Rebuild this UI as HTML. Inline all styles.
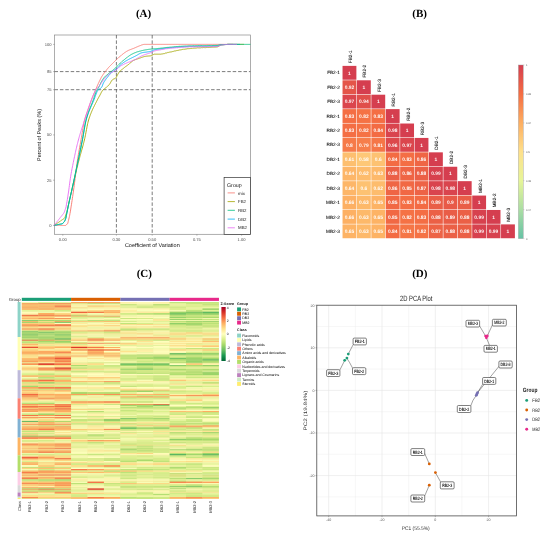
<!DOCTYPE html>
<html lang="en"><head><meta charset="utf-8"><title>Figure</title>
<style>html,body{margin:0;padding:0;background:#fff}svg{display:block;filter:blur(0.35px)}text{font-family:"Liberation Sans", Arial, sans-serif;text-rendering:geometricPrecision}.t{font-family:"Liberation Serif", "Times New Roman", serif;font-weight:bold;font-size:11px}</style></head><body>
<svg width="550" height="542" viewBox="0 0 550 542">
<rect width="550" height="542" fill="#fff"/>
<text class="t" x="143.6" y="17.3" text-anchor="middle">(A)</text>
<text class="t" x="419.7" y="17.2" text-anchor="middle">(B)</text>
<text class="t" x="144.3" y="277.1" text-anchor="middle">(C)</text>
<text class="t" x="419.8" y="277" text-anchor="middle">(D)</text>
<g id="panelA">
<rect x="54.5" y="35" width="195.9" height="199.3" fill="#fff" stroke="#8a8a8a" stroke-width="0.7"/>
<line x1="116.4" y1="35" x2="116.4" y2="234.3" stroke="#505050" stroke-width="0.75" stroke-dasharray="3.5 1.9"/>
<line x1="152.2" y1="35" x2="152.2" y2="234.3" stroke="#505050" stroke-width="0.75" stroke-dasharray="3.5 1.9"/>
<line x1="54.5" y1="71.6" x2="250.4" y2="71.6" stroke="#505050" stroke-width="0.75" stroke-dasharray="3.5 1.9"/>
<line x1="54.5" y1="89.7" x2="250.4" y2="89.7" stroke="#505050" stroke-width="0.75" stroke-dasharray="3.5 1.9"/>
<polyline fill="none" stroke="#F8766D" stroke-width="0.9" stroke-linejoin="round" points="54.1,225.4 54.4,225.4 54.7,225.4 55.0,225.4 55.3,225.4 55.6,225.4 55.9,225.4 56.2,225.4 56.5,225.4 56.8,225.4 57.1,225.4 57.4,225.4 57.7,225.4 58.0,225.4 58.3,225.4 58.6,225.4 58.9,225.4 59.2,225.4 59.5,225.4 59.8,225.4 60.1,225.5 60.4,225.5 60.7,225.5 61.0,225.5 61.3,225.5 61.6,225.5 61.9,225.5 62.2,225.5 62.5,225.5 62.8,225.5 63.1,225.5 63.4,225.5 63.7,225.5 64.0,225.5 64.3,225.5 64.6,225.5 64.9,225.5 65.2,225.5 65.5,225.5 65.8,225.2 66.1,225.0 66.4,224.7 66.7,224.5 67.0,224.2 67.3,223.9 67.6,223.7 67.9,222.8 68.2,221.5 68.5,220.3 68.8,219.1 69.1,217.9 69.4,216.6 69.7,215.2 70.0,213.4 70.3,211.9 70.6,210.0 70.9,208.0 71.2,206.1 71.5,204.2 71.8,202.2 72.1,200.3 72.4,198.3 72.7,196.3 73.0,194.2 73.3,192.1 73.6,190.0 73.9,187.8 74.2,185.5 74.5,183.1 74.8,180.8 75.1,178.4 75.4,176.1 75.7,173.7 76.0,171.2 76.3,168.9 76.6,166.5 76.9,164.2 77.2,162.1 77.5,160.0 77.8,158.1 78.1,156.2 78.4,154.4 78.7,152.7 79.0,151.0 79.3,149.3 79.6,147.7 79.9,146.0 80.2,144.4 80.5,142.8 80.8,141.1 81.1,139.4 81.4,137.7 81.7,135.9 82.0,134.1 82.3,132.2 82.6,130.4 82.9,128.6 83.2,126.9 83.5,125.2 83.8,123.6 84.1,122.2 84.4,120.8 84.7,119.6 85.0,118.5 85.3,117.5 85.6,116.5 85.9,115.6 86.2,114.7 86.5,113.9 86.8,113.1 87.1,112.3 87.4,111.4 87.7,110.6 88.0,109.7 88.3,108.8 88.6,107.9 88.9,107.1 89.2,106.2 89.5,105.3 89.8,104.4 90.1,103.6 90.4,102.7 90.7,101.9 91.0,101.1 91.3,100.3 91.6,99.5 91.9,98.7 92.2,97.9 92.5,97.2 92.8,96.4 93.1,95.7 93.4,95.0 93.7,94.3 94.0,93.5 94.3,92.8 94.6,92.1 94.9,91.4 95.2,90.7 95.5,90.0 95.8,89.3 96.1,88.6 96.4,87.9 96.7,87.2 97.0,86.5 97.3,85.8 97.6,85.1 97.9,84.5 98.2,83.8 98.5,83.2 98.8,82.5 99.1,81.9 99.4,81.2 99.7,80.6 100.0,80.0 100.3,79.4 100.6,78.8 100.9,78.2 101.2,77.6 101.5,77.1 101.8,76.5 102.1,76.0 102.4,75.6 102.7,75.1 103.0,74.7 103.3,74.2 103.6,73.8 103.9,73.4 104.2,73.0 104.5,72.6 104.8,72.2 105.1,71.8 105.4,71.4 105.7,71.0 106.0,70.7 106.3,70.3 106.6,69.9 106.9,69.5 107.2,69.2 107.5,68.8 107.8,68.4 108.1,68.1 108.4,67.7 108.7,67.4 109.0,67.0 109.3,66.7 109.6,66.4 109.9,66.1 110.2,65.8 110.5,65.5 110.8,65.2 111.1,64.9 111.4,64.6 111.7,64.3 112.0,64.0 112.3,63.7 112.6,63.4 112.9,63.1 113.2,62.8 113.5,62.5 113.8,62.2 114.1,61.9 114.4,61.6 114.7,61.3 115.0,61.0 115.3,60.7 115.6,60.4 115.9,60.1 116.2,59.8 116.5,59.5 116.8,59.2 117.1,58.9 117.4,58.7 117.7,58.4 118.0,58.1 118.3,57.9 118.6,57.6 118.9,57.3 119.2,57.1 119.5,56.8 119.8,56.6 120.1,56.3 120.4,56.1 120.7,55.8 121.0,55.6 121.3,55.3 121.6,55.1 121.9,54.8 122.2,54.6 122.5,54.3 122.8,54.1 123.1,53.9 123.4,53.6 123.7,53.4 124.0,53.1 124.3,52.9 124.6,52.7 124.9,52.5 125.2,52.3 125.5,52.1 125.8,51.9 126.1,51.7 126.4,51.5 126.7,51.3 127.0,51.1 127.3,51.0 127.6,50.8 127.9,50.6 128.2,50.5 128.5,50.4 128.8,50.2 129.1,50.1 129.4,50.0 129.7,49.8 130.0,49.7 130.3,49.6 130.6,49.5 130.9,49.4 131.2,49.3 131.5,49.2 131.8,49.0 132.1,48.9 132.4,48.8 132.7,48.7 133.0,48.6 133.3,48.5 133.6,48.4 133.9,48.3 134.2,48.1 134.5,48.0 134.8,47.9 135.1,47.8 135.4,47.6 135.7,47.5 136.0,47.4 136.3,47.2 136.6,47.1 136.9,47.0 137.2,46.8 137.5,46.7 137.8,46.5 138.1,46.4 138.4,46.3 138.7,46.2 139.0,46.0 139.3,45.9 139.6,45.8 139.9,45.7 140.2,45.6 140.5,45.5 140.8,45.4 141.1,45.2 141.4,45.1 141.7,45.0 142.0,44.9 142.3,44.8 142.6,44.7 142.9,44.6 143.2,44.5 143.5,44.5 143.8,44.4 144.1,44.4 144.4,44.4 144.7,44.4 145.0,44.4 145.3,44.4 145.6,44.4 145.9,44.4 146.2,44.4 146.5,44.4 146.8,44.4 147.1,44.4 147.4,44.4 147.7,44.4 148.0,44.4 148.3,44.4 148.6,44.4 148.9,44.4 149.2,44.4 149.5,44.4 149.8,44.4 150.1,44.4 150.4,44.4 150.7,44.4 151.0,44.4 151.3,44.4 151.6,44.4 151.9,44.4 152.2,44.4 152.5,44.4 152.8,44.4 153.1,44.4 153.4,44.4 153.7,44.4 154.0,44.4 154.3,44.4 154.6,44.4 154.9,44.4 155.2,44.4 155.5,44.4 155.8,44.4 156.1,44.4 156.4,44.4 156.7,44.4 157.0,44.4 157.3,44.4 157.6,44.4 157.9,44.4 158.2,44.4 158.5,44.4 158.8,44.4 159.1,44.4 159.4,44.4 159.7,44.4 160.0,44.4 160.3,44.4 160.6,44.4 160.9,44.4 161.2,44.4 161.5,44.4 161.8,44.4 162.1,44.4 162.4,44.4 162.7,44.4 163.0,44.4 163.3,44.4 163.6,44.4 163.9,44.4 164.2,44.4 164.5,44.4 164.8,44.4 165.1,44.4 165.4,44.4 165.7,44.4 166.0,44.4 166.3,44.4 166.6,44.4 166.9,44.4 167.2,44.4 167.5,44.4 167.8,44.4 168.1,44.4 168.4,44.4 168.7,44.4 169.0,44.4 169.3,44.4 169.6,44.4 169.9,44.4 170.2,44.4 170.5,44.4 170.8,44.4 171.1,44.4 171.4,44.4 171.7,44.4 172.0,44.4 172.3,44.4 172.6,44.4 172.9,44.4 173.2,44.4 173.5,44.4 173.8,44.4 174.1,44.4 174.4,44.4 174.7,44.4 175.0,44.4 175.3,44.4 175.6,44.4 175.9,44.4 176.2,44.4 176.5,44.4 176.8,44.4 177.1,44.4 177.4,44.4 177.7,44.4 178.0,44.4 178.3,44.4 178.6,44.4 178.9,44.4 179.2,44.4 179.5,44.4 179.8,44.4 180.1,44.4 180.4,44.4 180.7,44.4 181.0,44.4 181.3,44.4 181.6,44.4 181.9,44.4 182.2,44.4 182.5,44.4 182.8,44.4 183.1,44.4 183.4,44.4 183.7,44.4 184.0,44.4 184.3,44.4 184.6,44.4 184.9,44.4 185.2,44.4 185.5,44.4 185.8,44.4 186.1,44.4 186.4,44.4 186.7,44.4 187.0,44.4 187.3,44.4 187.6,44.4 187.9,44.4 188.2,44.4 188.5,44.4 188.8,44.4 189.1,44.4 189.4,44.4 189.7,44.4 190.0,44.4 190.3,44.4 190.6,44.4 190.9,44.4 191.2,44.4 191.5,44.4 191.8,44.4 192.1,44.4 192.4,44.4 192.7,44.4 193.0,44.4 193.3,44.4 193.6,44.4 193.9,44.4 194.2,44.4 194.5,44.4 194.8,44.4 195.1,44.4 195.4,44.4 195.7,44.4 196.0,44.4 196.3,44.4 196.6,44.4 196.9,44.4 197.2,44.4 197.5,44.4 197.8,44.4 198.1,44.4 198.4,44.4 198.7,44.4 199.0,44.4 199.3,44.4 199.6,44.4 199.9,44.4 200.2,44.4 200.5,44.4 200.8,44.4 201.1,44.4 201.4,44.4 201.7,44.4 202.0,44.4 202.3,44.4 202.6,44.4 202.9,44.4 203.2,44.4 203.5,44.4 203.8,44.4 204.1,44.4 204.4,44.4 204.7,44.4 205.0,44.4 205.3,44.4 205.6,44.4 205.9,44.4 206.2,44.4 206.5,44.4 206.8,44.4 207.1,44.4 207.4,44.4 207.7,44.4 208.0,44.4 208.3,44.4 208.6,44.4 208.9,44.4 209.2,44.4 209.5,44.4 209.8,44.4 210.1,44.4 210.4,44.4 210.7,44.4 211.0,44.4 211.3,44.4 211.6,44.4 211.9,44.4 212.2,44.4 212.5,44.4 212.8,44.4 213.1,44.4 213.4,44.4 213.7,44.4 214.0,44.4 214.3,44.4 214.6,44.4 214.9,44.4 215.2,44.4 215.5,44.4 215.8,44.4 216.1,44.4 216.4,44.4 216.7,44.4 217.0,44.4 217.3,44.4 217.6,44.4 217.9,44.4 218.2,44.4 218.5,44.4 218.8,44.4 219.1,44.4 219.4,44.4 219.7,44.4 220.0,44.4 220.3,44.4 220.6,44.4 220.9,44.4 221.2,44.4 221.5,44.4 221.8,44.4 222.1,44.4 222.4,44.4 222.7,44.4 223.0,44.4 223.3,44.4 223.6,44.4 223.9,44.4 224.2,44.4 224.5,44.4 224.8,44.4 225.1,44.4 225.4,44.4 225.7,44.4 226.0,44.4 226.3,44.4 226.6,44.4 226.9,44.4 227.2,44.4 227.5,44.4 227.8,44.4 228.1,44.4 228.4,44.4 228.7,44.4 229.0,44.4 229.3,44.4 229.6,44.4 229.9,44.4 230.2,44.4 230.5,44.4 230.8,44.4 231.1,44.4 231.4,44.4 231.7,44.4 232.0,44.4 232.3,44.4 232.6,44.4 232.9,44.4 233.0,44.4"/>
<polyline fill="none" stroke="#A3A500" stroke-width="0.9" stroke-linejoin="round" points="54.1,225.4 54.4,225.2 54.7,225.0 55.0,224.8 55.3,224.6 55.6,224.4 55.9,224.2 56.2,223.9 56.5,223.7 56.8,223.5 57.1,223.3 57.4,223.1 57.7,222.9 58.0,222.7 58.3,222.5 58.6,222.3 58.9,222.1 59.2,221.9 59.5,221.7 59.8,221.5 60.1,221.3 60.4,221.0 60.7,220.8 61.0,220.6 61.3,220.4 61.6,220.2 61.9,220.0 62.2,219.8 62.5,219.6 62.8,219.4 63.1,219.2 63.4,219.0 63.7,218.8 64.0,218.6 64.3,218.3 64.6,218.1 64.9,217.7 65.2,216.8 65.5,215.9 65.8,215.0 66.1,214.1 66.4,213.2 66.7,212.3 67.0,211.4 67.3,210.0 67.6,208.6 67.9,207.2 68.2,205.8 68.5,204.4 68.8,203.0 69.1,201.6 69.4,200.2 69.7,199.0 70.0,197.7 70.3,196.3 70.6,195.0 70.9,193.8 71.2,192.5 71.5,191.3 71.8,190.0 72.1,188.7 72.4,187.5 72.7,186.2 73.0,184.9 73.3,183.6 73.6,182.4 73.9,181.1 74.2,179.8 74.5,178.5 74.8,177.3 75.1,176.0 75.4,174.7 75.7,173.5 76.0,172.2 76.3,170.9 76.6,169.7 76.9,168.5 77.2,167.2 77.5,166.0 77.8,164.8 78.1,163.6 78.4,162.4 78.7,161.2 79.0,160.0 79.3,158.8 79.6,157.7 79.9,156.6 80.2,155.5 80.5,154.4 80.8,153.4 81.1,152.3 81.4,151.2 81.7,150.2 82.0,149.1 82.3,148.1 82.6,147.0 82.9,145.9 83.2,144.8 83.5,143.6 83.8,142.4 84.1,141.2 84.4,140.0 84.7,138.7 85.0,137.3 85.3,135.8 85.6,134.3 85.9,132.7 86.2,131.1 86.5,129.5 86.8,127.9 87.1,126.4 87.4,124.9 87.7,123.5 88.0,122.2 88.3,121.0 88.6,120.0 88.9,119.0 89.2,118.1 89.5,117.2 89.8,116.4 90.1,115.5 90.4,114.7 90.7,113.9 91.0,113.2 91.3,112.4 91.6,111.7 91.9,111.0 92.2,110.3 92.5,109.6 92.8,109.0 93.1,108.3 93.4,107.7 93.7,107.1 94.0,106.5 94.3,105.9 94.6,105.3 94.9,104.7 95.2,104.1 95.5,103.5 95.8,102.9 96.1,102.4 96.4,101.8 96.7,101.2 97.0,100.6 97.3,100.0 97.6,99.4 97.9,98.8 98.2,98.3 98.5,97.7 98.8,97.2 99.1,96.7 99.4,96.1 99.7,95.6 100.0,95.0 100.3,94.5 100.6,93.9 100.9,93.3 101.2,92.7 101.5,92.1 101.8,91.6 102.1,91.1 102.4,90.7 102.7,90.3 103.0,90.0 103.3,89.7 103.6,89.4 103.9,89.2 104.2,88.9 104.5,88.7 104.8,88.5 105.1,88.3 105.4,88.1 105.7,87.9 106.0,87.6 106.3,87.4 106.6,87.1 106.9,86.9 107.2,86.6 107.5,86.3 107.8,86.1 108.1,85.8 108.4,85.5 108.7,85.2 109.0,84.9 109.3,84.5 109.6,84.1 109.9,83.7 110.2,83.2 110.5,82.7 110.8,82.1 111.1,81.6 111.4,81.1 111.7,80.6 112.0,80.2 112.3,79.9 112.6,79.7 112.9,79.5 113.2,79.3 113.5,79.1 113.8,79.0 114.1,78.9 114.4,78.7 114.7,78.6 115.0,78.4 115.3,78.3 115.6,78.1 115.9,77.8 116.2,77.5 116.5,76.9 116.8,76.3 117.1,75.6 117.4,75.0 117.7,74.5 118.0,74.0 118.3,73.5 118.6,73.0 118.9,72.5 119.2,72.1 119.5,71.7 119.8,71.4 120.1,71.1 120.4,70.8 120.7,70.6 121.0,70.3 121.3,70.1 121.6,69.8 121.9,69.6 122.2,69.3 122.5,69.1 122.8,68.8 123.1,68.6 123.4,68.3 123.7,68.1 124.0,67.8 124.3,67.6 124.6,67.3 124.9,67.1 125.2,66.9 125.5,66.7 125.8,66.5 126.1,66.2 126.4,66.0 126.7,65.8 127.0,65.6 127.3,65.4 127.6,65.2 127.9,65.0 128.2,64.7 128.5,64.5 128.8,64.3 129.1,64.0 129.4,63.8 129.7,63.5 130.0,63.2 130.3,63.0 130.6,62.7 130.9,62.4 131.2,62.1 131.5,61.8 131.8,61.6 132.1,61.3 132.4,61.1 132.7,60.9 133.0,60.7 133.3,60.5 133.6,60.4 133.9,60.2 134.2,60.1 134.5,60.0 134.8,59.8 135.1,59.7 135.4,59.6 135.7,59.5 136.0,59.4 136.3,59.3 136.6,59.2 136.9,59.1 137.2,59.0 137.5,58.9 137.8,58.8 138.1,58.7 138.4,58.6 138.7,58.5 139.0,58.4 139.3,58.3 139.6,58.2 139.9,58.1 140.2,58.0 140.5,57.9 140.8,57.7 141.1,57.6 141.4,57.5 141.7,57.4 142.0,57.3 142.3,57.2 142.6,57.1 142.9,57.0 143.2,56.9 143.5,56.8 143.8,56.7 144.1,56.6 144.4,56.5 144.7,56.5 145.0,56.4 145.3,56.4 145.6,56.3 145.9,56.3 146.2,56.2 146.5,56.2 146.8,56.2 147.1,56.1 147.4,56.1 147.7,56.1 148.0,56.1 148.3,56.0 148.6,56.0 148.9,56.0 149.2,56.0 149.5,55.9 149.8,55.9 150.1,55.8 150.4,55.8 150.7,55.8 151.0,55.7 151.3,55.6 151.6,55.5 151.9,55.4 152.2,55.2 152.5,55.1 152.8,54.9 153.1,54.7 153.4,54.6 153.7,54.4 154.0,54.3 154.3,54.2 154.6,54.2 154.9,54.2 155.2,54.2 155.5,54.2 155.8,54.2 156.1,54.2 156.4,54.2 156.7,54.2 157.0,54.2 157.3,54.2 157.6,54.2 157.9,54.2 158.2,54.2 158.5,54.2 158.8,54.2 159.1,54.2 159.4,54.2 159.7,54.2 160.0,54.2 160.3,54.2 160.6,54.2 160.9,54.2 161.2,54.1 161.5,54.0 161.8,54.1 162.1,54.1 162.4,53.9 162.7,53.9 163.0,53.8 163.3,53.7 163.6,53.7 163.9,53.6 164.2,53.6 164.5,53.6 164.8,53.4 165.1,53.3 165.4,53.2 165.7,53.0 166.0,53.2 166.3,53.0 166.6,53.0 166.9,52.8 167.2,52.7 167.5,52.6 167.8,52.4 168.1,52.5 168.4,52.5 168.7,52.3 169.0,52.3 169.3,52.3 169.6,52.1 169.9,51.9 170.2,52.1 170.5,51.9 170.8,51.9 171.1,51.8 171.4,51.8 171.7,51.8 172.0,51.5 172.3,51.6 172.6,51.5 172.9,51.5 173.2,51.5 173.5,51.3 173.8,51.3 174.1,51.2 174.4,51.1 174.7,50.9 175.0,50.9 175.3,51.0 175.6,50.8 175.9,50.7 176.2,50.7 176.5,50.6 176.8,50.5 177.1,50.5 177.4,50.5 177.7,50.4 178.0,50.3 178.3,50.4 178.6,50.2 178.9,50.1 179.2,50.1 179.5,50.0 179.8,49.9 180.1,50.0 180.4,49.9 180.7,49.8 181.0,49.8 181.3,49.7 181.6,49.7 181.9,49.7 182.2,49.6 182.5,49.4 182.8,49.4 183.1,49.5 183.4,49.2 183.7,49.2 184.0,49.2 184.3,49.3 184.6,49.2 184.9,49.0 185.2,49.1 185.5,49.1 185.8,49.0 186.1,49.0 186.4,49.0 186.7,48.8 187.0,48.8 187.3,48.7 187.6,48.7 187.9,48.8 188.2,48.6 188.5,48.7 188.8,48.6 189.1,48.5 189.4,48.6 189.7,48.6 190.0,48.6 190.3,48.5 190.6,48.5 190.9,48.3 191.2,48.4 191.5,48.4 191.8,48.4 192.1,48.5 192.4,48.2 192.7,48.3 193.0,48.4 193.3,48.3 193.6,48.2 193.9,48.1 194.2,48.1 194.5,48.2 194.8,48.1 195.1,48.2 195.4,48.1 195.7,48.1 196.0,48.0 196.3,48.1 196.6,47.9 196.9,48.1 197.2,47.9 197.5,47.9 197.8,47.8 198.1,47.9 198.4,47.8 198.7,47.9 199.0,47.8 199.3,47.9 199.6,47.9 199.9,47.7 200.2,47.8 200.5,47.8 200.8,47.8 201.1,47.7 201.4,47.6 201.7,47.7 202.0,47.7 202.3,47.7 202.6,47.7 202.9,47.7 203.2,47.7 203.5,47.5 203.8,47.5 204.1,47.6 204.4,47.6 204.7,47.5 205.0,47.4 205.3,47.6 205.6,47.6 205.9,47.4 206.2,47.5 206.5,47.5 206.8,47.4 207.1,47.4 207.4,47.4 207.7,47.4 208.0,47.3 208.3,47.4 208.6,47.5 208.9,47.4 209.2,47.3 209.5,47.4 209.8,47.4 210.1,47.4 210.4,47.3 210.7,47.4 211.0,47.3 211.3,47.2 211.6,47.3 211.9,47.2 212.2,47.2 212.5,47.2 212.8,47.2 213.1,47.3 213.4,47.1 213.7,47.2 214.0,47.2 214.3,47.1 214.6,47.2 214.9,47.2 215.2,47.1 215.5,47.1 215.8,47.1 216.1,47.1 216.4,47.0 216.7,47.0 217.0,47.0 217.3,46.9 217.6,46.8 217.9,46.7 218.2,46.5 218.5,46.4 218.8,46.2 219.1,46.0 219.4,45.8 219.7,45.7 220.0,45.5 220.3,45.3 220.6,45.2 220.9,45.1 221.2,45.0 221.5,44.9 221.8,44.9 222.1,44.8 222.4,44.8 222.7,44.8 223.0,44.8 223.3,44.7 223.6,44.7 223.9,44.7 224.2,44.6 224.5,44.6 224.8,44.6 225.1,44.6 225.4,44.6 225.7,44.5 226.0,44.5 226.3,44.5 226.6,44.5 226.9,44.5 227.2,44.5 227.5,44.4 227.8,44.4 228.1,44.4 228.4,44.4 228.7,44.4 229.0,44.4 229.3,44.4 229.6,44.4 229.9,44.4 230.2,44.4 230.5,44.4 230.8,44.4 231.1,44.4 231.4,44.4 231.7,44.4 232.0,44.4 232.3,44.4 232.6,44.4 232.9,44.4 233.2,44.4 233.5,44.4 233.8,44.4 234.1,44.4 234.4,44.4 234.7,44.4 235.0,44.4 235.3,44.4 235.6,44.4 235.9,44.4 236.2,44.4 236.5,44.4 236.8,44.4 237.1,44.4 237.4,44.4 237.7,44.4 238.0,44.4 238.3,44.4 238.6,44.4 238.9,44.4 239.2,44.4 239.5,44.4 239.8,44.4 240.1,44.4 240.4,44.4 240.7,44.4 241.0,44.4 241.3,44.4 241.6,44.4 241.9,44.4 242.2,44.4 242.5,44.4 242.8,44.4 243.1,44.4 243.4,44.4 243.7,44.4 244.0,44.4"/>
<polyline fill="none" stroke="#00B0F6" stroke-width="0.9" stroke-linejoin="round" points="54.1,225.4 54.4,225.3 54.7,225.3 55.0,225.2 55.3,225.2 55.6,225.1 55.9,225.1 56.2,225.0 56.5,225.0 56.8,224.9 57.1,224.9 57.4,224.8 57.7,224.7 58.0,224.7 58.3,224.6 58.6,224.6 58.9,224.5 59.2,224.5 59.5,224.4 59.8,224.4 60.1,224.3 60.4,224.2 60.7,224.2 61.0,224.1 61.3,224.1 61.6,224.0 61.9,224.0 62.2,223.9 62.5,223.7 62.8,223.4 63.1,223.0 63.4,222.7 63.7,222.4 64.0,222.1 64.3,221.7 64.6,221.4 64.9,220.6 65.2,219.9 65.5,219.1 65.8,218.3 66.1,216.8 66.4,215.3 66.7,213.9 67.0,212.4 67.3,210.9 67.6,209.4 67.9,208.0 68.2,206.5 68.5,205.0 68.8,203.7 69.1,202.4 69.4,201.0 69.7,199.7 70.0,198.4 70.3,197.0 70.6,195.7 70.9,194.4 71.2,193.1 71.5,191.8 71.8,190.5 72.1,189.1 72.4,187.7 72.7,186.3 73.0,185.0 73.3,183.6 73.6,182.2 73.9,180.8 74.2,179.4 74.5,178.0 74.8,176.6 75.1,175.2 75.4,173.7 75.7,172.3 76.0,170.9 76.3,169.5 76.6,168.1 76.9,166.6 77.2,165.2 77.5,163.8 77.8,162.4 78.1,160.9 78.4,159.5 78.7,158.1 79.0,156.7 79.3,155.3 79.6,153.9 79.9,152.5 80.2,151.1 80.5,149.7 80.8,148.3 81.1,146.9 81.4,145.4 81.7,144.0 82.0,142.5 82.3,141.0 82.6,139.5 82.9,137.9 83.2,136.2 83.5,134.4 83.8,132.6 84.1,130.8 84.4,129.1 84.7,127.3 85.0,125.6 85.3,124.0 85.6,122.5 85.9,121.2 86.2,120.0 86.5,118.9 86.8,117.9 87.1,116.9 87.4,116.0 87.7,115.0 88.0,114.2 88.3,113.3 88.6,112.5 88.9,111.7 89.2,111.0 89.5,110.2 89.8,109.5 90.1,108.8 90.4,108.1 90.7,107.4 91.0,106.7 91.3,106.0 91.6,105.4 91.9,104.7 92.2,104.0 92.5,103.3 92.8,102.6 93.1,101.9 93.4,101.2 93.7,100.5 94.0,99.7 94.3,99.0 94.6,98.1 94.9,97.3 95.2,96.5 95.5,95.6 95.8,94.8 96.1,94.0 96.4,93.2 96.7,92.5 97.0,91.8 97.3,91.2 97.6,90.7 97.9,90.3 98.2,90.0 98.5,89.7 98.8,89.4 99.1,89.2 99.4,89.0 99.7,88.9 100.0,88.7 100.3,88.5 100.6,88.3 100.9,88.0 101.2,87.8 101.5,87.4 101.8,87.0 102.1,86.4 102.4,85.6 102.7,84.8 103.0,84.0 103.3,83.3 103.6,82.7 103.9,82.2 104.2,81.7 104.5,81.2 104.8,80.8 105.1,80.3 105.4,79.9 105.7,79.5 106.0,79.1 106.3,78.7 106.6,78.3 106.9,78.0 107.2,77.6 107.5,77.2 107.8,76.8 108.1,76.4 108.4,76.0 108.7,75.6 109.0,75.3 109.3,74.9 109.6,74.6 109.9,74.2 110.2,73.9 110.5,73.6 110.8,73.3 111.1,73.0 111.4,72.7 111.7,72.5 112.0,72.2 112.3,72.0 112.6,71.8 112.9,71.5 113.2,71.3 113.5,71.1 113.8,70.8 114.1,70.6 114.4,70.4 114.7,70.1 115.0,69.9 115.3,69.7 115.6,69.5 115.9,69.3 116.2,69.0 116.5,68.8 116.8,68.6 117.1,68.4 117.4,68.1 117.7,67.9 118.0,67.6 118.3,67.3 118.6,67.0 118.9,66.6 119.2,66.2 119.5,65.8 119.8,65.5 120.1,65.2 120.4,64.9 120.7,64.7 121.0,64.4 121.3,64.2 121.6,63.9 121.9,63.7 122.2,63.5 122.5,63.2 122.8,63.0 123.1,62.8 123.4,62.6 123.7,62.4 124.0,62.2 124.3,62.0 124.6,61.8 124.9,61.6 125.2,61.4 125.5,61.2 125.8,61.0 126.1,60.9 126.4,60.7 126.7,60.5 127.0,60.3 127.3,60.2 127.6,60.0 127.9,59.8 128.2,59.6 128.5,59.5 128.8,59.3 129.1,59.2 129.4,59.0 129.7,58.9 130.0,58.7 130.3,58.6 130.6,58.4 130.9,58.3 131.2,58.1 131.5,58.0 131.8,57.8 132.1,57.7 132.4,57.6 132.7,57.4 133.0,57.3 133.3,57.1 133.6,57.0 133.9,56.8 134.2,56.7 134.5,56.5 134.8,56.4 135.1,56.2 135.4,56.1 135.7,55.9 136.0,55.7 136.3,55.6 136.6,55.4 136.9,55.2 137.2,55.0 137.5,54.9 137.8,54.7 138.1,54.5 138.4,54.3 138.7,54.2 139.0,54.0 139.3,53.8 139.6,53.7 139.9,53.5 140.2,53.4 140.5,53.2 140.8,53.1 141.1,53.0 141.4,52.9 141.7,52.8 142.0,52.7 142.3,52.7 142.6,52.6 142.9,52.5 143.2,52.5 143.5,52.4 143.8,52.4 144.1,52.3 144.4,52.3 144.7,52.3 145.0,52.2 145.3,52.2 145.6,52.2 145.9,52.1 146.2,52.1 146.5,52.1 146.8,52.0 147.1,52.0 147.4,51.9 147.7,51.9 148.0,51.9 148.3,51.8 148.6,51.8 148.9,51.7 149.2,51.7 149.5,51.6 149.8,51.5 150.1,51.4 150.4,51.4 150.7,51.3 151.0,51.1 151.3,51.0 151.6,50.9 151.9,50.8 152.2,50.7 152.5,50.5 152.8,50.4 153.1,50.3 153.4,50.2 153.7,50.1 154.0,50.0 154.3,49.9 154.6,49.8 154.9,49.8 155.2,49.7 155.5,49.6 155.8,49.6 156.1,49.5 156.4,49.5 156.7,49.4 157.0,49.4 157.3,49.4 157.6,49.3 157.9,49.3 158.2,49.2 158.5,49.2 158.8,49.2 159.1,49.1 159.4,49.1 159.7,49.0 160.0,49.0 160.3,48.9 160.6,48.9 160.9,49.0 161.2,48.9 161.5,48.7 161.8,48.8 162.1,48.8 162.4,48.8 162.7,48.6 163.0,48.7 163.3,48.6 163.6,48.5 163.9,48.3 164.2,48.4 164.5,48.3 164.8,48.3 165.1,48.2 165.4,48.3 165.7,48.1 166.0,48.2 166.3,48.0 166.6,48.2 166.9,47.9 167.2,48.1 167.5,47.9 167.8,48.0 168.1,48.0 168.4,47.9 168.7,47.7 169.0,47.7 169.3,47.7 169.6,47.8 169.9,47.8 170.2,47.8 170.5,47.6 170.8,47.6 171.1,47.6 171.4,47.6 171.7,47.6 172.0,47.5 172.3,47.6 172.6,47.5 172.9,47.5 173.2,47.3 173.5,47.4 173.8,47.4 174.1,47.3 174.4,47.4 174.7,47.2 175.0,47.3 175.3,47.3 175.6,47.3 175.9,47.1 176.2,47.2 176.5,47.2 176.8,47.0 177.1,47.2 177.4,47.1 177.7,47.0 178.0,47.1 178.3,47.1 178.6,47.0 178.9,46.9 179.2,46.8 179.5,47.0 179.8,46.9 180.1,46.9 180.4,46.9 180.7,46.9 181.0,46.9 181.3,46.8 181.6,46.7 181.9,46.7 182.2,46.8 182.5,46.8 182.8,46.7 183.1,46.8 183.4,46.8 183.7,46.6 184.0,46.6 184.3,46.7 184.6,46.7 184.9,46.7 185.2,46.7 185.5,46.7 185.8,46.5 186.1,46.6 186.4,46.6 186.7,46.4 187.0,46.5 187.3,46.6 187.6,46.5 187.9,46.5 188.2,46.6 188.5,46.4 188.8,46.4 189.1,46.4 189.4,46.4 189.7,46.4 190.0,46.4 190.3,46.3 190.6,46.4 190.9,46.4 191.2,46.3 191.5,46.5 191.8,46.4 192.1,46.3 192.4,46.3 192.7,46.3 193.0,46.3 193.3,46.4 193.6,46.3 193.9,46.2 194.2,46.4 194.5,46.3 194.8,46.3 195.1,46.2 195.4,46.3 195.7,46.4 196.0,46.3 196.3,46.3 196.6,46.3 196.9,46.3 197.2,46.3 197.5,46.2 197.8,46.3 198.1,46.2 198.4,46.1 198.7,46.3 199.0,46.3 199.3,46.2 199.6,46.2 199.9,46.3 200.2,46.3 200.5,46.1 200.8,46.2 201.1,46.2 201.4,46.2 201.7,46.1 202.0,46.2 202.3,46.3 202.6,46.2 202.9,46.3 203.2,46.2 203.5,46.2 203.8,46.2 204.1,46.1 204.4,46.3 204.7,46.2 205.0,46.1 205.3,46.2 205.6,46.2 205.9,46.1 206.2,46.3 206.5,46.1 206.8,46.3 207.1,46.1 207.4,46.2 207.7,46.1 208.0,46.1 208.3,46.1 208.6,46.1 208.9,46.1 209.2,46.0 209.5,46.0 209.8,46.0 210.1,46.1 210.4,46.2 210.7,46.1 211.0,46.0 211.3,46.2 211.6,46.1 211.9,46.0 212.2,46.0 212.5,46.1 212.8,46.1 213.1,46.0 213.4,45.9 213.7,46.0 214.0,46.0 214.3,46.0 214.6,46.0 214.9,46.0 215.2,46.0 215.5,46.0 215.8,45.9 216.1,45.9 216.4,45.9 216.7,45.9 217.0,45.9 217.3,45.9 217.6,45.8 217.9,45.7 218.2,45.7 218.5,45.6 218.8,45.5 219.1,45.4 219.4,45.3 219.7,45.2 220.0,45.1 220.3,45.0 220.6,45.0 220.9,44.9 221.2,44.8 221.5,44.8 221.8,44.8 222.1,44.8 222.4,44.7 222.7,44.7 223.0,44.7 223.3,44.7 223.6,44.6 223.9,44.6 224.2,44.6 224.5,44.6 224.8,44.6 225.1,44.5 225.4,44.5 225.7,44.5 226.0,44.5 226.3,44.5 226.6,44.5 226.9,44.5 227.2,44.5 227.5,44.4 227.8,44.4 228.1,44.4 228.4,44.4 228.7,44.4 229.0,44.4 229.3,44.4 229.6,44.4 229.9,44.4 230.2,44.4 230.5,44.4 230.8,44.4 231.1,44.4 231.4,44.4 231.7,44.4 232.0,44.4 232.3,44.4 232.6,44.4 232.9,44.4 233.2,44.4 233.5,44.4 233.8,44.4 234.1,44.4 234.4,44.4 234.7,44.4 235.0,44.4 235.3,44.4 235.6,44.4 235.9,44.4 236.2,44.4 236.5,44.4 236.8,44.4 237.1,44.4 237.4,44.4 237.7,44.4 238.0,44.4 238.3,44.4 238.6,44.4 238.9,44.4 239.2,44.4 239.5,44.4 239.8,44.4 240.0,44.4"/>
<polyline fill="none" stroke="#00BF7D" stroke-width="0.9" stroke-linejoin="round" points="54.1,225.4 54.4,225.3 54.7,225.3 55.0,225.2 55.3,225.1 55.6,225.1 55.9,225.0 56.2,225.0 56.5,224.9 56.8,224.8 57.1,224.8 57.4,224.7 57.7,224.6 58.0,224.6 58.3,224.5 58.6,224.4 58.9,224.4 59.2,224.3 59.5,224.2 59.8,224.2 60.1,224.1 60.4,224.1 60.7,224.0 61.0,223.9 61.3,223.9 61.6,223.8 61.9,223.7 62.2,223.7 62.5,223.6 62.8,223.3 63.1,222.9 63.4,222.6 63.7,222.2 64.0,221.9 64.3,221.6 64.6,221.2 64.9,220.7 65.2,219.9 65.5,219.1 65.8,218.3 66.1,217.0 66.4,215.5 66.7,213.9 67.0,212.4 67.3,210.9 67.6,209.4 67.9,207.8 68.2,206.3 68.5,204.8 68.8,203.5 69.1,202.1 69.4,200.8 69.7,199.4 70.0,198.1 70.3,196.7 70.6,195.3 70.9,194.0 71.2,192.7 71.5,191.4 71.8,190.0 72.1,188.6 72.4,187.2 72.7,185.9 73.0,184.5 73.3,183.1 73.6,181.7 73.9,180.3 74.2,178.9 74.5,177.5 74.8,176.1 75.1,174.7 75.4,173.3 75.7,171.9 76.0,170.5 76.3,169.0 76.6,167.6 76.9,166.2 77.2,164.8 77.5,163.3 77.8,161.9 78.1,160.5 78.4,159.0 78.7,157.6 79.0,156.2 79.3,154.7 79.6,153.3 79.9,151.9 80.2,150.4 80.5,149.0 80.8,147.5 81.1,146.0 81.4,144.5 81.7,143.0 82.0,141.5 82.3,140.0 82.6,138.4 82.9,136.7 83.2,135.0 83.5,133.2 83.8,131.5 84.1,129.7 84.4,127.9 84.7,126.2 85.0,124.6 85.3,123.1 85.6,121.7 85.9,120.4 86.2,119.3 86.5,118.2 86.8,117.1 87.1,116.1 87.4,115.2 87.7,114.3 88.0,113.4 88.3,112.5 88.6,111.7 88.9,110.9 89.2,110.1 89.5,109.4 89.8,108.6 90.1,107.9 90.4,107.1 90.7,106.4 91.0,105.7 91.3,104.9 91.6,104.2 91.9,103.5 92.2,102.7 92.5,101.9 92.8,101.1 93.1,100.3 93.4,99.4 93.7,98.5 94.0,97.6 94.3,96.7 94.6,95.7 94.9,94.8 95.2,94.0 95.5,93.1 95.8,92.4 96.1,91.7 96.4,91.1 96.7,90.6 97.0,90.0 97.3,89.6 97.6,89.1 97.9,88.6 98.2,88.2 98.5,87.7 98.8,87.1 99.1,86.5 99.4,85.9 99.7,85.3 100.0,84.6 100.3,84.0 100.6,83.3 100.9,82.7 101.2,82.1 101.5,81.6 101.8,81.1 102.1,80.6 102.4,80.1 102.7,79.6 103.0,79.1 103.3,78.7 103.6,78.2 103.9,77.8 104.2,77.5 104.5,77.1 104.8,76.8 105.1,76.5 105.4,76.2 105.7,75.9 106.0,75.7 106.3,75.5 106.6,75.2 106.9,75.0 107.2,74.7 107.5,74.5 107.8,74.2 108.1,74.0 108.4,73.7 108.7,73.5 109.0,73.2 109.3,73.0 109.6,72.8 109.9,72.5 110.2,72.3 110.5,72.0 110.8,71.8 111.1,71.6 111.4,71.3 111.7,71.1 112.0,70.9 112.3,70.7 112.6,70.4 112.9,70.2 113.2,70.0 113.5,69.7 113.8,69.5 114.1,69.2 114.4,69.0 114.7,68.7 115.0,68.4 115.3,68.2 115.6,67.9 115.9,67.5 116.2,67.2 116.5,66.9 116.8,66.6 117.1,66.3 117.4,66.0 117.7,65.7 118.0,65.4 118.3,65.1 118.6,64.8 118.9,64.5 119.2,64.2 119.5,63.9 119.8,63.6 120.1,63.3 120.4,63.0 120.7,62.8 121.0,62.5 121.3,62.2 121.6,61.9 121.9,61.7 122.2,61.4 122.5,61.1 122.8,60.9 123.1,60.6 123.4,60.4 123.7,60.1 124.0,59.9 124.3,59.6 124.6,59.4 124.9,59.1 125.2,58.9 125.5,58.7 125.8,58.4 126.1,58.2 126.4,57.9 126.7,57.7 127.0,57.5 127.3,57.2 127.6,57.0 127.9,56.8 128.2,56.5 128.5,56.3 128.8,56.1 129.1,55.9 129.4,55.7 129.7,55.5 130.0,55.3 130.3,55.1 130.6,54.9 130.9,54.7 131.2,54.5 131.5,54.4 131.8,54.2 132.1,54.1 132.4,53.9 132.7,53.8 133.0,53.6 133.3,53.5 133.6,53.3 133.9,53.2 134.2,53.1 134.5,52.9 134.8,52.8 135.1,52.7 135.4,52.6 135.7,52.5 136.0,52.3 136.3,52.2 136.6,52.1 136.9,52.0 137.2,51.9 137.5,51.8 137.8,51.7 138.1,51.7 138.4,51.6 138.7,51.5 139.0,51.4 139.3,51.3 139.6,51.2 139.9,51.1 140.2,51.1 140.5,51.0 140.8,50.9 141.1,50.8 141.4,50.7 141.7,50.7 142.0,50.6 142.3,50.5 142.6,50.5 142.9,50.4 143.2,50.3 143.5,50.3 143.8,50.2 144.1,50.2 144.4,50.1 144.7,50.0 145.0,50.0 145.3,49.9 145.6,49.9 145.9,49.8 146.2,49.8 146.5,49.7 146.8,49.7 147.1,49.6 147.4,49.6 147.7,49.5 148.0,49.5 148.3,49.4 148.6,49.4 148.9,49.4 149.2,49.3 149.5,49.3 149.8,49.2 150.1,49.2 150.4,49.2 150.7,49.1 151.0,49.1 151.3,49.0 151.6,49.0 151.9,49.0 152.2,48.9 152.5,48.9 152.8,48.9 153.1,48.9 153.4,48.8 153.7,48.8 154.0,48.8 154.3,48.8 154.6,48.7 154.9,48.7 155.2,48.7 155.5,48.7 155.8,48.6 156.1,48.6 156.4,48.6 156.7,48.6 157.0,48.5 157.3,48.5 157.6,48.5 157.9,48.5 158.2,48.5 158.5,48.4 158.8,48.4 159.1,48.4 159.4,48.4 159.7,48.3 160.0,48.3 160.3,48.2 160.6,48.3 160.9,48.1 161.2,48.2 161.5,48.1 161.8,48.0 162.1,48.0 162.4,48.0 162.7,48.1 163.0,48.1 163.3,47.8 163.6,47.9 163.9,48.0 164.2,47.9 164.5,47.8 164.8,47.7 165.1,47.8 165.4,47.6 165.7,47.7 166.0,47.7 166.3,47.6 166.6,47.5 166.9,47.4 167.2,47.5 167.5,47.4 167.8,47.3 168.1,47.3 168.4,47.4 168.7,47.3 169.0,47.3 169.3,47.2 169.6,47.3 169.9,47.1 170.2,47.1 170.5,47.1 170.8,47.2 171.1,47.1 171.4,47.1 171.7,47.1 172.0,47.0 172.3,47.0 172.6,46.9 172.9,47.1 173.2,47.0 173.5,47.0 173.8,46.9 174.1,46.9 174.4,46.7 174.7,46.8 175.0,46.7 175.3,46.7 175.6,46.7 175.9,46.7 176.2,46.6 176.5,46.6 176.8,46.6 177.1,46.7 177.4,46.7 177.7,46.6 178.0,46.6 178.3,46.4 178.6,46.6 178.9,46.5 179.2,46.4 179.5,46.4 179.8,46.3 180.1,46.4 180.4,46.4 180.7,46.3 181.0,46.4 181.3,46.2 181.6,46.4 181.9,46.4 182.2,46.3 182.5,46.2 182.8,46.3 183.1,46.3 183.4,46.2 183.7,46.1 184.0,46.1 184.3,46.1 184.6,46.1 184.9,46.1 185.2,46.1 185.5,46.0 185.8,46.0 186.1,46.0 186.4,46.1 186.7,46.0 187.0,45.9 187.3,45.9 187.6,46.0 187.9,45.9 188.2,45.9 188.5,45.9 188.8,45.9 189.1,45.9 189.4,45.9 189.7,45.9 190.0,46.0 190.3,45.8 190.6,46.0 190.9,45.9 191.2,45.9 191.5,45.9 191.8,45.8 192.1,45.9 192.4,45.9 192.7,45.9 193.0,45.8 193.3,45.8 193.6,45.7 193.9,45.7 194.2,45.9 194.5,45.7 194.8,45.9 195.1,45.7 195.4,45.7 195.7,45.8 196.0,45.8 196.3,45.8 196.6,45.7 196.9,45.8 197.2,45.7 197.5,45.8 197.8,45.8 198.1,45.7 198.4,45.6 198.7,45.7 199.0,45.7 199.3,45.7 199.6,45.8 199.9,45.8 200.2,45.8 200.5,45.7 200.8,45.7 201.1,45.7 201.4,45.6 201.7,45.6 202.0,45.6 202.3,45.6 202.6,45.8 202.9,45.7 203.2,45.8 203.5,45.7 203.8,45.7 204.1,45.6 204.4,45.6 204.7,45.7 205.0,45.6 205.3,45.7 205.6,45.6 205.9,45.6 206.2,45.6 206.5,45.7 206.8,45.6 207.1,45.5 207.4,45.7 207.7,45.5 208.0,45.7 208.3,45.6 208.6,45.5 208.9,45.7 209.2,45.6 209.5,45.6 209.8,45.5 210.1,45.6 210.4,45.6 210.7,45.5 211.0,45.7 211.3,45.5 211.6,45.7 211.9,45.4 212.2,45.5 212.5,45.5 212.8,45.5 213.1,45.5 213.4,45.4 213.7,45.5 214.0,45.6 214.3,45.4 214.6,45.5 214.9,45.5 215.2,45.5 215.5,45.4 215.8,45.4 216.1,45.4 216.4,45.4 216.7,45.4 217.0,45.4 217.3,45.4 217.6,45.3 217.9,45.3 218.2,45.2 218.5,45.2 218.8,45.1 219.1,45.1 219.4,45.0 219.7,45.0 220.0,44.9 220.3,44.9 220.6,44.8 220.9,44.8 221.2,44.7 221.5,44.7 221.8,44.7 222.1,44.7 222.4,44.7 222.7,44.6 223.0,44.6 223.3,44.6 223.6,44.6 223.9,44.6 224.2,44.6 224.5,44.5 224.8,44.5 225.1,44.5 225.4,44.5 225.7,44.5 226.0,44.5 226.3,44.5 226.6,44.5 226.9,44.4 227.2,44.4 227.5,44.4 227.8,44.4 228.1,44.4 228.4,44.4 228.7,44.4 229.0,44.4 229.3,44.4 229.6,44.4 229.9,44.4 230.2,44.4 230.5,44.4 230.8,44.4 231.1,44.4 231.4,44.4 231.7,44.4 232.0,44.4 232.3,44.4 232.6,44.4 232.9,44.4 233.2,44.4 233.5,44.4 233.8,44.4 234.1,44.4 234.4,44.4 234.7,44.4 235.0,44.4 235.3,44.4 235.6,44.4 235.9,44.4 236.2,44.4 236.5,44.4 236.8,44.4 237.1,44.4 237.4,44.4 237.7,44.4 238.0,44.4 238.3,44.4 238.6,44.4 238.9,44.4 239.2,44.4 239.5,44.4 239.8,44.4 240.1,44.4 240.4,44.4 240.7,44.4 241.0,44.4 241.3,44.4 241.6,44.4 241.9,44.4 242.2,44.4 242.5,44.4 242.8,44.4 243.1,44.4 243.4,44.4 243.7,44.4 244.0,44.4 244.3,44.4 244.6,44.4 244.9,44.4 245.2,44.4 245.5,44.4 245.8,44.4 246.1,44.4 246.4,44.4 246.7,44.4 247.0,44.4 247.3,44.4 247.6,44.4 247.9,44.4 248.2,44.4 248.5,44.4 248.8,44.4 249.1,44.4 249.4,44.4 249.7,44.4 250.0,44.4 250.3,44.4 250.4,44.4"/>
<polyline fill="none" stroke="#E76BF3" stroke-width="0.9" stroke-linejoin="round" points="54.1,225.4 54.4,225.0 54.7,224.6 55.0,224.3 55.3,223.9 55.6,223.5 55.9,223.1 56.2,222.7 56.5,222.4 56.8,222.0 57.1,221.6 57.4,221.2 57.7,220.9 58.0,220.5 58.3,220.1 58.6,219.7 58.9,219.3 59.2,219.0 59.5,218.6 59.8,218.2 60.1,217.8 60.4,217.4 60.7,217.1 61.0,216.7 61.3,216.3 61.6,215.9 61.9,215.6 62.2,215.2 62.5,214.8 62.8,214.4 63.1,214.0 63.4,213.7 63.7,213.3 64.0,212.9 64.3,212.1 64.6,211.3 64.9,210.4 65.2,209.6 65.5,208.8 65.8,208.0 66.1,206.6 66.4,204.8 66.7,203.1 67.0,201.4 67.3,199.7 67.6,198.0 67.9,196.1 68.2,194.0 68.5,192.0 68.8,190.0 69.1,187.7 69.4,185.4 69.7,183.1 70.0,180.8 70.3,178.7 70.6,176.8 70.9,175.0 71.2,173.3 71.5,171.6 71.8,170.0 72.1,168.4 72.4,166.9 72.7,165.4 73.0,163.9 73.3,162.4 73.6,161.0 73.9,159.5 74.2,158.1 74.5,156.7 74.8,155.2 75.1,153.9 75.4,152.5 75.7,151.1 76.0,149.8 76.3,148.5 76.6,147.2 76.9,145.9 77.2,144.7 77.5,143.5 77.8,142.3 78.1,141.1 78.4,140.0 78.7,138.9 79.0,137.8 79.3,136.7 79.6,135.7 79.9,134.7 80.2,133.7 80.5,132.7 80.8,131.7 81.1,130.8 81.4,129.8 81.7,128.9 82.0,127.9 82.3,127.0 82.6,126.1 82.9,125.2 83.2,124.3 83.5,123.4 83.8,122.4 84.1,121.5 84.4,120.6 84.7,119.7 85.0,118.8 85.3,117.8 85.6,116.9 85.9,116.0 86.2,115.0 86.5,114.1 86.8,113.2 87.1,112.3 87.4,111.3 87.7,110.4 88.0,109.5 88.3,108.6 88.6,107.7 88.9,106.9 89.2,106.0 89.5,105.1 89.8,104.3 90.1,103.4 90.4,102.6 90.7,101.8 91.0,101.0 91.3,100.3 91.6,99.5 91.9,98.7 92.2,98.0 92.5,97.2 92.8,96.5 93.1,95.7 93.4,95.0 93.7,94.3 94.0,93.6 94.3,92.9 94.6,92.3 94.9,91.6 95.2,91.1 95.5,90.5 95.8,90.0 96.1,89.5 96.4,89.1 96.7,88.6 97.0,88.3 97.3,87.9 97.6,87.6 97.9,87.2 98.2,86.9 98.5,86.6 98.8,86.3 99.1,85.9 99.4,85.6 99.7,85.2 100.0,84.8 100.3,84.4 100.6,84.0 100.9,83.6 101.2,83.1 101.5,82.7 101.8,82.3 102.1,81.8 102.4,81.4 102.7,81.0 103.0,80.5 103.3,80.2 103.6,79.8 103.9,79.4 104.2,79.0 104.5,78.7 104.8,78.3 105.1,78.0 105.4,77.7 105.7,77.3 106.0,77.0 106.3,76.7 106.6,76.4 106.9,76.1 107.2,75.8 107.5,75.5 107.8,75.3 108.1,75.0 108.4,74.7 108.7,74.5 109.0,74.2 109.3,74.0 109.6,73.8 109.9,73.5 110.2,73.3 110.5,73.1 110.8,72.9 111.1,72.7 111.4,72.5 111.7,72.3 112.0,72.1 112.3,72.0 112.6,71.8 112.9,71.6 113.2,71.5 113.5,71.3 113.8,71.1 114.1,71.0 114.4,70.8 114.7,70.6 115.0,70.4 115.3,70.2 115.6,70.0 115.9,69.8 116.2,69.6 116.5,69.4 116.8,69.2 117.1,68.9 117.4,68.7 117.7,68.5 118.0,68.3 118.3,68.0 118.6,67.7 118.9,67.4 119.2,67.1 119.5,66.8 119.8,66.6 120.1,66.3 120.4,66.1 120.7,65.9 121.0,65.7 121.3,65.6 121.6,65.4 121.9,65.2 122.2,65.1 122.5,64.9 122.8,64.8 123.1,64.6 123.4,64.5 123.7,64.3 124.0,64.2 124.3,64.0 124.6,63.9 124.9,63.8 125.2,63.7 125.5,63.5 125.8,63.4 126.1,63.3 126.4,63.1 126.7,63.0 127.0,62.9 127.3,62.7 127.6,62.6 127.9,62.5 128.2,62.4 128.5,62.2 128.8,62.1 129.1,62.0 129.4,61.9 129.7,61.8 130.0,61.6 130.3,61.5 130.6,61.4 130.9,61.3 131.2,61.2 131.5,61.1 131.8,61.0 132.1,60.8 132.4,60.7 132.7,60.6 133.0,60.5 133.3,60.4 133.6,60.2 133.9,60.1 134.2,60.0 134.5,59.8 134.8,59.7 135.1,59.6 135.4,59.4 135.7,59.3 136.0,59.1 136.3,58.9 136.6,58.8 136.9,58.6 137.2,58.4 137.5,58.2 137.8,58.1 138.1,57.9 138.4,57.7 138.7,57.5 139.0,57.3 139.3,57.2 139.6,57.0 139.9,56.8 140.2,56.6 140.5,56.5 140.8,56.3 141.1,56.2 141.4,56.0 141.7,55.9 142.0,55.7 142.3,55.6 142.6,55.5 142.9,55.4 143.2,55.3 143.5,55.1 143.8,55.0 144.1,54.9 144.4,54.8 144.7,54.7 145.0,54.6 145.3,54.5 145.6,54.4 145.9,54.3 146.2,54.2 146.5,54.1 146.8,54.0 147.1,53.9 147.4,53.8 147.7,53.7 148.0,53.6 148.3,53.5 148.6,53.4 148.9,53.3 149.2,53.2 149.5,53.1 149.8,53.0 150.1,52.9 150.4,52.7 150.7,52.6 151.0,52.4 151.3,52.3 151.6,52.2 151.9,52.0 152.2,51.9 152.5,51.7 152.8,51.6 153.1,51.5 153.4,51.4 153.7,51.2 154.0,51.1 154.3,51.0 154.6,50.9 154.9,50.8 155.2,50.8 155.5,50.7 155.8,50.6 156.1,50.5 156.4,50.5 156.7,50.4 157.0,50.4 157.3,50.3 157.6,50.2 157.9,50.2 158.2,50.1 158.5,50.1 158.8,50.0 159.1,50.0 159.4,49.9 159.7,49.9 160.0,49.8 160.3,49.8 160.6,49.8 160.9,49.7 161.2,49.7 161.5,49.5 161.8,49.5 162.1,49.4 162.4,49.3 162.7,49.4 163.0,49.3 163.3,49.3 163.6,49.3 163.9,49.1 164.2,49.0 164.5,49.1 164.8,49.0 165.1,48.9 165.4,48.8 165.7,48.8 166.0,48.9 166.3,48.7 166.6,48.8 166.9,48.6 167.2,48.6 167.5,48.7 167.8,48.5 168.1,48.6 168.4,48.5 168.7,48.5 169.0,48.4 169.3,48.4 169.6,48.2 169.9,48.3 170.2,48.2 170.5,48.3 170.8,48.2 171.1,48.2 171.4,48.1 171.7,48.2 172.0,48.1 172.3,48.0 172.6,48.1 172.9,47.9 173.2,48.0 173.5,48.0 173.8,48.0 174.1,47.9 174.4,48.0 174.7,47.8 175.0,47.8 175.3,47.9 175.6,47.7 175.9,47.8 176.2,47.8 176.5,47.7 176.8,47.6 177.1,47.7 177.4,47.7 177.7,47.7 178.0,47.6 178.3,47.5 178.6,47.5 178.9,47.4 179.2,47.5 179.5,47.5 179.8,47.4 180.1,47.3 180.4,47.4 180.7,47.3 181.0,47.3 181.3,47.3 181.6,47.4 181.9,47.3 182.2,47.2 182.5,47.3 182.8,47.3 183.1,47.2 183.4,47.3 183.7,47.2 184.0,47.2 184.3,47.1 184.6,47.0 184.9,47.2 185.2,47.1 185.5,47.0 185.8,47.2 186.1,47.0 186.4,47.0 186.7,47.0 187.0,47.0 187.3,46.9 187.6,47.1 187.9,47.0 188.2,46.9 188.5,46.9 188.8,47.0 189.1,46.9 189.4,46.8 189.7,46.8 190.0,47.0 190.3,46.8 190.6,46.9 190.9,46.9 191.2,46.9 191.5,46.8 191.8,47.0 192.1,46.9 192.4,46.8 192.7,46.8 193.0,46.9 193.3,46.8 193.6,46.8 193.9,46.8 194.2,46.8 194.5,46.9 194.8,46.8 195.1,46.9 195.4,46.8 195.7,46.9 196.0,46.9 196.3,46.7 196.6,46.7 196.9,46.8 197.2,46.8 197.5,46.7 197.8,46.9 198.1,46.8 198.4,46.8 198.7,46.9 199.0,46.7 199.3,46.8 199.6,46.8 199.9,46.8 200.2,46.7 200.5,46.7 200.8,46.8 201.1,46.7 201.4,46.8 201.7,46.8 202.0,46.7 202.3,46.9 202.6,46.6 202.9,46.7 203.2,46.8 203.5,46.6 203.8,46.7 204.1,46.8 204.4,46.8 204.7,46.7 205.0,46.8 205.3,46.8 205.6,46.7 205.9,46.7 206.2,46.8 206.5,46.7 206.8,46.7 207.1,46.8 207.4,46.7 207.7,46.7 208.0,46.8 208.3,46.6 208.6,46.7 208.9,46.8 209.2,46.6 209.5,46.6 209.8,46.6 210.1,46.7 210.4,46.6 210.7,46.7 211.0,46.6 211.3,46.6 211.6,46.7 211.9,46.7 212.2,46.6 212.5,46.6 212.8,46.7 213.1,46.7 213.4,46.6 213.7,46.5 214.0,46.5 214.3,46.5 214.6,46.7 214.9,46.6 215.2,46.6 215.5,46.5 215.8,46.5 216.1,46.5 216.4,46.5 216.7,46.5 217.0,46.5 217.3,46.4 217.6,46.4 217.9,46.3 218.2,46.2 218.5,46.1 218.8,45.9 219.1,45.8 219.4,45.7 219.7,45.5 220.0,45.4 220.3,45.3 220.6,45.1 220.9,45.0 221.2,45.0 221.5,44.9 221.8,44.9 222.1,44.8 222.4,44.8 222.7,44.8 223.0,44.8 223.3,44.7 223.6,44.7 223.9,44.7 224.2,44.7 224.5,44.6 224.8,44.6 225.1,44.6 225.4,44.6 225.7,44.5 226.0,44.5 226.3,44.5 226.6,44.5 226.9,44.5 227.2,44.5 227.5,44.5 227.8,44.4 228.1,44.4 228.4,44.4 228.7,44.4 229.0,44.4 229.3,44.4 229.6,44.4 229.9,44.4 230.2,44.4 230.5,44.4 230.8,44.4 231.1,44.4 231.4,44.4 231.7,44.4 232.0,44.4 232.3,44.4 232.6,44.4 232.9,44.4 233.2,44.4 233.5,44.4 233.8,44.4 234.1,44.4 234.4,44.4 234.7,44.4 235.0,44.4 235.3,44.4 235.6,44.4 235.9,44.4 236.2,44.4 236.5,44.4 236.8,44.4 237.0,44.4"/>
<line x1="53.1" y1="44.4" x2="54.5" y2="44.4" stroke="#777" stroke-width="0.5"/>
<text x="51.5" y="45.8" font-size="4.1" fill="#4d4d4d" text-anchor="end">100</text>
<line x1="53.1" y1="71.6" x2="54.5" y2="71.6" stroke="#777" stroke-width="0.5"/>
<text x="51.5" y="73.0" font-size="4.1" fill="#4d4d4d" text-anchor="end">85</text>
<line x1="53.1" y1="89.7" x2="54.5" y2="89.7" stroke="#777" stroke-width="0.5"/>
<text x="51.5" y="91.1" font-size="4.1" fill="#4d4d4d" text-anchor="end">75</text>
<line x1="53.1" y1="134.9" x2="54.5" y2="134.9" stroke="#777" stroke-width="0.5"/>
<text x="51.5" y="136.3" font-size="4.1" fill="#4d4d4d" text-anchor="end">50</text>
<line x1="53.1" y1="180.2" x2="54.5" y2="180.2" stroke="#777" stroke-width="0.5"/>
<text x="51.5" y="181.6" font-size="4.1" fill="#4d4d4d" text-anchor="end">25</text>
<line x1="53.1" y1="225.4" x2="54.5" y2="225.4" stroke="#777" stroke-width="0.5"/>
<text x="51.5" y="226.8" font-size="4.1" fill="#4d4d4d" text-anchor="end">0</text>
<line x1="62.8" y1="234.3" x2="62.8" y2="235.7" stroke="#777" stroke-width="0.5"/>
<text x="62.8" y="240.5" font-size="4.1" fill="#4d4d4d" text-anchor="middle">0.00</text>
<line x1="116.4" y1="234.3" x2="116.4" y2="235.7" stroke="#777" stroke-width="0.5"/>
<text x="116.4" y="240.5" font-size="4.1" fill="#4d4d4d" text-anchor="middle">0.30</text>
<line x1="152.2" y1="234.3" x2="152.2" y2="235.7" stroke="#777" stroke-width="0.5"/>
<text x="152.2" y="240.5" font-size="4.1" fill="#4d4d4d" text-anchor="middle">0.50</text>
<line x1="196.9" y1="234.3" x2="196.9" y2="235.7" stroke="#777" stroke-width="0.5"/>
<text x="196.9" y="240.5" font-size="4.1" fill="#4d4d4d" text-anchor="middle">0.75</text>
<line x1="241.6" y1="234.3" x2="241.6" y2="235.7" stroke="#777" stroke-width="0.5"/>
<text x="241.6" y="240.5" font-size="4.1" fill="#4d4d4d" text-anchor="middle">1.00</text>
<text x="152.3" y="246.6" font-size="5.5" fill="#111" text-anchor="middle">Coefficient of Variation</text>
<text transform="translate(40.6 135) rotate(-90)" font-size="5.5" fill="#111" text-anchor="middle">Percent of Peaks (%)</text>
<rect x="224.1" y="177.5" width="26.3" height="57" fill="#fff" stroke="#333" stroke-width="0.7"/>
<text x="227" y="186.6" font-size="5.3" fill="#111">Group</text>
<line x1="227.6" y1="192.9" x2="234.9" y2="192.9" stroke="#F8766D" stroke-width="0.8"/>
<text x="238" y="194.5" font-size="4.4" fill="#222">mix</text>
<line x1="227.6" y1="201.6" x2="234.9" y2="201.6" stroke="#A3A500" stroke-width="0.8"/>
<text x="238" y="203.2" font-size="4.4" fill="#222">FB2</text>
<line x1="227.6" y1="210.3" x2="234.9" y2="210.3" stroke="#00BF7D" stroke-width="0.8"/>
<text x="238" y="211.9" font-size="4.4" fill="#222">RB2</text>
<line x1="227.6" y1="219.1" x2="234.9" y2="219.1" stroke="#00B0F6" stroke-width="0.8"/>
<text x="238" y="220.6" font-size="4.4" fill="#222">DB2</text>
<line x1="227.6" y1="227.8" x2="234.9" y2="227.8" stroke="#E76BF3" stroke-width="0.8"/>
<text x="238" y="229.3" font-size="4.4" fill="#222">MB2</text>
</g>
<g id="panelB">
<rect x="342.53" y="65.88" width="13.85" height="13.85" fill="#d53e4f"/>
<text x="349.45" y="74.55" font-size="4.9" font-weight="bold" fill="#fff" fill-opacity="0.95" text-anchor="middle">1</text>
<text x="339.9" y="74.40" font-size="4.7" fill="#000" stroke="#000" stroke-width="0.06" text-anchor="end">FB2-1</text>
<text transform="translate(351.95 63.20) rotate(-90)" font-size="4.7" fill="#000" stroke="#000" stroke-width="0.06">FB2-1</text>
<rect x="342.53" y="80.29" width="13.85" height="13.85" fill="#e45549"/>
<text x="349.45" y="88.96" font-size="4.9" font-weight="bold" fill="#fff" fill-opacity="0.95" text-anchor="middle">0.92</text>
<rect x="356.94" y="80.29" width="13.85" height="13.85" fill="#d53e4f"/>
<text x="363.87" y="88.96" font-size="4.9" font-weight="bold" fill="#fff" fill-opacity="0.95" text-anchor="middle">1</text>
<text x="339.9" y="88.81" font-size="4.7" fill="#000" stroke="#000" stroke-width="0.06" text-anchor="end">FB2-2</text>
<text transform="translate(366.37 77.61) rotate(-90)" font-size="4.7" fill="#000" stroke="#000" stroke-width="0.06">FB2-2</text>
<rect x="342.53" y="94.70" width="13.85" height="13.85" fill="#db464d"/>
<text x="349.45" y="103.37" font-size="4.9" font-weight="bold" fill="#fff" fill-opacity="0.95" text-anchor="middle">0.97</text>
<rect x="356.94" y="94.70" width="13.85" height="13.85" fill="#e04f4b"/>
<text x="363.87" y="103.37" font-size="4.9" font-weight="bold" fill="#fff" fill-opacity="0.95" text-anchor="middle">0.94</text>
<rect x="371.35" y="94.70" width="13.85" height="13.85" fill="#d53e4f"/>
<text x="378.27" y="103.37" font-size="4.9" font-weight="bold" fill="#fff" fill-opacity="0.95" text-anchor="middle">1</text>
<text x="339.9" y="103.22" font-size="4.7" fill="#000" stroke="#000" stroke-width="0.06" text-anchor="end">FB2-3</text>
<text transform="translate(380.77 92.02) rotate(-90)" font-size="4.7" fill="#000" stroke="#000" stroke-width="0.06">FB2-3</text>
<rect x="342.53" y="109.11" width="13.85" height="13.85" fill="#f46e44"/>
<text x="349.45" y="117.78" font-size="4.9" font-weight="bold" fill="#fff" fill-opacity="0.95" text-anchor="middle">0.83</text>
<rect x="356.94" y="109.11" width="13.85" height="13.85" fill="#f57245"/>
<text x="363.87" y="117.78" font-size="4.9" font-weight="bold" fill="#fff" fill-opacity="0.95" text-anchor="middle">0.82</text>
<rect x="371.35" y="109.11" width="13.85" height="13.85" fill="#f46e44"/>
<text x="378.27" y="117.78" font-size="4.9" font-weight="bold" fill="#fff" fill-opacity="0.95" text-anchor="middle">0.83</text>
<rect x="385.76" y="109.11" width="13.85" height="13.85" fill="#d53e4f"/>
<text x="392.69" y="117.78" font-size="4.9" font-weight="bold" fill="#fff" fill-opacity="0.95" text-anchor="middle">1</text>
<text x="339.9" y="117.63" font-size="4.7" fill="#000" stroke="#000" stroke-width="0.06" text-anchor="end">RB2-1</text>
<text transform="translate(395.19 106.43) rotate(-90)" font-size="4.7" fill="#000" stroke="#000" stroke-width="0.06">RB2-1</text>
<rect x="342.53" y="123.52" width="13.85" height="13.85" fill="#f46e44"/>
<text x="349.45" y="132.19" font-size="4.9" font-weight="bold" fill="#fff" fill-opacity="0.95" text-anchor="middle">0.83</text>
<rect x="356.94" y="123.52" width="13.85" height="13.85" fill="#f57245"/>
<text x="363.87" y="132.19" font-size="4.9" font-weight="bold" fill="#fff" fill-opacity="0.95" text-anchor="middle">0.82</text>
<rect x="371.35" y="123.52" width="13.85" height="13.85" fill="#f36b43"/>
<text x="378.27" y="132.19" font-size="4.9" font-weight="bold" fill="#fff" fill-opacity="0.95" text-anchor="middle">0.84</text>
<rect x="385.76" y="123.52" width="13.85" height="13.85" fill="#d9444e"/>
<text x="392.69" y="132.19" font-size="4.9" font-weight="bold" fill="#fff" fill-opacity="0.95" text-anchor="middle">0.98</text>
<rect x="400.17" y="123.52" width="13.85" height="13.85" fill="#d53e4f"/>
<text x="407.09" y="132.19" font-size="4.9" font-weight="bold" fill="#fff" fill-opacity="0.95" text-anchor="middle">1</text>
<text x="339.9" y="132.04" font-size="4.7" fill="#000" stroke="#000" stroke-width="0.06" text-anchor="end">RB2-2</text>
<text transform="translate(409.59 120.84) rotate(-90)" font-size="4.7" fill="#000" stroke="#000" stroke-width="0.06">RB2-2</text>
<rect x="342.53" y="137.93" width="13.85" height="13.85" fill="#f67a49"/>
<text x="349.45" y="146.60" font-size="4.9" font-weight="bold" fill="#fff" fill-opacity="0.95" text-anchor="middle">0.8</text>
<rect x="356.94" y="137.93" width="13.85" height="13.85" fill="#f67e4b"/>
<text x="363.87" y="146.60" font-size="4.9" font-weight="bold" fill="#fff" fill-opacity="0.95" text-anchor="middle">0.79</text>
<rect x="371.35" y="137.93" width="13.85" height="13.85" fill="#f57647"/>
<text x="378.27" y="146.60" font-size="4.9" font-weight="bold" fill="#fff" fill-opacity="0.95" text-anchor="middle">0.81</text>
<rect x="385.76" y="137.93" width="13.85" height="13.85" fill="#dc494c"/>
<text x="392.69" y="146.60" font-size="4.9" font-weight="bold" fill="#fff" fill-opacity="0.95" text-anchor="middle">0.96</text>
<rect x="400.17" y="137.93" width="13.85" height="13.85" fill="#db464d"/>
<text x="407.09" y="146.60" font-size="4.9" font-weight="bold" fill="#fff" fill-opacity="0.95" text-anchor="middle">0.97</text>
<rect x="414.58" y="137.93" width="13.85" height="13.85" fill="#d53e4f"/>
<text x="421.50" y="146.60" font-size="4.9" font-weight="bold" fill="#fff" fill-opacity="0.95" text-anchor="middle">1</text>
<text x="339.9" y="146.45" font-size="4.7" fill="#000" stroke="#000" stroke-width="0.06" text-anchor="end">RB2-3</text>
<text transform="translate(424.00 135.25) rotate(-90)" font-size="4.7" fill="#000" stroke="#000" stroke-width="0.06">RB2-3</text>
<rect x="342.53" y="152.34" width="13.85" height="13.85" fill="#fdbf6f"/>
<text x="349.45" y="161.02" font-size="4.9" font-weight="bold" fill="#fff" fill-opacity="0.95" text-anchor="middle">0.61</text>
<rect x="356.94" y="152.34" width="13.85" height="13.85" fill="#fec877"/>
<text x="363.87" y="161.02" font-size="4.9" font-weight="bold" fill="#fff" fill-opacity="0.95" text-anchor="middle">0.58</text>
<rect x="371.35" y="152.34" width="13.85" height="13.85" fill="#fdc272"/>
<text x="378.27" y="161.02" font-size="4.9" font-weight="bold" fill="#fff" fill-opacity="0.95" text-anchor="middle">0.6</text>
<rect x="385.76" y="152.34" width="13.85" height="13.85" fill="#f36b43"/>
<text x="392.69" y="161.02" font-size="4.9" font-weight="bold" fill="#fff" fill-opacity="0.95" text-anchor="middle">0.84</text>
<rect x="400.17" y="152.34" width="13.85" height="13.85" fill="#f46e44"/>
<text x="407.09" y="161.02" font-size="4.9" font-weight="bold" fill="#fff" fill-opacity="0.95" text-anchor="middle">0.83</text>
<rect x="414.58" y="152.34" width="13.85" height="13.85" fill="#ef6545"/>
<text x="421.50" y="161.02" font-size="4.9" font-weight="bold" fill="#fff" fill-opacity="0.95" text-anchor="middle">0.86</text>
<rect x="428.99" y="152.34" width="13.85" height="13.85" fill="#d53e4f"/>
<text x="435.92" y="161.02" font-size="4.9" font-weight="bold" fill="#fff" fill-opacity="0.95" text-anchor="middle">1</text>
<text x="339.9" y="160.87" font-size="4.7" fill="#000" stroke="#000" stroke-width="0.06" text-anchor="end">DB2-1</text>
<text transform="translate(438.42 149.66) rotate(-90)" font-size="4.7" fill="#000" stroke="#000" stroke-width="0.06">DB2-1</text>
<rect x="342.53" y="166.75" width="13.85" height="13.85" fill="#fdb668"/>
<text x="349.45" y="175.43" font-size="4.9" font-weight="bold" fill="#fff" fill-opacity="0.95" text-anchor="middle">0.64</text>
<rect x="356.94" y="166.75" width="13.85" height="13.85" fill="#fdbc6d"/>
<text x="363.87" y="175.43" font-size="4.9" font-weight="bold" fill="#fff" fill-opacity="0.95" text-anchor="middle">0.62</text>
<rect x="371.35" y="166.75" width="13.85" height="13.85" fill="#fdb96a"/>
<text x="378.27" y="175.43" font-size="4.9" font-weight="bold" fill="#fff" fill-opacity="0.95" text-anchor="middle">0.63</text>
<rect x="385.76" y="166.75" width="13.85" height="13.85" fill="#eb6046"/>
<text x="392.69" y="175.43" font-size="4.9" font-weight="bold" fill="#fff" fill-opacity="0.95" text-anchor="middle">0.88</text>
<rect x="400.17" y="166.75" width="13.85" height="13.85" fill="#ef6545"/>
<text x="407.09" y="175.43" font-size="4.9" font-weight="bold" fill="#fff" fill-opacity="0.95" text-anchor="middle">0.86</text>
<rect x="414.58" y="166.75" width="13.85" height="13.85" fill="#eb6046"/>
<text x="421.50" y="175.43" font-size="4.9" font-weight="bold" fill="#fff" fill-opacity="0.95" text-anchor="middle">0.88</text>
<rect x="428.99" y="166.75" width="13.85" height="13.85" fill="#d7414e"/>
<text x="435.92" y="175.43" font-size="4.9" font-weight="bold" fill="#fff" fill-opacity="0.95" text-anchor="middle">0.99</text>
<rect x="443.40" y="166.75" width="13.85" height="13.85" fill="#d53e4f"/>
<text x="450.32" y="175.43" font-size="4.9" font-weight="bold" fill="#fff" fill-opacity="0.95" text-anchor="middle">1</text>
<text x="339.9" y="175.28" font-size="4.7" fill="#000" stroke="#000" stroke-width="0.06" text-anchor="end">DB2-2</text>
<text transform="translate(452.82 164.07) rotate(-90)" font-size="4.7" fill="#000" stroke="#000" stroke-width="0.06">DB2-2</text>
<rect x="342.53" y="181.16" width="13.85" height="13.85" fill="#fdb668"/>
<text x="349.45" y="189.84" font-size="4.9" font-weight="bold" fill="#fff" fill-opacity="0.95" text-anchor="middle">0.64</text>
<rect x="356.94" y="181.16" width="13.85" height="13.85" fill="#fdc272"/>
<text x="363.87" y="189.84" font-size="4.9" font-weight="bold" fill="#fff" fill-opacity="0.95" text-anchor="middle">0.6</text>
<rect x="371.35" y="181.16" width="13.85" height="13.85" fill="#fdbc6d"/>
<text x="378.27" y="189.84" font-size="4.9" font-weight="bold" fill="#fff" fill-opacity="0.95" text-anchor="middle">0.62</text>
<rect x="385.76" y="181.16" width="13.85" height="13.85" fill="#ef6545"/>
<text x="392.69" y="189.84" font-size="4.9" font-weight="bold" fill="#fff" fill-opacity="0.95" text-anchor="middle">0.86</text>
<rect x="400.17" y="181.16" width="13.85" height="13.85" fill="#f16844"/>
<text x="407.09" y="189.84" font-size="4.9" font-weight="bold" fill="#fff" fill-opacity="0.95" text-anchor="middle">0.85</text>
<rect x="414.58" y="181.16" width="13.85" height="13.85" fill="#ed6346"/>
<text x="421.50" y="189.84" font-size="4.9" font-weight="bold" fill="#fff" fill-opacity="0.95" text-anchor="middle">0.87</text>
<rect x="428.99" y="181.16" width="13.85" height="13.85" fill="#d9444e"/>
<text x="435.92" y="189.84" font-size="4.9" font-weight="bold" fill="#fff" fill-opacity="0.95" text-anchor="middle">0.98</text>
<rect x="443.40" y="181.16" width="13.85" height="13.85" fill="#d9444e"/>
<text x="450.32" y="189.84" font-size="4.9" font-weight="bold" fill="#fff" fill-opacity="0.95" text-anchor="middle">0.98</text>
<rect x="457.81" y="181.16" width="13.85" height="13.85" fill="#d53e4f"/>
<text x="464.73" y="189.84" font-size="4.9" font-weight="bold" fill="#fff" fill-opacity="0.95" text-anchor="middle">1</text>
<text x="339.9" y="189.69" font-size="4.7" fill="#000" stroke="#000" stroke-width="0.06" text-anchor="end">DB2-3</text>
<text transform="translate(467.23 178.48) rotate(-90)" font-size="4.7" fill="#000" stroke="#000" stroke-width="0.06">DB2-3</text>
<rect x="342.53" y="195.57" width="13.85" height="13.85" fill="#fdb063"/>
<text x="349.45" y="204.25" font-size="4.9" font-weight="bold" fill="#fff" fill-opacity="0.95" text-anchor="middle">0.66</text>
<rect x="356.94" y="195.57" width="13.85" height="13.85" fill="#fdb96a"/>
<text x="363.87" y="204.25" font-size="4.9" font-weight="bold" fill="#fff" fill-opacity="0.95" text-anchor="middle">0.63</text>
<rect x="371.35" y="195.57" width="13.85" height="13.85" fill="#fdb365"/>
<text x="378.27" y="204.25" font-size="4.9" font-weight="bold" fill="#fff" fill-opacity="0.95" text-anchor="middle">0.65</text>
<rect x="385.76" y="195.57" width="13.85" height="13.85" fill="#f16844"/>
<text x="392.69" y="204.25" font-size="4.9" font-weight="bold" fill="#fff" fill-opacity="0.95" text-anchor="middle">0.85</text>
<rect x="400.17" y="195.57" width="13.85" height="13.85" fill="#f46e44"/>
<text x="407.09" y="204.25" font-size="4.9" font-weight="bold" fill="#fff" fill-opacity="0.95" text-anchor="middle">0.83</text>
<rect x="414.58" y="195.57" width="13.85" height="13.85" fill="#f36b43"/>
<text x="421.50" y="204.25" font-size="4.9" font-weight="bold" fill="#fff" fill-opacity="0.95" text-anchor="middle">0.84</text>
<rect x="428.99" y="195.57" width="13.85" height="13.85" fill="#e95d47"/>
<text x="435.92" y="204.25" font-size="4.9" font-weight="bold" fill="#fff" fill-opacity="0.95" text-anchor="middle">0.89</text>
<rect x="443.40" y="195.57" width="13.85" height="13.85" fill="#e85a48"/>
<text x="450.32" y="204.25" font-size="4.9" font-weight="bold" fill="#fff" fill-opacity="0.95" text-anchor="middle">0.9</text>
<rect x="457.81" y="195.57" width="13.85" height="13.85" fill="#e95d47"/>
<text x="464.73" y="204.25" font-size="4.9" font-weight="bold" fill="#fff" fill-opacity="0.95" text-anchor="middle">0.89</text>
<rect x="472.22" y="195.57" width="13.85" height="13.85" fill="#d53e4f"/>
<text x="479.14" y="204.25" font-size="4.9" font-weight="bold" fill="#fff" fill-opacity="0.95" text-anchor="middle">1</text>
<text x="339.9" y="204.09" font-size="4.7" fill="#000" stroke="#000" stroke-width="0.06" text-anchor="end">MB2-1</text>
<text transform="translate(481.64 192.89) rotate(-90)" font-size="4.7" fill="#000" stroke="#000" stroke-width="0.06">MB2-1</text>
<rect x="342.53" y="209.98" width="13.85" height="13.85" fill="#fdb063"/>
<text x="349.45" y="218.66" font-size="4.9" font-weight="bold" fill="#fff" fill-opacity="0.95" text-anchor="middle">0.66</text>
<rect x="356.94" y="209.98" width="13.85" height="13.85" fill="#fdb96a"/>
<text x="363.87" y="218.66" font-size="4.9" font-weight="bold" fill="#fff" fill-opacity="0.95" text-anchor="middle">0.63</text>
<rect x="371.35" y="209.98" width="13.85" height="13.85" fill="#fdb365"/>
<text x="378.27" y="218.66" font-size="4.9" font-weight="bold" fill="#fff" fill-opacity="0.95" text-anchor="middle">0.65</text>
<rect x="385.76" y="209.98" width="13.85" height="13.85" fill="#f16844"/>
<text x="392.69" y="218.66" font-size="4.9" font-weight="bold" fill="#fff" fill-opacity="0.95" text-anchor="middle">0.85</text>
<rect x="400.17" y="209.98" width="13.85" height="13.85" fill="#f57245"/>
<text x="407.09" y="218.66" font-size="4.9" font-weight="bold" fill="#fff" fill-opacity="0.95" text-anchor="middle">0.82</text>
<rect x="414.58" y="209.98" width="13.85" height="13.85" fill="#f46e44"/>
<text x="421.50" y="218.66" font-size="4.9" font-weight="bold" fill="#fff" fill-opacity="0.95" text-anchor="middle">0.83</text>
<rect x="428.99" y="209.98" width="13.85" height="13.85" fill="#eb6046"/>
<text x="435.92" y="218.66" font-size="4.9" font-weight="bold" fill="#fff" fill-opacity="0.95" text-anchor="middle">0.88</text>
<rect x="443.40" y="209.98" width="13.85" height="13.85" fill="#e95d47"/>
<text x="450.32" y="218.66" font-size="4.9" font-weight="bold" fill="#fff" fill-opacity="0.95" text-anchor="middle">0.89</text>
<rect x="457.81" y="209.98" width="13.85" height="13.85" fill="#eb6046"/>
<text x="464.73" y="218.66" font-size="4.9" font-weight="bold" fill="#fff" fill-opacity="0.95" text-anchor="middle">0.88</text>
<rect x="472.22" y="209.98" width="13.85" height="13.85" fill="#d7414e"/>
<text x="479.14" y="218.66" font-size="4.9" font-weight="bold" fill="#fff" fill-opacity="0.95" text-anchor="middle">0.99</text>
<rect x="486.63" y="209.98" width="13.85" height="13.85" fill="#d53e4f"/>
<text x="493.56" y="218.66" font-size="4.9" font-weight="bold" fill="#fff" fill-opacity="0.95" text-anchor="middle">1</text>
<text x="339.9" y="218.50" font-size="4.7" fill="#000" stroke="#000" stroke-width="0.06" text-anchor="end">MB2-2</text>
<text transform="translate(496.06 207.30) rotate(-90)" font-size="4.7" fill="#000" stroke="#000" stroke-width="0.06">MB2-2</text>
<rect x="342.53" y="224.39" width="13.85" height="13.85" fill="#fdb365"/>
<text x="349.45" y="233.06" font-size="4.9" font-weight="bold" fill="#fff" fill-opacity="0.95" text-anchor="middle">0.65</text>
<rect x="356.94" y="224.39" width="13.85" height="13.85" fill="#fdb96a"/>
<text x="363.87" y="233.06" font-size="4.9" font-weight="bold" fill="#fff" fill-opacity="0.95" text-anchor="middle">0.63</text>
<rect x="371.35" y="224.39" width="13.85" height="13.85" fill="#fdb365"/>
<text x="378.27" y="233.06" font-size="4.9" font-weight="bold" fill="#fff" fill-opacity="0.95" text-anchor="middle">0.65</text>
<rect x="385.76" y="224.39" width="13.85" height="13.85" fill="#f36b43"/>
<text x="392.69" y="233.06" font-size="4.9" font-weight="bold" fill="#fff" fill-opacity="0.95" text-anchor="middle">0.84</text>
<rect x="400.17" y="224.39" width="13.85" height="13.85" fill="#f57647"/>
<text x="407.09" y="233.06" font-size="4.9" font-weight="bold" fill="#fff" fill-opacity="0.95" text-anchor="middle">0.81</text>
<rect x="414.58" y="224.39" width="13.85" height="13.85" fill="#f57245"/>
<text x="421.50" y="233.06" font-size="4.9" font-weight="bold" fill="#fff" fill-opacity="0.95" text-anchor="middle">0.82</text>
<rect x="428.99" y="224.39" width="13.85" height="13.85" fill="#ed6346"/>
<text x="435.92" y="233.06" font-size="4.9" font-weight="bold" fill="#fff" fill-opacity="0.95" text-anchor="middle">0.87</text>
<rect x="443.40" y="224.39" width="13.85" height="13.85" fill="#eb6046"/>
<text x="450.32" y="233.06" font-size="4.9" font-weight="bold" fill="#fff" fill-opacity="0.95" text-anchor="middle">0.88</text>
<rect x="457.81" y="224.39" width="13.85" height="13.85" fill="#eb6046"/>
<text x="464.73" y="233.06" font-size="4.9" font-weight="bold" fill="#fff" fill-opacity="0.95" text-anchor="middle">0.88</text>
<rect x="472.22" y="224.39" width="13.85" height="13.85" fill="#d7414e"/>
<text x="479.14" y="233.06" font-size="4.9" font-weight="bold" fill="#fff" fill-opacity="0.95" text-anchor="middle">0.99</text>
<rect x="486.63" y="224.39" width="13.85" height="13.85" fill="#d7414e"/>
<text x="493.56" y="233.06" font-size="4.9" font-weight="bold" fill="#fff" fill-opacity="0.95" text-anchor="middle">0.99</text>
<rect x="501.04" y="224.39" width="13.85" height="13.85" fill="#d53e4f"/>
<text x="507.96" y="233.06" font-size="4.9" font-weight="bold" fill="#fff" fill-opacity="0.95" text-anchor="middle">1</text>
<text x="339.9" y="232.91" font-size="4.7" fill="#000" stroke="#000" stroke-width="0.06" text-anchor="end">MB2-3</text>
<text transform="translate(510.46 221.71) rotate(-90)" font-size="4.7" fill="#000" stroke="#000" stroke-width="0.06">MB2-3</text>
<defs><linearGradient id="cb" x1="0" y1="1" x2="0" y2="0">
<stop offset="0.0000" stop-color="#66C2A5"/>
<stop offset="0.1667" stop-color="#ABDDA4"/>
<stop offset="0.3333" stop-color="#E6F598"/>
<stop offset="0.5000" stop-color="#FEE08B"/>
<stop offset="0.6667" stop-color="#FDAE61"/>
<stop offset="0.8333" stop-color="#F46D43"/>
<stop offset="1.0000" stop-color="#D53E4F"/>
</linearGradient></defs>
<rect x="518.4" y="65" width="4.8" height="173.6" fill="url(#cb)" stroke="#999" stroke-width="0.4"/>
<line x1="523.2" y1="238.6" x2="524.4" y2="238.6" stroke="#999" stroke-width="0.4"/>
<text x="526" y="239.5" font-size="2.6" fill="#555">0</text>
<line x1="523.2" y1="209.7" x2="524.4" y2="209.7" stroke="#999" stroke-width="0.4"/>
<text x="526" y="210.6" font-size="2.6" fill="#555">0.17</text>
<line x1="523.2" y1="180.7" x2="524.4" y2="180.7" stroke="#999" stroke-width="0.4"/>
<text x="526" y="181.6" font-size="2.6" fill="#555">0.33</text>
<line x1="523.2" y1="151.8" x2="524.4" y2="151.8" stroke="#999" stroke-width="0.4"/>
<text x="526" y="152.7" font-size="2.6" fill="#555">0.5</text>
<line x1="523.2" y1="122.9" x2="524.4" y2="122.9" stroke="#999" stroke-width="0.4"/>
<text x="526" y="123.8" font-size="2.6" fill="#555">0.67</text>
<line x1="523.2" y1="93.9" x2="524.4" y2="93.9" stroke="#999" stroke-width="0.4"/>
<text x="526" y="94.8" font-size="2.6" fill="#555">0.83</text>
<line x1="523.2" y1="65.0" x2="524.4" y2="65.0" stroke="#999" stroke-width="0.4"/>
<text x="526" y="65.9" font-size="2.6" fill="#555">1</text>
</g>
<g id="panelC">
<rect x="21.80" y="297.8" width="49.33" height="3.1" fill="#1B9E77"/>
<rect x="71.08" y="297.8" width="49.33" height="3.1" fill="#D95F02"/>
<rect x="120.35" y="297.8" width="49.33" height="3.1" fill="#7570B3"/>
<rect x="169.63" y="297.8" width="49.33" height="3.1" fill="#E7298A"/>
<text x="20.7" y="300.6" font-size="4.3" fill="#222" text-anchor="end">Group</text>
<rect x="17.6" y="302.0" width="3" height="35.05" fill="#8DD3C7"/>
<rect x="17.6" y="337.0" width="3" height="33.25" fill="#FFFFB3"/>
<rect x="17.6" y="370.2" width="3" height="28.15" fill="#BEBADA"/>
<rect x="17.6" y="398.3" width="3" height="20.55" fill="#FB8072"/>
<rect x="17.6" y="418.8" width="3" height="18.85" fill="#80B1D3"/>
<rect x="17.6" y="437.6" width="3" height="17.75" fill="#FDB462"/>
<rect x="17.6" y="455.3" width="3" height="16.75" fill="#B3DE69"/>
<rect x="17.6" y="472.0" width="3" height="13.25" fill="#FCCDE5"/>
<rect x="17.6" y="485.2" width="3" height="7.35" fill="#D9D9D9"/>
<rect x="17.6" y="492.5" width="3" height="4.25" fill="#BC80BD"/>
<rect x="17.6" y="496.7" width="3" height="1.35" fill="#CCEBC5"/>
<rect x="17.6" y="498.0" width="3" height="1.05" fill="#FFED6F"/>
<defs><filter id="hb" x="-0.05" y="-0.05" width="1.1" height="1.1"><feGaussianBlur stdDeviation="0.3 0.6"/></filter><clipPath id="hc"><rect x="21.80" y="302.00" width="197.10" height="197.00"/></clipPath></defs>
<rect x="21.80" y="302.00" width="197.10" height="197.00" fill="#e8e49a"/>
<g clip-path="url(#hc)"><g filter="url(#hb)">
<rect x="18.80" y="299.00" width="19.48" height="4.36" fill="#f3faaf"/><rect x="38.23" y="299.00" width="16.48" height="4.36" fill="#dff294"/><rect x="54.65" y="299.00" width="16.48" height="4.36" fill="#e8f5a0"/><rect x="71.08" y="299.00" width="16.48" height="4.36" fill="#fca45c"/><rect x="87.50" y="299.00" width="16.48" height="4.36" fill="#fba05b"/><rect x="103.92" y="299.00" width="16.48" height="4.36" fill="#fca85e"/><rect x="120.35" y="299.00" width="16.48" height="4.36" fill="#fff2a9"/><rect x="136.78" y="299.00" width="16.48" height="4.36" fill="#fff9b5"/><rect x="153.20" y="299.00" width="16.48" height="4.36" fill="#fff1a7"/><rect x="169.63" y="299.00" width="16.48" height="4.36" fill="#c0e47b"/><rect x="186.05" y="299.00" width="16.48" height="4.36" fill="#c3e67d"/><rect x="202.48" y="299.00" width="19.48" height="4.36" fill="#c5e77e"/><rect x="18.80" y="303.30" width="19.48" height="1.06" fill="#f98e52"/><rect x="38.23" y="303.30" width="16.48" height="1.06" fill="#f67b4a"/><rect x="54.65" y="303.30" width="16.48" height="1.06" fill="#f67848"/><rect x="71.08" y="303.30" width="16.48" height="1.06" fill="#d7ee8a"/><rect x="87.50" y="303.30" width="16.48" height="1.06" fill="#b7e075"/><rect x="103.92" y="303.30" width="16.48" height="1.06" fill="#c0e47b"/><rect x="120.35" y="303.30" width="16.48" height="1.06" fill="#fffbb8"/><rect x="136.78" y="303.30" width="16.48" height="1.06" fill="#fffdbb"/><rect x="153.20" y="303.30" width="16.48" height="1.06" fill="#fffab6"/><rect x="169.63" y="303.30" width="16.48" height="1.06" fill="#e7f59e"/><rect x="186.05" y="303.30" width="16.48" height="1.06" fill="#c1e57b"/><rect x="202.48" y="303.30" width="19.48" height="1.06" fill="#c8e880"/><rect x="18.80" y="304.30" width="19.48" height="1.26" fill="#fdb365"/><rect x="38.23" y="304.30" width="16.48" height="1.26" fill="#fdbe6e"/><rect x="54.65" y="304.30" width="16.48" height="1.26" fill="#fdbd6d"/><rect x="71.08" y="304.30" width="16.48" height="1.26" fill="#fff4ad"/><rect x="87.50" y="304.30" width="16.48" height="1.26" fill="#fafdb8"/><rect x="103.92" y="304.30" width="16.48" height="1.26" fill="#fafdb9"/><rect x="120.35" y="304.30" width="16.48" height="1.26" fill="#b8e176"/><rect x="136.78" y="304.30" width="16.48" height="1.26" fill="#e7f59e"/><rect x="153.20" y="304.30" width="16.48" height="1.26" fill="#a8da6b"/><rect x="169.63" y="304.30" width="16.48" height="1.26" fill="#ebf6a3"/><rect x="186.05" y="304.30" width="16.48" height="1.26" fill="#e1f295"/><rect x="202.48" y="304.30" width="19.48" height="1.26" fill="#bbe278"/><rect x="18.80" y="305.50" width="19.48" height="1.36" fill="#fdb567"/><rect x="38.23" y="305.50" width="16.48" height="1.36" fill="#fdab60"/><rect x="54.65" y="305.50" width="16.48" height="1.36" fill="#f57748"/><rect x="71.08" y="305.50" width="16.48" height="1.36" fill="#fff6b0"/><rect x="87.50" y="305.50" width="16.48" height="1.36" fill="#fdc776"/><rect x="103.92" y="305.50" width="16.48" height="1.36" fill="#fed683"/><rect x="120.35" y="305.50" width="16.48" height="1.36" fill="#ebf7a4"/><rect x="136.78" y="305.50" width="16.48" height="1.36" fill="#def192"/><rect x="153.20" y="305.50" width="16.48" height="1.36" fill="#daef8c"/><rect x="169.63" y="305.50" width="16.48" height="1.36" fill="#e5f49b"/><rect x="186.05" y="305.50" width="16.48" height="1.36" fill="#dbf08e"/><rect x="202.48" y="305.50" width="19.48" height="1.36" fill="#def191"/><rect x="18.80" y="306.80" width="19.48" height="0.86" fill="#fdb163"/><rect x="38.23" y="306.80" width="16.48" height="0.86" fill="#fdc575"/><rect x="54.65" y="306.80" width="16.48" height="0.86" fill="#f99354"/><rect x="71.08" y="306.80" width="16.48" height="0.86" fill="#f4fbb1"/><rect x="87.50" y="306.80" width="16.48" height="0.86" fill="#fbfdb9"/><rect x="103.92" y="306.80" width="16.48" height="0.86" fill="#fffbb9"/><rect x="120.35" y="306.80" width="16.48" height="0.86" fill="#ceea84"/><rect x="136.78" y="306.80" width="16.48" height="0.86" fill="#aedc6f"/><rect x="153.20" y="306.80" width="16.48" height="0.86" fill="#d5ed88"/><rect x="169.63" y="306.80" width="16.48" height="0.86" fill="#b9e176"/><rect x="186.05" y="306.80" width="16.48" height="0.86" fill="#d8ef8b"/><rect x="202.48" y="306.80" width="19.48" height="0.86" fill="#ddf190"/><rect x="18.80" y="307.60" width="19.48" height="0.86" fill="#fb9c59"/><rect x="38.23" y="307.60" width="16.48" height="0.86" fill="#fa9958"/><rect x="54.65" y="307.60" width="16.48" height="0.86" fill="#fdb365"/><rect x="71.08" y="307.60" width="16.48" height="0.86" fill="#fecd7b"/><rect x="87.50" y="307.60" width="16.48" height="0.86" fill="#fedd88"/><rect x="103.92" y="307.60" width="16.48" height="0.86" fill="#fee594"/><rect x="120.35" y="307.60" width="16.48" height="0.86" fill="#f6fbb3"/><rect x="136.78" y="307.60" width="16.48" height="0.86" fill="#e6f59d"/><rect x="153.20" y="307.60" width="16.48" height="0.86" fill="#e3f398"/><rect x="169.63" y="307.60" width="16.48" height="0.86" fill="#e1f396"/><rect x="186.05" y="307.60" width="16.48" height="0.86" fill="#f7fcb4"/><rect x="202.48" y="307.60" width="19.48" height="0.86" fill="#fffebe"/><rect x="18.80" y="308.40" width="19.48" height="1.56" fill="#fdb768"/><rect x="38.23" y="308.40" width="16.48" height="1.56" fill="#fdae61"/><rect x="54.65" y="308.40" width="16.48" height="1.56" fill="#fdbe6f"/><rect x="71.08" y="308.40" width="16.48" height="1.56" fill="#f9fcb6"/><rect x="87.50" y="308.40" width="16.48" height="1.56" fill="#ffffbf"/><rect x="103.92" y="308.40" width="16.48" height="1.56" fill="#fdfebc"/><rect x="120.35" y="308.40" width="16.48" height="1.56" fill="#fffab7"/><rect x="136.78" y="308.40" width="16.48" height="1.56" fill="#fffab6"/><rect x="153.20" y="308.40" width="16.48" height="1.56" fill="#fff6b1"/><rect x="169.63" y="308.40" width="16.48" height="1.56" fill="#dbf08d"/><rect x="186.05" y="308.40" width="16.48" height="1.56" fill="#e7f59e"/><rect x="202.48" y="308.40" width="19.48" height="1.56" fill="#9ad469"/><rect x="18.80" y="309.90" width="19.48" height="1.86" fill="#e5f49b"/><rect x="38.23" y="309.90" width="16.48" height="1.86" fill="#e9f6a1"/><rect x="54.65" y="309.90" width="16.48" height="1.86" fill="#d0eb85"/><rect x="71.08" y="309.90" width="16.48" height="1.86" fill="#fff0a6"/><rect x="87.50" y="309.90" width="16.48" height="1.86" fill="#feda86"/><rect x="103.92" y="309.90" width="16.48" height="1.86" fill="#fdbc6d"/><rect x="120.35" y="309.90" width="16.48" height="1.86" fill="#feeda0"/><rect x="136.78" y="309.90" width="16.48" height="1.86" fill="#fafdb8"/><rect x="153.20" y="309.90" width="16.48" height="1.86" fill="#ffffbf"/><rect x="169.63" y="309.90" width="16.48" height="1.86" fill="#f5fbb1"/><rect x="186.05" y="309.90" width="16.48" height="1.86" fill="#bfe47a"/><rect x="202.48" y="309.90" width="19.48" height="1.86" fill="#dff294"/><rect x="18.80" y="311.70" width="19.48" height="1.36" fill="#fffcba"/><rect x="38.23" y="311.70" width="16.48" height="1.36" fill="#f1f9ac"/><rect x="54.65" y="311.70" width="16.48" height="1.36" fill="#fffab7"/><rect x="71.08" y="311.70" width="16.48" height="1.36" fill="#ef633e"/><rect x="87.50" y="311.70" width="16.48" height="1.36" fill="#f67c4a"/><rect x="103.92" y="311.70" width="16.48" height="1.36" fill="#fdb164"/><rect x="120.35" y="311.70" width="16.48" height="1.36" fill="#fff3ab"/><rect x="136.78" y="311.70" width="16.48" height="1.36" fill="#feeb9e"/><rect x="153.20" y="311.70" width="16.48" height="1.36" fill="#fee898"/><rect x="169.63" y="311.70" width="16.48" height="1.36" fill="#95d268"/><rect x="186.05" y="311.70" width="16.48" height="1.36" fill="#81c966"/><rect x="202.48" y="311.70" width="19.48" height="1.36" fill="#5fba61"/><rect x="18.80" y="313.00" width="19.48" height="1.86" fill="#fff4ad"/><rect x="38.23" y="313.00" width="16.48" height="1.86" fill="#fdae61"/><rect x="54.65" y="313.00" width="16.48" height="1.86" fill="#fed582"/><rect x="71.08" y="313.00" width="16.48" height="1.86" fill="#fee594"/><rect x="87.50" y="313.00" width="16.48" height="1.86" fill="#f5fbb2"/><rect x="103.92" y="313.00" width="16.48" height="1.86" fill="#fee492"/><rect x="120.35" y="313.00" width="16.48" height="1.86" fill="#d2ec87"/><rect x="136.78" y="313.00" width="16.48" height="1.86" fill="#bee37a"/><rect x="153.20" y="313.00" width="16.48" height="1.86" fill="#b3df73"/><rect x="169.63" y="313.00" width="16.48" height="1.86" fill="#7ac665"/><rect x="186.05" y="313.00" width="16.48" height="1.86" fill="#98d368"/><rect x="202.48" y="313.00" width="19.48" height="1.86" fill="#8dce67"/><rect x="18.80" y="314.80" width="19.48" height="1.06" fill="#ed5f3d"/><rect x="38.23" y="314.80" width="16.48" height="1.06" fill="#f57547"/><rect x="54.65" y="314.80" width="16.48" height="1.06" fill="#fb9f5a"/><rect x="71.08" y="314.80" width="16.48" height="1.06" fill="#b6e074"/><rect x="87.50" y="314.80" width="16.48" height="1.06" fill="#e4f49a"/><rect x="103.92" y="314.80" width="16.48" height="1.06" fill="#f0f9ab"/><rect x="120.35" y="314.80" width="16.48" height="1.06" fill="#f1f9ab"/><rect x="136.78" y="314.80" width="16.48" height="1.06" fill="#fffab6"/><rect x="153.20" y="314.80" width="16.48" height="1.06" fill="#f5fbb2"/><rect x="169.63" y="314.80" width="16.48" height="1.06" fill="#a7d96b"/><rect x="186.05" y="314.80" width="16.48" height="1.06" fill="#c3e57d"/><rect x="202.48" y="314.80" width="19.48" height="1.06" fill="#c9e881"/><rect x="18.80" y="315.80" width="19.48" height="0.86" fill="#fa9857"/><rect x="38.23" y="315.80" width="16.48" height="0.86" fill="#fb9f5a"/><rect x="54.65" y="315.80" width="16.48" height="0.86" fill="#f26841"/><rect x="71.08" y="315.80" width="16.48" height="0.86" fill="#fa9656"/><rect x="87.50" y="315.80" width="16.48" height="0.86" fill="#f88850"/><rect x="103.92" y="315.80" width="16.48" height="0.86" fill="#f67c4a"/><rect x="120.35" y="315.80" width="16.48" height="0.86" fill="#f0f9aa"/><rect x="136.78" y="315.80" width="16.48" height="0.86" fill="#f3faae"/><rect x="153.20" y="315.80" width="16.48" height="0.86" fill="#f2faad"/><rect x="169.63" y="315.80" width="16.48" height="0.86" fill="#d8ef8a"/><rect x="186.05" y="315.80" width="16.48" height="0.86" fill="#bde379"/><rect x="202.48" y="315.80" width="19.48" height="0.86" fill="#d9ef8c"/><rect x="18.80" y="316.60" width="19.48" height="1.56" fill="#fed07d"/><rect x="38.23" y="316.60" width="16.48" height="1.56" fill="#fecf7d"/><rect x="54.65" y="316.60" width="16.48" height="1.56" fill="#fff7b1"/><rect x="71.08" y="316.60" width="16.48" height="1.56" fill="#daf08d"/><rect x="87.50" y="316.60" width="16.48" height="1.56" fill="#ddf191"/><rect x="103.92" y="316.60" width="16.48" height="1.56" fill="#d3ec87"/><rect x="120.35" y="316.60" width="16.48" height="1.56" fill="#fffab6"/><rect x="136.78" y="316.60" width="16.48" height="1.56" fill="#fffab6"/><rect x="153.20" y="316.60" width="16.48" height="1.56" fill="#fcfebb"/><rect x="169.63" y="316.60" width="16.48" height="1.56" fill="#98d369"/><rect x="186.05" y="316.60" width="16.48" height="1.56" fill="#b4df73"/><rect x="202.48" y="316.60" width="19.48" height="1.56" fill="#abdb6d"/><rect x="18.80" y="318.10" width="19.48" height="1.06" fill="#fdb365"/><rect x="38.23" y="318.10" width="16.48" height="1.06" fill="#f99254"/><rect x="54.65" y="318.10" width="16.48" height="1.06" fill="#f88c51"/><rect x="71.08" y="318.10" width="16.48" height="1.06" fill="#e5f49b"/><rect x="87.50" y="318.10" width="16.48" height="1.06" fill="#f2faae"/><rect x="103.92" y="318.10" width="16.48" height="1.06" fill="#fffdbb"/><rect x="120.35" y="318.10" width="16.48" height="1.06" fill="#c5e77e"/><rect x="136.78" y="318.10" width="16.48" height="1.06" fill="#d3ed87"/><rect x="153.20" y="318.10" width="16.48" height="1.06" fill="#e9f6a1"/><rect x="169.63" y="318.10" width="16.48" height="1.06" fill="#def192"/><rect x="186.05" y="318.10" width="16.48" height="1.06" fill="#e5f49b"/><rect x="202.48" y="318.10" width="19.48" height="1.06" fill="#f7fbb4"/><rect x="18.80" y="319.10" width="19.48" height="1.06" fill="#fee28e"/><rect x="38.23" y="319.10" width="16.48" height="1.06" fill="#fee28f"/><rect x="54.65" y="319.10" width="16.48" height="1.06" fill="#fee390"/><rect x="71.08" y="319.10" width="16.48" height="1.06" fill="#fff8b2"/><rect x="87.50" y="319.10" width="16.48" height="1.06" fill="#fff6b0"/><rect x="103.92" y="319.10" width="16.48" height="1.06" fill="#e8f5a0"/><rect x="120.35" y="319.10" width="16.48" height="1.06" fill="#fffdbb"/><rect x="136.78" y="319.10" width="16.48" height="1.06" fill="#ffffbe"/><rect x="153.20" y="319.10" width="16.48" height="1.06" fill="#fee797"/><rect x="169.63" y="319.10" width="16.48" height="1.06" fill="#94d168"/><rect x="186.05" y="319.10" width="16.48" height="1.06" fill="#a6d96a"/><rect x="202.48" y="319.10" width="19.48" height="1.06" fill="#c3e67d"/><rect x="18.80" y="320.10" width="19.48" height="1.06" fill="#85ca66"/><rect x="38.23" y="320.10" width="16.48" height="1.06" fill="#9cd469"/><rect x="54.65" y="320.10" width="16.48" height="1.06" fill="#a6d96a"/><rect x="71.08" y="320.10" width="16.48" height="1.06" fill="#d5ed89"/><rect x="87.50" y="320.10" width="16.48" height="1.06" fill="#b4df73"/><rect x="103.92" y="320.10" width="16.48" height="1.06" fill="#c0e47b"/><rect x="120.35" y="320.10" width="16.48" height="1.06" fill="#f0f9ab"/><rect x="136.78" y="320.10" width="16.48" height="1.06" fill="#f0f9ab"/><rect x="153.20" y="320.10" width="16.48" height="1.06" fill="#fee99a"/><rect x="169.63" y="320.10" width="16.48" height="1.06" fill="#f6fbb2"/><rect x="186.05" y="320.10" width="16.48" height="1.06" fill="#eff8a9"/><rect x="202.48" y="320.10" width="19.48" height="1.06" fill="#edf7a6"/><rect x="18.80" y="321.10" width="19.48" height="0.86" fill="#fdb365"/><rect x="38.23" y="321.10" width="16.48" height="0.86" fill="#fedd88"/><rect x="54.65" y="321.10" width="16.48" height="0.86" fill="#fb9e59"/><rect x="71.08" y="321.10" width="16.48" height="0.86" fill="#fdbf6f"/><rect x="87.50" y="321.10" width="16.48" height="0.86" fill="#fdbe6e"/><rect x="103.92" y="321.10" width="16.48" height="0.86" fill="#fdae61"/><rect x="120.35" y="321.10" width="16.48" height="0.86" fill="#cdea83"/><rect x="136.78" y="321.10" width="16.48" height="0.86" fill="#e9f6a1"/><rect x="153.20" y="321.10" width="16.48" height="0.86" fill="#def192"/><rect x="169.63" y="321.10" width="16.48" height="0.86" fill="#b0dd70"/><rect x="186.05" y="321.10" width="16.48" height="0.86" fill="#96d268"/><rect x="202.48" y="321.10" width="19.48" height="0.86" fill="#90cf68"/><rect x="18.80" y="321.90" width="19.48" height="1.06" fill="#9ed569"/><rect x="38.23" y="321.90" width="16.48" height="1.06" fill="#b9e176"/><rect x="54.65" y="321.90" width="16.48" height="1.06" fill="#7ac665"/><rect x="71.08" y="321.90" width="16.48" height="1.06" fill="#eaf6a3"/><rect x="87.50" y="321.90" width="16.48" height="1.06" fill="#ebf6a3"/><rect x="103.92" y="321.90" width="16.48" height="1.06" fill="#f3faae"/><rect x="120.35" y="321.90" width="16.48" height="1.06" fill="#fdfebc"/><rect x="136.78" y="321.90" width="16.48" height="1.06" fill="#f8fcb5"/><rect x="153.20" y="321.90" width="16.48" height="1.06" fill="#f2f9ad"/><rect x="169.63" y="321.90" width="16.48" height="1.06" fill="#def191"/><rect x="186.05" y="321.90" width="16.48" height="1.06" fill="#c6e77f"/><rect x="202.48" y="321.90" width="19.48" height="1.06" fill="#d1ec86"/><rect x="18.80" y="322.90" width="19.48" height="1.36" fill="#fed07d"/><rect x="38.23" y="322.90" width="16.48" height="1.36" fill="#fed380"/><rect x="54.65" y="322.90" width="16.48" height="1.36" fill="#fffebd"/><rect x="71.08" y="322.90" width="16.48" height="1.36" fill="#feeb9d"/><rect x="87.50" y="322.90" width="16.48" height="1.36" fill="#fff9b5"/><rect x="103.92" y="322.90" width="16.48" height="1.36" fill="#fee593"/><rect x="120.35" y="322.90" width="16.48" height="1.36" fill="#bfe47a"/><rect x="136.78" y="322.90" width="16.48" height="1.36" fill="#d5ed89"/><rect x="153.20" y="322.90" width="16.48" height="1.36" fill="#e7f59f"/><rect x="169.63" y="322.90" width="16.48" height="1.36" fill="#8fcf68"/><rect x="186.05" y="322.90" width="16.48" height="1.36" fill="#a2d76a"/><rect x="202.48" y="322.90" width="19.48" height="1.36" fill="#bae277"/><rect x="18.80" y="324.20" width="19.48" height="1.06" fill="#fb9e59"/><rect x="38.23" y="324.20" width="16.48" height="1.06" fill="#fca75e"/><rect x="54.65" y="324.20" width="16.48" height="1.06" fill="#f7824c"/><rect x="71.08" y="324.20" width="16.48" height="1.06" fill="#ffffbf"/><rect x="87.50" y="324.20" width="16.48" height="1.06" fill="#fff5ae"/><rect x="103.92" y="324.20" width="16.48" height="1.06" fill="#fffcba"/><rect x="120.35" y="324.20" width="16.48" height="1.06" fill="#fee18d"/><rect x="136.78" y="324.20" width="16.48" height="1.06" fill="#fed481"/><rect x="153.20" y="324.20" width="16.48" height="1.06" fill="#fee390"/><rect x="169.63" y="324.20" width="16.48" height="1.06" fill="#b3df73"/><rect x="186.05" y="324.20" width="16.48" height="1.06" fill="#9ad469"/><rect x="202.48" y="324.20" width="19.48" height="1.06" fill="#ceea84"/><rect x="18.80" y="325.20" width="19.48" height="1.36" fill="#f88d52"/><rect x="38.23" y="325.20" width="16.48" height="1.36" fill="#f36b42"/><rect x="54.65" y="325.20" width="16.48" height="1.36" fill="#f26841"/><rect x="71.08" y="325.20" width="16.48" height="1.36" fill="#fee491"/><rect x="87.50" y="325.20" width="16.48" height="1.36" fill="#fee08b"/><rect x="103.92" y="325.20" width="16.48" height="1.36" fill="#fed280"/><rect x="120.35" y="325.20" width="16.48" height="1.36" fill="#fffcba"/><rect x="136.78" y="325.20" width="16.48" height="1.36" fill="#ffffbf"/><rect x="153.20" y="325.20" width="16.48" height="1.36" fill="#fbfdb9"/><rect x="169.63" y="325.20" width="16.48" height="1.36" fill="#d0eb85"/><rect x="186.05" y="325.20" width="16.48" height="1.36" fill="#bce278"/><rect x="202.48" y="325.20" width="19.48" height="1.36" fill="#c4e67d"/><rect x="18.80" y="326.50" width="19.48" height="1.06" fill="#fece7c"/><rect x="38.23" y="326.50" width="16.48" height="1.06" fill="#fee899"/><rect x="54.65" y="326.50" width="16.48" height="1.06" fill="#fff1a7"/><rect x="71.08" y="326.50" width="16.48" height="1.06" fill="#fedd88"/><rect x="87.50" y="326.50" width="16.48" height="1.06" fill="#fffcba"/><rect x="103.92" y="326.50" width="16.48" height="1.06" fill="#fffcbb"/><rect x="120.35" y="326.50" width="16.48" height="1.06" fill="#fee695"/><rect x="136.78" y="326.50" width="16.48" height="1.06" fill="#fee695"/><rect x="153.20" y="326.50" width="16.48" height="1.06" fill="#fed481"/><rect x="169.63" y="326.50" width="16.48" height="1.06" fill="#d0eb85"/><rect x="186.05" y="326.50" width="16.48" height="1.06" fill="#e5f49c"/><rect x="202.48" y="326.50" width="19.48" height="1.06" fill="#bde379"/><rect x="18.80" y="327.50" width="19.48" height="1.06" fill="#fee08b"/><rect x="38.23" y="327.50" width="16.48" height="1.06" fill="#fee391"/><rect x="54.65" y="327.50" width="16.48" height="1.06" fill="#fecd7b"/><rect x="71.08" y="327.50" width="16.48" height="1.06" fill="#fbfeba"/><rect x="87.50" y="327.50" width="16.48" height="1.06" fill="#e8f59f"/><rect x="103.92" y="327.50" width="16.48" height="1.06" fill="#eff8aa"/><rect x="120.35" y="327.50" width="16.48" height="1.06" fill="#feec9f"/><rect x="136.78" y="327.50" width="16.48" height="1.06" fill="#fff6b1"/><rect x="153.20" y="327.50" width="16.48" height="1.06" fill="#fffdbb"/><rect x="169.63" y="327.50" width="16.48" height="1.06" fill="#ddf090"/><rect x="186.05" y="327.50" width="16.48" height="1.06" fill="#c2e57c"/><rect x="202.48" y="327.50" width="19.48" height="1.06" fill="#e4f49a"/><rect x="18.80" y="328.50" width="19.48" height="1.26" fill="#f88c51"/><rect x="38.23" y="328.50" width="16.48" height="1.26" fill="#f26941"/><rect x="54.65" y="328.50" width="16.48" height="1.26" fill="#fdc171"/><rect x="71.08" y="328.50" width="16.48" height="1.26" fill="#fff0a6"/><rect x="87.50" y="328.50" width="16.48" height="1.26" fill="#fff6b0"/><rect x="103.92" y="328.50" width="16.48" height="1.26" fill="#fff2aa"/><rect x="120.35" y="328.50" width="16.48" height="1.26" fill="#c2e57c"/><rect x="136.78" y="328.50" width="16.48" height="1.26" fill="#c5e67e"/><rect x="153.20" y="328.50" width="16.48" height="1.26" fill="#bfe47a"/><rect x="169.63" y="328.50" width="16.48" height="1.26" fill="#e4f49a"/><rect x="186.05" y="328.50" width="16.48" height="1.26" fill="#e5f49c"/><rect x="202.48" y="328.50" width="19.48" height="1.26" fill="#f6fbb3"/><rect x="18.80" y="329.70" width="19.48" height="0.96" fill="#fee492"/><rect x="38.23" y="329.70" width="16.48" height="0.96" fill="#fdc675"/><rect x="54.65" y="329.70" width="16.48" height="0.96" fill="#feefa4"/><rect x="71.08" y="329.70" width="16.48" height="0.96" fill="#fff3ab"/><rect x="87.50" y="329.70" width="16.48" height="0.96" fill="#feeca0"/><rect x="103.92" y="329.70" width="16.48" height="0.96" fill="#fed582"/><rect x="120.35" y="329.70" width="16.48" height="0.96" fill="#aadb6d"/><rect x="136.78" y="329.70" width="16.48" height="0.96" fill="#ceea84"/><rect x="153.20" y="329.70" width="16.48" height="0.96" fill="#d8ee8a"/><rect x="169.63" y="329.70" width="16.48" height="0.96" fill="#cae981"/><rect x="186.05" y="329.70" width="16.48" height="0.96" fill="#d9ef8b"/><rect x="202.48" y="329.70" width="19.48" height="0.96" fill="#cae881"/><rect x="18.80" y="330.60" width="19.48" height="0.96" fill="#afdd70"/><rect x="38.23" y="330.60" width="16.48" height="0.96" fill="#9fd669"/><rect x="54.65" y="330.60" width="16.48" height="0.96" fill="#afdd70"/><rect x="71.08" y="330.60" width="16.48" height="0.96" fill="#fdad61"/><rect x="87.50" y="330.60" width="16.48" height="0.96" fill="#f98f53"/><rect x="103.92" y="330.60" width="16.48" height="0.96" fill="#f0653f"/><rect x="120.35" y="330.60" width="16.48" height="0.96" fill="#fee491"/><rect x="136.78" y="330.60" width="16.48" height="0.96" fill="#feefa4"/><rect x="153.20" y="330.60" width="16.48" height="0.96" fill="#fff7b1"/><rect x="169.63" y="330.60" width="16.48" height="0.96" fill="#d8ee8a"/><rect x="186.05" y="330.60" width="16.48" height="0.96" fill="#c5e67e"/><rect x="202.48" y="330.60" width="19.48" height="0.96" fill="#ecf7a5"/><rect x="18.80" y="331.50" width="19.48" height="0.86" fill="#63bc62"/><rect x="38.23" y="331.50" width="16.48" height="0.86" fill="#bbe278"/><rect x="54.65" y="331.50" width="16.48" height="0.86" fill="#9ad469"/><rect x="71.08" y="331.50" width="16.48" height="0.86" fill="#d2ec87"/><rect x="87.50" y="331.50" width="16.48" height="0.86" fill="#def192"/><rect x="103.92" y="331.50" width="16.48" height="0.86" fill="#d7ee89"/><rect x="120.35" y="331.50" width="16.48" height="0.86" fill="#fffab7"/><rect x="136.78" y="331.50" width="16.48" height="0.86" fill="#eaf6a2"/><rect x="153.20" y="331.50" width="16.48" height="0.86" fill="#f9fcb7"/><rect x="169.63" y="331.50" width="16.48" height="0.86" fill="#d4ed88"/><rect x="186.05" y="331.50" width="16.48" height="0.86" fill="#d8ef8b"/><rect x="202.48" y="331.50" width="19.48" height="0.86" fill="#d8ee8a"/><rect x="18.80" y="332.30" width="19.48" height="1.26" fill="#9fd669"/><rect x="38.23" y="332.30" width="16.48" height="1.26" fill="#67bd63"/><rect x="54.65" y="332.30" width="16.48" height="1.26" fill="#92d068"/><rect x="71.08" y="332.30" width="16.48" height="1.26" fill="#d7ee8a"/><rect x="87.50" y="332.30" width="16.48" height="1.26" fill="#e2f398"/><rect x="103.92" y="332.30" width="16.48" height="1.26" fill="#c5e67e"/><rect x="120.35" y="332.30" width="16.48" height="1.26" fill="#fee593"/><rect x="136.78" y="332.30" width="16.48" height="1.26" fill="#fff2a9"/><rect x="153.20" y="332.30" width="16.48" height="1.26" fill="#fff2a9"/><rect x="169.63" y="332.30" width="16.48" height="1.26" fill="#fee899"/><rect x="186.05" y="332.30" width="16.48" height="1.26" fill="#fed481"/><rect x="202.48" y="332.30" width="19.48" height="1.26" fill="#feeb9e"/><rect x="18.80" y="333.50" width="19.48" height="1.06" fill="#8ccd67"/><rect x="38.23" y="333.50" width="16.48" height="1.06" fill="#bfe47a"/><rect x="54.65" y="333.50" width="16.48" height="1.06" fill="#addc6f"/><rect x="71.08" y="333.50" width="16.48" height="1.06" fill="#feea9b"/><rect x="87.50" y="333.50" width="16.48" height="1.06" fill="#fff3aa"/><rect x="103.92" y="333.50" width="16.48" height="1.06" fill="#feeca0"/><rect x="120.35" y="333.50" width="16.48" height="1.06" fill="#fee695"/><rect x="136.78" y="333.50" width="16.48" height="1.06" fill="#fed27f"/><rect x="153.20" y="333.50" width="16.48" height="1.06" fill="#fff3aa"/><rect x="169.63" y="333.50" width="16.48" height="1.06" fill="#fed380"/><rect x="186.05" y="333.50" width="16.48" height="1.06" fill="#fedd88"/><rect x="202.48" y="333.50" width="19.48" height="1.06" fill="#fed17e"/><rect x="18.80" y="334.50" width="19.48" height="1.06" fill="#79c565"/><rect x="38.23" y="334.50" width="16.48" height="1.06" fill="#87cc67"/><rect x="54.65" y="334.50" width="16.48" height="1.06" fill="#6dc064"/><rect x="71.08" y="334.50" width="16.48" height="1.06" fill="#fffcb9"/><rect x="87.50" y="334.50" width="16.48" height="1.06" fill="#fafdb9"/><rect x="103.92" y="334.50" width="16.48" height="1.06" fill="#e8f59f"/><rect x="120.35" y="334.50" width="16.48" height="1.06" fill="#f4fab0"/><rect x="136.78" y="334.50" width="16.48" height="1.06" fill="#fff6af"/><rect x="153.20" y="334.50" width="16.48" height="1.06" fill="#e7f59e"/><rect x="169.63" y="334.50" width="16.48" height="1.06" fill="#fedf8a"/><rect x="186.05" y="334.50" width="16.48" height="1.06" fill="#fff2aa"/><rect x="202.48" y="334.50" width="19.48" height="1.06" fill="#fee390"/><rect x="18.80" y="335.50" width="19.48" height="1.06" fill="#9ad469"/><rect x="38.23" y="335.50" width="16.48" height="1.06" fill="#cae881"/><rect x="54.65" y="335.50" width="16.48" height="1.06" fill="#a2d76a"/><rect x="71.08" y="335.50" width="16.48" height="1.06" fill="#ebf7a4"/><rect x="87.50" y="335.50" width="16.48" height="1.06" fill="#f0f9ab"/><rect x="103.92" y="335.50" width="16.48" height="1.06" fill="#f0f9ab"/><rect x="120.35" y="335.50" width="16.48" height="1.06" fill="#feeda1"/><rect x="136.78" y="335.50" width="16.48" height="1.06" fill="#fffab7"/><rect x="153.20" y="335.50" width="16.48" height="1.06" fill="#fee492"/><rect x="169.63" y="335.50" width="16.48" height="1.06" fill="#e7f59f"/><rect x="186.05" y="335.50" width="16.48" height="1.06" fill="#c7e77f"/><rect x="202.48" y="335.50" width="19.48" height="1.06" fill="#ddf190"/><rect x="18.80" y="336.50" width="19.48" height="0.96" fill="#9cd569"/><rect x="38.23" y="336.50" width="16.48" height="0.96" fill="#8cce67"/><rect x="54.65" y="336.50" width="16.48" height="0.96" fill="#a2d76a"/><rect x="71.08" y="336.50" width="16.48" height="0.96" fill="#cfeb85"/><rect x="87.50" y="336.50" width="16.48" height="0.96" fill="#f8fcb6"/><rect x="103.92" y="336.50" width="16.48" height="0.96" fill="#f0f9aa"/><rect x="120.35" y="336.50" width="16.48" height="0.96" fill="#feefa4"/><rect x="136.78" y="336.50" width="16.48" height="0.96" fill="#feeea2"/><rect x="153.20" y="336.50" width="16.48" height="0.96" fill="#fff2a9"/><rect x="169.63" y="336.50" width="16.48" height="0.96" fill="#dff193"/><rect x="186.05" y="336.50" width="16.48" height="0.96" fill="#ebf7a4"/><rect x="202.48" y="336.50" width="19.48" height="0.96" fill="#fff7b2"/><rect x="18.80" y="337.40" width="19.48" height="0.96" fill="#8bcd67"/><rect x="38.23" y="337.40" width="16.48" height="0.96" fill="#96d268"/><rect x="54.65" y="337.40" width="16.48" height="0.96" fill="#a9da6c"/><rect x="71.08" y="337.40" width="16.48" height="0.96" fill="#fff5ae"/><rect x="87.50" y="337.40" width="16.48" height="0.96" fill="#d9ef8b"/><rect x="103.92" y="337.40" width="16.48" height="0.96" fill="#fffdbb"/><rect x="120.35" y="337.40" width="16.48" height="0.96" fill="#fa9857"/><rect x="136.78" y="337.40" width="16.48" height="0.96" fill="#f8874f"/><rect x="153.20" y="337.40" width="16.48" height="0.96" fill="#f8884f"/><rect x="169.63" y="337.40" width="16.48" height="0.96" fill="#fee898"/><rect x="186.05" y="337.40" width="16.48" height="0.96" fill="#fff7b1"/><rect x="202.48" y="337.40" width="19.48" height="0.96" fill="#fcfeba"/><rect x="18.80" y="338.30" width="19.48" height="1.56" fill="#bde379"/><rect x="38.23" y="338.30" width="16.48" height="1.56" fill="#9fd669"/><rect x="54.65" y="338.30" width="16.48" height="1.56" fill="#68be63"/><rect x="71.08" y="338.30" width="16.48" height="1.56" fill="#fee696"/><rect x="87.50" y="338.30" width="16.48" height="1.56" fill="#fb9e5a"/><rect x="103.92" y="338.30" width="16.48" height="1.56" fill="#fed17f"/><rect x="120.35" y="338.30" width="16.48" height="1.56" fill="#fec977"/><rect x="136.78" y="338.30" width="16.48" height="1.56" fill="#fed27f"/><rect x="153.20" y="338.30" width="16.48" height="1.56" fill="#fed17f"/><rect x="169.63" y="338.30" width="16.48" height="1.56" fill="#fecb7a"/><rect x="186.05" y="338.30" width="16.48" height="1.56" fill="#fee796"/><rect x="202.48" y="338.30" width="19.48" height="1.56" fill="#fdc373"/><rect x="18.80" y="339.80" width="19.48" height="0.96" fill="#e85337"/><rect x="38.23" y="339.80" width="16.48" height="0.96" fill="#f98f53"/><rect x="54.65" y="339.80" width="16.48" height="0.96" fill="#fdc171"/><rect x="71.08" y="339.80" width="16.48" height="0.96" fill="#fca85e"/><rect x="87.50" y="339.80" width="16.48" height="0.96" fill="#f06540"/><rect x="103.92" y="339.80" width="16.48" height="0.96" fill="#f98f52"/><rect x="120.35" y="339.80" width="16.48" height="0.96" fill="#d1eb86"/><rect x="136.78" y="339.80" width="16.48" height="0.96" fill="#cdea83"/><rect x="153.20" y="339.80" width="16.48" height="0.96" fill="#b1de71"/><rect x="169.63" y="339.80" width="16.48" height="0.96" fill="#f1f9ac"/><rect x="186.05" y="339.80" width="16.48" height="0.96" fill="#feffbe"/><rect x="202.48" y="339.80" width="19.48" height="0.96" fill="#dff293"/><rect x="18.80" y="340.70" width="19.48" height="1.36" fill="#cae981"/><rect x="38.23" y="340.70" width="16.48" height="1.36" fill="#a6d96a"/><rect x="54.65" y="340.70" width="16.48" height="1.36" fill="#99d469"/><rect x="71.08" y="340.70" width="16.48" height="1.36" fill="#fbfdb9"/><rect x="87.50" y="340.70" width="16.48" height="1.36" fill="#fee99a"/><rect x="103.92" y="340.70" width="16.48" height="1.36" fill="#fcfebb"/><rect x="120.35" y="340.70" width="16.48" height="1.36" fill="#ffffbf"/><rect x="136.78" y="340.70" width="16.48" height="1.36" fill="#fee492"/><rect x="153.20" y="340.70" width="16.48" height="1.36" fill="#fffdbb"/><rect x="169.63" y="340.70" width="16.48" height="1.36" fill="#fee493"/><rect x="186.05" y="340.70" width="16.48" height="1.36" fill="#fee593"/><rect x="202.48" y="340.70" width="19.48" height="1.36" fill="#fdbf6f"/><rect x="18.80" y="342.00" width="19.48" height="0.96" fill="#b8e176"/><rect x="38.23" y="342.00" width="16.48" height="0.96" fill="#c6e77e"/><rect x="54.65" y="342.00" width="16.48" height="0.96" fill="#a9da6c"/><rect x="71.08" y="342.00" width="16.48" height="0.96" fill="#d7ee8a"/><rect x="87.50" y="342.00" width="16.48" height="0.96" fill="#f0f9ab"/><rect x="103.92" y="342.00" width="16.48" height="0.96" fill="#ecf7a4"/><rect x="120.35" y="342.00" width="16.48" height="0.96" fill="#f6fbb3"/><rect x="136.78" y="342.00" width="16.48" height="0.96" fill="#f3faae"/><rect x="153.20" y="342.00" width="16.48" height="0.96" fill="#fafdb8"/><rect x="169.63" y="342.00" width="16.48" height="0.96" fill="#fffab6"/><rect x="186.05" y="342.00" width="16.48" height="0.96" fill="#fffab7"/><rect x="202.48" y="342.00" width="19.48" height="0.96" fill="#feeea3"/><rect x="18.80" y="342.90" width="19.48" height="0.86" fill="#ddf191"/><rect x="38.23" y="342.90" width="16.48" height="0.86" fill="#bde379"/><rect x="54.65" y="342.90" width="16.48" height="0.86" fill="#d2ec86"/><rect x="71.08" y="342.90" width="16.48" height="0.86" fill="#fa9857"/><rect x="87.50" y="342.90" width="16.48" height="0.86" fill="#f06540"/><rect x="103.92" y="342.90" width="16.48" height="0.86" fill="#f67a49"/><rect x="120.35" y="342.90" width="16.48" height="0.86" fill="#fdc272"/><rect x="136.78" y="342.90" width="16.48" height="0.86" fill="#feeb9d"/><rect x="153.20" y="342.90" width="16.48" height="0.86" fill="#feea9c"/><rect x="169.63" y="342.90" width="16.48" height="0.86" fill="#fede89"/><rect x="186.05" y="342.90" width="16.48" height="0.86" fill="#fedc88"/><rect x="202.48" y="342.90" width="19.48" height="0.86" fill="#fee797"/><rect x="18.80" y="343.70" width="19.48" height="1.26" fill="#fdb365"/><rect x="38.23" y="343.70" width="16.48" height="1.26" fill="#fee594"/><rect x="54.65" y="343.70" width="16.48" height="1.26" fill="#fee390"/><rect x="71.08" y="343.70" width="16.48" height="1.26" fill="#d8ef8a"/><rect x="87.50" y="343.70" width="16.48" height="1.26" fill="#fff3ac"/><rect x="103.92" y="343.70" width="16.48" height="1.26" fill="#f5fbb1"/><rect x="120.35" y="343.70" width="16.48" height="1.26" fill="#fee28e"/><rect x="136.78" y="343.70" width="16.48" height="1.26" fill="#feeb9e"/><rect x="153.20" y="343.70" width="16.48" height="1.26" fill="#fffab7"/><rect x="169.63" y="343.70" width="16.48" height="1.26" fill="#fff8b3"/><rect x="186.05" y="343.70" width="16.48" height="1.26" fill="#e6f59d"/><rect x="202.48" y="343.70" width="19.48" height="1.26" fill="#ecf7a6"/><rect x="18.80" y="344.90" width="19.48" height="0.96" fill="#fee898"/><rect x="38.23" y="344.90" width="16.48" height="0.96" fill="#e5f49c"/><rect x="54.65" y="344.90" width="16.48" height="0.96" fill="#f3faaf"/><rect x="71.08" y="344.90" width="16.48" height="0.96" fill="#feeda0"/><rect x="87.50" y="344.90" width="16.48" height="0.96" fill="#f4fab0"/><rect x="103.92" y="344.90" width="16.48" height="0.96" fill="#dff293"/><rect x="120.35" y="344.90" width="16.48" height="0.96" fill="#def192"/><rect x="136.78" y="344.90" width="16.48" height="0.96" fill="#eaf6a3"/><rect x="153.20" y="344.90" width="16.48" height="0.96" fill="#e0f295"/><rect x="169.63" y="344.90" width="16.48" height="0.96" fill="#fedb87"/><rect x="186.05" y="344.90" width="16.48" height="0.96" fill="#fee28f"/><rect x="202.48" y="344.90" width="19.48" height="0.96" fill="#fedd88"/><rect x="18.80" y="345.80" width="19.48" height="1.26" fill="#fdb567"/><rect x="38.23" y="345.80" width="16.48" height="1.26" fill="#fed07d"/><rect x="54.65" y="345.80" width="16.48" height="1.26" fill="#fec978"/><rect x="71.08" y="345.80" width="16.48" height="1.26" fill="#fdbc6d"/><rect x="87.50" y="345.80" width="16.48" height="1.26" fill="#feda86"/><rect x="103.92" y="345.80" width="16.48" height="1.26" fill="#f9fdb7"/><rect x="120.35" y="345.80" width="16.48" height="1.26" fill="#fff8b3"/><rect x="136.78" y="345.80" width="16.48" height="1.26" fill="#eaf6a2"/><rect x="153.20" y="345.80" width="16.48" height="1.26" fill="#fffdbc"/><rect x="169.63" y="345.80" width="16.48" height="1.26" fill="#feeea3"/><rect x="186.05" y="345.80" width="16.48" height="1.26" fill="#fee28e"/><rect x="202.48" y="345.80" width="19.48" height="1.26" fill="#fec978"/><rect x="18.80" y="347.00" width="19.48" height="1.06" fill="#e54e35"/><rect x="38.23" y="347.00" width="16.48" height="1.06" fill="#fdbd6d"/><rect x="54.65" y="347.00" width="16.48" height="1.06" fill="#fdad61"/><rect x="71.08" y="347.00" width="16.48" height="1.06" fill="#db382a"/><rect x="87.50" y="347.00" width="16.48" height="1.06" fill="#f57446"/><rect x="103.92" y="347.00" width="16.48" height="1.06" fill="#fdad60"/><rect x="120.35" y="347.00" width="16.48" height="1.06" fill="#fffebd"/><rect x="136.78" y="347.00" width="16.48" height="1.06" fill="#fffdbc"/><rect x="153.20" y="347.00" width="16.48" height="1.06" fill="#fbfdb9"/><rect x="169.63" y="347.00" width="16.48" height="1.06" fill="#fff7b2"/><rect x="186.05" y="347.00" width="16.48" height="1.06" fill="#fffcba"/><rect x="202.48" y="347.00" width="19.48" height="1.06" fill="#f7fcb5"/><rect x="18.80" y="348.00" width="19.48" height="1.36" fill="#fee18d"/><rect x="38.23" y="348.00" width="16.48" height="1.36" fill="#fec877"/><rect x="54.65" y="348.00" width="16.48" height="1.36" fill="#feeda1"/><rect x="71.08" y="348.00" width="16.48" height="1.36" fill="#fecd7b"/><rect x="87.50" y="348.00" width="16.48" height="1.36" fill="#fee28e"/><rect x="103.92" y="348.00" width="16.48" height="1.36" fill="#fff7b1"/><rect x="120.35" y="348.00" width="16.48" height="1.36" fill="#f1f9ac"/><rect x="136.78" y="348.00" width="16.48" height="1.36" fill="#eaf6a2"/><rect x="153.20" y="348.00" width="16.48" height="1.36" fill="#f3faaf"/><rect x="169.63" y="348.00" width="16.48" height="1.36" fill="#dff193"/><rect x="186.05" y="348.00" width="16.48" height="1.36" fill="#c2e57c"/><rect x="202.48" y="348.00" width="19.48" height="1.36" fill="#cbe982"/><rect x="18.80" y="349.30" width="19.48" height="1.56" fill="#fed27f"/><rect x="38.23" y="349.30" width="16.48" height="1.56" fill="#fff0a6"/><rect x="54.65" y="349.30" width="16.48" height="1.56" fill="#fee899"/><rect x="71.08" y="349.30" width="16.48" height="1.56" fill="#fa9757"/><rect x="87.50" y="349.30" width="16.48" height="1.56" fill="#f06540"/><rect x="103.92" y="349.30" width="16.48" height="1.56" fill="#f67c4a"/><rect x="120.35" y="349.30" width="16.48" height="1.56" fill="#f4fab0"/><rect x="136.78" y="349.30" width="16.48" height="1.56" fill="#fff1a7"/><rect x="153.20" y="349.30" width="16.48" height="1.56" fill="#fffbb8"/><rect x="169.63" y="349.30" width="16.48" height="1.56" fill="#fed783"/><rect x="186.05" y="349.30" width="16.48" height="1.56" fill="#fee898"/><rect x="202.48" y="349.30" width="19.48" height="1.56" fill="#fecd7b"/><rect x="18.80" y="350.80" width="19.48" height="1.36" fill="#fdbd6d"/><rect x="38.23" y="350.80" width="16.48" height="1.36" fill="#fca95f"/><rect x="54.65" y="350.80" width="16.48" height="1.36" fill="#fdb164"/><rect x="71.08" y="350.80" width="16.48" height="1.36" fill="#fff6af"/><rect x="87.50" y="350.80" width="16.48" height="1.36" fill="#fdb567"/><rect x="103.92" y="350.80" width="16.48" height="1.36" fill="#fffdbb"/><rect x="120.35" y="350.80" width="16.48" height="1.36" fill="#fee38f"/><rect x="136.78" y="350.80" width="16.48" height="1.36" fill="#fff1a8"/><rect x="153.20" y="350.80" width="16.48" height="1.36" fill="#fffcbb"/><rect x="169.63" y="350.80" width="16.48" height="1.36" fill="#fffbb8"/><rect x="186.05" y="350.80" width="16.48" height="1.36" fill="#eef8a8"/><rect x="202.48" y="350.80" width="19.48" height="1.36" fill="#dff294"/><rect x="18.80" y="352.10" width="19.48" height="1.06" fill="#fca75e"/><rect x="38.23" y="352.10" width="16.48" height="1.06" fill="#fca65d"/><rect x="54.65" y="352.10" width="16.48" height="1.06" fill="#f7804c"/><rect x="71.08" y="352.10" width="16.48" height="1.06" fill="#fee390"/><rect x="87.50" y="352.10" width="16.48" height="1.06" fill="#fba05a"/><rect x="103.92" y="352.10" width="16.48" height="1.06" fill="#fee18d"/><rect x="120.35" y="352.10" width="16.48" height="1.06" fill="#fff6af"/><rect x="136.78" y="352.10" width="16.48" height="1.06" fill="#f1f9ac"/><rect x="153.20" y="352.10" width="16.48" height="1.06" fill="#fefebd"/><rect x="169.63" y="352.10" width="16.48" height="1.06" fill="#f8fcb5"/><rect x="186.05" y="352.10" width="16.48" height="1.06" fill="#d8ee8a"/><rect x="202.48" y="352.10" width="19.48" height="1.06" fill="#d2ec86"/><rect x="18.80" y="353.10" width="19.48" height="1.56" fill="#fdaf62"/><rect x="38.23" y="353.10" width="16.48" height="1.56" fill="#fdb062"/><rect x="54.65" y="353.10" width="16.48" height="1.56" fill="#fdbb6c"/><rect x="71.08" y="353.10" width="16.48" height="1.56" fill="#fed582"/><rect x="87.50" y="353.10" width="16.48" height="1.56" fill="#fca55d"/><rect x="103.92" y="353.10" width="16.48" height="1.56" fill="#fdc171"/><rect x="120.35" y="353.10" width="16.48" height="1.56" fill="#fafdb8"/><rect x="136.78" y="353.10" width="16.48" height="1.56" fill="#fffcba"/><rect x="153.20" y="353.10" width="16.48" height="1.56" fill="#fffbb8"/><rect x="169.63" y="353.10" width="16.48" height="1.56" fill="#69be63"/><rect x="186.05" y="353.10" width="16.48" height="1.56" fill="#86cb66"/><rect x="202.48" y="353.10" width="19.48" height="1.56" fill="#92d068"/><rect x="18.80" y="354.60" width="19.48" height="1.06" fill="#fee28e"/><rect x="38.23" y="354.60" width="16.48" height="1.06" fill="#fff6b0"/><rect x="54.65" y="354.60" width="16.48" height="1.06" fill="#fee99a"/><rect x="71.08" y="354.60" width="16.48" height="1.06" fill="#fff8b3"/><rect x="87.50" y="354.60" width="16.48" height="1.06" fill="#fdc272"/><rect x="103.92" y="354.60" width="16.48" height="1.06" fill="#fecf7d"/><rect x="120.35" y="354.60" width="16.48" height="1.06" fill="#c0e47b"/><rect x="136.78" y="354.60" width="16.48" height="1.06" fill="#9ed669"/><rect x="153.20" y="354.60" width="16.48" height="1.06" fill="#afdd70"/><rect x="169.63" y="354.60" width="16.48" height="1.06" fill="#a3d86a"/><rect x="186.05" y="354.60" width="16.48" height="1.06" fill="#a5d86a"/><rect x="202.48" y="354.60" width="19.48" height="1.06" fill="#9ed669"/><rect x="18.80" y="355.60" width="19.48" height="1.06" fill="#fed783"/><rect x="38.23" y="355.60" width="16.48" height="1.06" fill="#feec9f"/><rect x="54.65" y="355.60" width="16.48" height="1.06" fill="#fdb466"/><rect x="71.08" y="355.60" width="16.48" height="1.06" fill="#fa9c58"/><rect x="87.50" y="355.60" width="16.48" height="1.06" fill="#fecc7a"/><rect x="103.92" y="355.60" width="16.48" height="1.06" fill="#fb9f5a"/><rect x="120.35" y="355.60" width="16.48" height="1.06" fill="#b0dd70"/><rect x="136.78" y="355.60" width="16.48" height="1.06" fill="#d1ec86"/><rect x="153.20" y="355.60" width="16.48" height="1.06" fill="#c0e47b"/><rect x="169.63" y="355.60" width="16.48" height="1.06" fill="#ddf190"/><rect x="186.05" y="355.60" width="16.48" height="1.06" fill="#cce983"/><rect x="202.48" y="355.60" width="19.48" height="1.06" fill="#e0f295"/><rect x="18.80" y="356.60" width="19.48" height="1.36" fill="#fee898"/><rect x="38.23" y="356.60" width="16.48" height="1.36" fill="#fb9e5a"/><rect x="54.65" y="356.60" width="16.48" height="1.36" fill="#f99154"/><rect x="71.08" y="356.60" width="16.48" height="1.36" fill="#feefa4"/><rect x="87.50" y="356.60" width="16.48" height="1.36" fill="#fffab6"/><rect x="103.92" y="356.60" width="16.48" height="1.36" fill="#fee695"/><rect x="120.35" y="356.60" width="16.48" height="1.36" fill="#c4e67d"/><rect x="136.78" y="356.60" width="16.48" height="1.36" fill="#afdd70"/><rect x="153.20" y="356.60" width="16.48" height="1.36" fill="#98d368"/><rect x="169.63" y="356.60" width="16.48" height="1.36" fill="#cce982"/><rect x="186.05" y="356.60" width="16.48" height="1.36" fill="#addc6f"/><rect x="202.48" y="356.60" width="19.48" height="1.36" fill="#c8e880"/><rect x="18.80" y="357.90" width="19.48" height="1.36" fill="#fdbe6e"/><rect x="38.23" y="357.90" width="16.48" height="1.36" fill="#f98e52"/><rect x="54.65" y="357.90" width="16.48" height="1.36" fill="#ea5839"/><rect x="71.08" y="357.90" width="16.48" height="1.36" fill="#f8fcb5"/><rect x="87.50" y="357.90" width="16.48" height="1.36" fill="#fee695"/><rect x="103.92" y="357.90" width="16.48" height="1.36" fill="#fff3ab"/><rect x="120.35" y="357.90" width="16.48" height="1.36" fill="#bee37a"/><rect x="136.78" y="357.90" width="16.48" height="1.36" fill="#a7d96b"/><rect x="153.20" y="357.90" width="16.48" height="1.36" fill="#a1d769"/><rect x="169.63" y="357.90" width="16.48" height="1.36" fill="#77c565"/><rect x="186.05" y="357.90" width="16.48" height="1.36" fill="#9ad469"/><rect x="202.48" y="357.90" width="19.48" height="1.36" fill="#a1d769"/><rect x="18.80" y="359.20" width="19.48" height="1.56" fill="#fdb265"/><rect x="38.23" y="359.20" width="16.48" height="1.56" fill="#fba15b"/><rect x="54.65" y="359.20" width="16.48" height="1.56" fill="#f88950"/><rect x="71.08" y="359.20" width="16.48" height="1.56" fill="#feffbe"/><rect x="87.50" y="359.20" width="16.48" height="1.56" fill="#fcfeba"/><rect x="103.92" y="359.20" width="16.48" height="1.56" fill="#fff1a7"/><rect x="120.35" y="359.20" width="16.48" height="1.56" fill="#d3ec87"/><rect x="136.78" y="359.20" width="16.48" height="1.56" fill="#ddf190"/><rect x="153.20" y="359.20" width="16.48" height="1.56" fill="#c2e57c"/><rect x="169.63" y="359.20" width="16.48" height="1.56" fill="#a6d96a"/><rect x="186.05" y="359.20" width="16.48" height="1.56" fill="#92d068"/><rect x="202.48" y="359.20" width="19.48" height="1.56" fill="#65bd63"/><rect x="18.80" y="360.70" width="19.48" height="1.86" fill="#fb9f5a"/><rect x="38.23" y="360.70" width="16.48" height="1.86" fill="#fdb96b"/><rect x="54.65" y="360.70" width="16.48" height="1.86" fill="#f7824d"/><rect x="71.08" y="360.70" width="16.48" height="1.86" fill="#fff7b1"/><rect x="87.50" y="360.70" width="16.48" height="1.86" fill="#f8fcb5"/><rect x="103.92" y="360.70" width="16.48" height="1.86" fill="#feffbe"/><rect x="120.35" y="360.70" width="16.48" height="1.86" fill="#e9f6a1"/><rect x="136.78" y="360.70" width="16.48" height="1.86" fill="#cdea83"/><rect x="153.20" y="360.70" width="16.48" height="1.86" fill="#d7ee8a"/><rect x="169.63" y="360.70" width="16.48" height="1.86" fill="#cbe982"/><rect x="186.05" y="360.70" width="16.48" height="1.86" fill="#96d268"/><rect x="202.48" y="360.70" width="19.48" height="1.86" fill="#acdb6e"/><rect x="18.80" y="362.50" width="19.48" height="0.86" fill="#ebf6a3"/><rect x="38.23" y="362.50" width="16.48" height="0.86" fill="#fffab7"/><rect x="54.65" y="362.50" width="16.48" height="0.86" fill="#fece7c"/><rect x="71.08" y="362.50" width="16.48" height="0.86" fill="#eaf6a2"/><rect x="87.50" y="362.50" width="16.48" height="0.86" fill="#d3ed87"/><rect x="103.92" y="362.50" width="16.48" height="0.86" fill="#d0eb85"/><rect x="120.35" y="362.50" width="16.48" height="0.86" fill="#e9f6a0"/><rect x="136.78" y="362.50" width="16.48" height="0.86" fill="#e0f294"/><rect x="153.20" y="362.50" width="16.48" height="0.86" fill="#ecf7a5"/><rect x="169.63" y="362.50" width="16.48" height="0.86" fill="#a3d86a"/><rect x="186.05" y="362.50" width="16.48" height="0.86" fill="#93d168"/><rect x="202.48" y="362.50" width="19.48" height="0.86" fill="#b2de72"/><rect x="18.80" y="363.30" width="19.48" height="1.86" fill="#fa9555"/><rect x="38.23" y="363.30" width="16.48" height="1.86" fill="#e14531"/><rect x="54.65" y="363.30" width="16.48" height="1.86" fill="#f57245"/><rect x="71.08" y="363.30" width="16.48" height="1.86" fill="#fee696"/><rect x="87.50" y="363.30" width="16.48" height="1.86" fill="#fede89"/><rect x="103.92" y="363.30" width="16.48" height="1.86" fill="#fcfebb"/><rect x="120.35" y="363.30" width="16.48" height="1.86" fill="#75c465"/><rect x="136.78" y="363.30" width="16.48" height="1.86" fill="#72c264"/><rect x="153.20" y="363.30" width="16.48" height="1.86" fill="#77c565"/><rect x="169.63" y="363.30" width="16.48" height="1.86" fill="#ffffbf"/><rect x="186.05" y="363.30" width="16.48" height="1.86" fill="#fecc7b"/><rect x="202.48" y="363.30" width="19.48" height="1.86" fill="#fff3aa"/><rect x="18.80" y="365.10" width="19.48" height="0.96" fill="#fafdb8"/><rect x="38.23" y="365.10" width="16.48" height="0.96" fill="#fee594"/><rect x="54.65" y="365.10" width="16.48" height="0.96" fill="#fedb87"/><rect x="71.08" y="365.10" width="16.48" height="0.96" fill="#a7da6b"/><rect x="87.50" y="365.10" width="16.48" height="0.96" fill="#ddf190"/><rect x="103.92" y="365.10" width="16.48" height="0.96" fill="#c7e780"/><rect x="120.35" y="365.10" width="16.48" height="0.96" fill="#a4d86a"/><rect x="136.78" y="365.10" width="16.48" height="0.96" fill="#a2d76a"/><rect x="153.20" y="365.10" width="16.48" height="0.96" fill="#9dd569"/><rect x="169.63" y="365.10" width="16.48" height="0.96" fill="#7fc866"/><rect x="186.05" y="365.10" width="16.48" height="0.96" fill="#a7d96a"/><rect x="202.48" y="365.10" width="19.48" height="0.96" fill="#8bcd67"/><rect x="18.80" y="366.00" width="19.48" height="1.56" fill="#feec9e"/><rect x="38.23" y="366.00" width="16.48" height="1.56" fill="#fffab6"/><rect x="54.65" y="366.00" width="16.48" height="1.56" fill="#fee593"/><rect x="71.08" y="366.00" width="16.48" height="1.56" fill="#dbf08d"/><rect x="87.50" y="366.00" width="16.48" height="1.56" fill="#d5ed88"/><rect x="103.92" y="366.00" width="16.48" height="1.56" fill="#ceea84"/><rect x="120.35" y="366.00" width="16.48" height="1.56" fill="#e2f397"/><rect x="136.78" y="366.00" width="16.48" height="1.56" fill="#c9e880"/><rect x="153.20" y="366.00" width="16.48" height="1.56" fill="#d5ed88"/><rect x="169.63" y="366.00" width="16.48" height="1.56" fill="#c9e881"/><rect x="186.05" y="366.00" width="16.48" height="1.56" fill="#cdea83"/><rect x="202.48" y="366.00" width="19.48" height="1.56" fill="#cae881"/><rect x="18.80" y="367.50" width="19.48" height="1.36" fill="#fecd7b"/><rect x="38.23" y="367.50" width="16.48" height="1.36" fill="#f88d52"/><rect x="54.65" y="367.50" width="16.48" height="1.36" fill="#dd3c2d"/><rect x="71.08" y="367.50" width="16.48" height="1.36" fill="#c0e47b"/><rect x="87.50" y="367.50" width="16.48" height="1.36" fill="#d5ed88"/><rect x="103.92" y="367.50" width="16.48" height="1.36" fill="#dff193"/><rect x="120.35" y="367.50" width="16.48" height="1.36" fill="#cdea84"/><rect x="136.78" y="367.50" width="16.48" height="1.36" fill="#a9da6c"/><rect x="153.20" y="367.50" width="16.48" height="1.36" fill="#ceea84"/><rect x="169.63" y="367.50" width="16.48" height="1.36" fill="#e4f49a"/><rect x="186.05" y="367.50" width="16.48" height="1.36" fill="#e8f5a0"/><rect x="202.48" y="367.50" width="19.48" height="1.36" fill="#eaf6a2"/><rect x="18.80" y="368.80" width="19.48" height="1.06" fill="#fecd7b"/><rect x="38.23" y="368.80" width="16.48" height="1.06" fill="#f99254"/><rect x="54.65" y="368.80" width="16.48" height="1.06" fill="#f67c4a"/><rect x="71.08" y="368.80" width="16.48" height="1.06" fill="#fed985"/><rect x="87.50" y="368.80" width="16.48" height="1.06" fill="#fed481"/><rect x="103.92" y="368.80" width="16.48" height="1.06" fill="#fee99a"/><rect x="120.35" y="368.80" width="16.48" height="1.06" fill="#95d268"/><rect x="136.78" y="368.80" width="16.48" height="1.06" fill="#73c364"/><rect x="153.20" y="368.80" width="16.48" height="1.06" fill="#acdc6e"/><rect x="169.63" y="368.80" width="16.48" height="1.06" fill="#a6d96a"/><rect x="186.05" y="368.80" width="16.48" height="1.06" fill="#b7e175"/><rect x="202.48" y="368.80" width="19.48" height="1.06" fill="#a8da6b"/><rect x="18.80" y="369.80" width="19.48" height="0.96" fill="#fee492"/><rect x="38.23" y="369.80" width="16.48" height="0.96" fill="#fba25c"/><rect x="54.65" y="369.80" width="16.48" height="0.96" fill="#f99254"/><rect x="71.08" y="369.80" width="16.48" height="0.96" fill="#fff1a7"/><rect x="87.50" y="369.80" width="16.48" height="0.96" fill="#fff5ae"/><rect x="103.92" y="369.80" width="16.48" height="0.96" fill="#fff9b5"/><rect x="120.35" y="369.80" width="16.48" height="0.96" fill="#c9e881"/><rect x="136.78" y="369.80" width="16.48" height="0.96" fill="#d5ed88"/><rect x="153.20" y="369.80" width="16.48" height="0.96" fill="#d6ee89"/><rect x="169.63" y="369.80" width="16.48" height="0.96" fill="#afdd70"/><rect x="186.05" y="369.80" width="16.48" height="0.96" fill="#bde379"/><rect x="202.48" y="369.80" width="19.48" height="0.96" fill="#acdc6e"/><rect x="18.80" y="370.70" width="19.48" height="1.06" fill="#f6fbb3"/><rect x="38.23" y="370.70" width="16.48" height="1.06" fill="#ebf7a4"/><rect x="54.65" y="370.70" width="16.48" height="1.06" fill="#d1ec86"/><rect x="71.08" y="370.70" width="16.48" height="1.06" fill="#b6e074"/><rect x="87.50" y="370.70" width="16.48" height="1.06" fill="#c5e67e"/><rect x="103.92" y="370.70" width="16.48" height="1.06" fill="#ddf190"/><rect x="120.35" y="370.70" width="16.48" height="1.06" fill="#cce983"/><rect x="136.78" y="370.70" width="16.48" height="1.06" fill="#c7e77f"/><rect x="153.20" y="370.70" width="16.48" height="1.06" fill="#cdea83"/><rect x="169.63" y="370.70" width="16.48" height="1.06" fill="#e3f399"/><rect x="186.05" y="370.70" width="16.48" height="1.06" fill="#bee37a"/><rect x="202.48" y="370.70" width="19.48" height="1.06" fill="#ecf7a5"/><rect x="18.80" y="371.70" width="19.48" height="1.06" fill="#fffebd"/><rect x="38.23" y="371.70" width="16.48" height="1.06" fill="#fff8b3"/><rect x="54.65" y="371.70" width="16.48" height="1.06" fill="#feefa5"/><rect x="71.08" y="371.70" width="16.48" height="1.06" fill="#d7ee8a"/><rect x="87.50" y="371.70" width="16.48" height="1.06" fill="#e3f399"/><rect x="103.92" y="371.70" width="16.48" height="1.06" fill="#cbe982"/><rect x="120.35" y="371.70" width="16.48" height="1.06" fill="#bbe277"/><rect x="136.78" y="371.70" width="16.48" height="1.06" fill="#d8ee8a"/><rect x="153.20" y="371.70" width="16.48" height="1.06" fill="#d2ec86"/><rect x="169.63" y="371.70" width="16.48" height="1.06" fill="#b6e074"/><rect x="186.05" y="371.70" width="16.48" height="1.06" fill="#a1d769"/><rect x="202.48" y="371.70" width="19.48" height="1.06" fill="#91d068"/><rect x="18.80" y="372.70" width="19.48" height="1.26" fill="#e4f49a"/><rect x="38.23" y="372.70" width="16.48" height="1.26" fill="#d6ee89"/><rect x="54.65" y="372.70" width="16.48" height="1.26" fill="#e6f49c"/><rect x="71.08" y="372.70" width="16.48" height="1.26" fill="#fff8b3"/><rect x="87.50" y="372.70" width="16.48" height="1.26" fill="#fff9b6"/><rect x="103.92" y="372.70" width="16.48" height="1.26" fill="#fff6b0"/><rect x="120.35" y="372.70" width="16.48" height="1.26" fill="#b7e075"/><rect x="136.78" y="372.70" width="16.48" height="1.26" fill="#b1de71"/><rect x="153.20" y="372.70" width="16.48" height="1.26" fill="#bfe47a"/><rect x="169.63" y="372.70" width="16.48" height="1.26" fill="#b6e075"/><rect x="186.05" y="372.70" width="16.48" height="1.26" fill="#c0e47b"/><rect x="202.48" y="372.70" width="19.48" height="1.26" fill="#9ad469"/><rect x="18.80" y="373.90" width="19.48" height="1.56" fill="#d9ef8b"/><rect x="38.23" y="373.90" width="16.48" height="1.56" fill="#c0e47b"/><rect x="54.65" y="373.90" width="16.48" height="1.56" fill="#dcf08f"/><rect x="71.08" y="373.90" width="16.48" height="1.56" fill="#ffffbf"/><rect x="87.50" y="373.90" width="16.48" height="1.56" fill="#fffebd"/><rect x="103.92" y="373.90" width="16.48" height="1.56" fill="#fff4ac"/><rect x="120.35" y="373.90" width="16.48" height="1.56" fill="#fffcbb"/><rect x="136.78" y="373.90" width="16.48" height="1.56" fill="#fafdb9"/><rect x="153.20" y="373.90" width="16.48" height="1.56" fill="#f9fdb7"/><rect x="169.63" y="373.90" width="16.48" height="1.56" fill="#b1de71"/><rect x="186.05" y="373.90" width="16.48" height="1.56" fill="#abdb6d"/><rect x="202.48" y="373.90" width="19.48" height="1.56" fill="#99d369"/><rect x="18.80" y="375.40" width="19.48" height="1.56" fill="#fdb668"/><rect x="38.23" y="375.40" width="16.48" height="1.56" fill="#fdc171"/><rect x="54.65" y="375.40" width="16.48" height="1.56" fill="#fdae61"/><rect x="71.08" y="375.40" width="16.48" height="1.56" fill="#e8f5a0"/><rect x="87.50" y="375.40" width="16.48" height="1.56" fill="#fffebe"/><rect x="103.92" y="375.40" width="16.48" height="1.56" fill="#fffebe"/><rect x="120.35" y="375.40" width="16.48" height="1.56" fill="#e6f49c"/><rect x="136.78" y="375.40" width="16.48" height="1.56" fill="#d9ef8b"/><rect x="153.20" y="375.40" width="16.48" height="1.56" fill="#ccea83"/><rect x="169.63" y="375.40" width="16.48" height="1.56" fill="#eff8aa"/><rect x="186.05" y="375.40" width="16.48" height="1.56" fill="#e0f295"/><rect x="202.48" y="375.40" width="19.48" height="1.56" fill="#e3f399"/><rect x="18.80" y="376.90" width="19.48" height="1.56" fill="#f6fbb3"/><rect x="38.23" y="376.90" width="16.48" height="1.56" fill="#bde379"/><rect x="54.65" y="376.90" width="16.48" height="1.56" fill="#dcf090"/><rect x="71.08" y="376.90" width="16.48" height="1.56" fill="#fed581"/><rect x="87.50" y="376.90" width="16.48" height="1.56" fill="#fecc7b"/><rect x="103.92" y="376.90" width="16.48" height="1.56" fill="#fecf7c"/><rect x="120.35" y="376.90" width="16.48" height="1.56" fill="#e7f59e"/><rect x="136.78" y="376.90" width="16.48" height="1.56" fill="#ddf190"/><rect x="153.20" y="376.90" width="16.48" height="1.56" fill="#cfeb85"/><rect x="169.63" y="376.90" width="16.48" height="1.56" fill="#e6f49c"/><rect x="186.05" y="376.90" width="16.48" height="1.56" fill="#cbe982"/><rect x="202.48" y="376.90" width="19.48" height="1.56" fill="#ceea84"/><rect x="18.80" y="378.40" width="19.48" height="1.36" fill="#e1f296"/><rect x="38.23" y="378.40" width="16.48" height="1.36" fill="#d1eb86"/><rect x="54.65" y="378.40" width="16.48" height="1.36" fill="#cdea83"/><rect x="71.08" y="378.40" width="16.48" height="1.36" fill="#fff7b1"/><rect x="87.50" y="378.40" width="16.48" height="1.36" fill="#fee38f"/><rect x="103.92" y="378.40" width="16.48" height="1.36" fill="#feeea2"/><rect x="120.35" y="378.40" width="16.48" height="1.36" fill="#ceea84"/><rect x="136.78" y="378.40" width="16.48" height="1.36" fill="#d2ec86"/><rect x="153.20" y="378.40" width="16.48" height="1.36" fill="#c2e57c"/><rect x="169.63" y="378.40" width="16.48" height="1.36" fill="#fffdbb"/><rect x="186.05" y="378.40" width="16.48" height="1.36" fill="#fafdb8"/><rect x="202.48" y="378.40" width="19.48" height="1.36" fill="#fffbb8"/><rect x="18.80" y="379.70" width="19.48" height="1.56" fill="#fa9656"/><rect x="38.23" y="379.70" width="16.48" height="1.56" fill="#f46e43"/><rect x="54.65" y="379.70" width="16.48" height="1.56" fill="#fdaf62"/><rect x="71.08" y="379.70" width="16.48" height="1.56" fill="#fff4ac"/><rect x="87.50" y="379.70" width="16.48" height="1.56" fill="#fff3ab"/><rect x="103.92" y="379.70" width="16.48" height="1.56" fill="#f5fbb2"/><rect x="120.35" y="379.70" width="16.48" height="1.56" fill="#dff294"/><rect x="136.78" y="379.70" width="16.48" height="1.56" fill="#f9fcb7"/><rect x="153.20" y="379.70" width="16.48" height="1.56" fill="#ceea84"/><rect x="169.63" y="379.70" width="16.48" height="1.56" fill="#fdc676"/><rect x="186.05" y="379.70" width="16.48" height="1.56" fill="#fee594"/><rect x="202.48" y="379.70" width="19.48" height="1.56" fill="#fed784"/><rect x="18.80" y="381.20" width="19.48" height="1.06" fill="#fb9f5a"/><rect x="38.23" y="381.20" width="16.48" height="1.06" fill="#fdb667"/><rect x="54.65" y="381.20" width="16.48" height="1.06" fill="#fdb062"/><rect x="71.08" y="381.20" width="16.48" height="1.06" fill="#fdb567"/><rect x="87.50" y="381.20" width="16.48" height="1.06" fill="#fdbb6c"/><rect x="103.92" y="381.20" width="16.48" height="1.06" fill="#f99154"/><rect x="120.35" y="381.20" width="16.48" height="1.06" fill="#feec9f"/><rect x="136.78" y="381.20" width="16.48" height="1.06" fill="#feeea3"/><rect x="153.20" y="381.20" width="16.48" height="1.06" fill="#fff5ae"/><rect x="169.63" y="381.20" width="16.48" height="1.06" fill="#e6f59d"/><rect x="186.05" y="381.20" width="16.48" height="1.06" fill="#ebf6a3"/><rect x="202.48" y="381.20" width="19.48" height="1.06" fill="#eef8a7"/><rect x="18.80" y="382.20" width="19.48" height="1.56" fill="#d2ec86"/><rect x="38.23" y="382.20" width="16.48" height="1.56" fill="#99d369"/><rect x="54.65" y="382.20" width="16.48" height="1.56" fill="#cce983"/><rect x="71.08" y="382.20" width="16.48" height="1.56" fill="#dff193"/><rect x="87.50" y="382.20" width="16.48" height="1.56" fill="#ecf7a5"/><rect x="103.92" y="382.20" width="16.48" height="1.56" fill="#cae881"/><rect x="120.35" y="382.20" width="16.48" height="1.56" fill="#fdfebc"/><rect x="136.78" y="382.20" width="16.48" height="1.56" fill="#fcfebb"/><rect x="153.20" y="382.20" width="16.48" height="1.56" fill="#fafdb8"/><rect x="169.63" y="382.20" width="16.48" height="1.56" fill="#e6f49d"/><rect x="186.05" y="382.20" width="16.48" height="1.56" fill="#e3f398"/><rect x="202.48" y="382.20" width="19.48" height="1.56" fill="#bae277"/><rect x="18.80" y="383.70" width="19.48" height="1.06" fill="#fed682"/><rect x="38.23" y="383.70" width="16.48" height="1.06" fill="#fee08c"/><rect x="54.65" y="383.70" width="16.48" height="1.06" fill="#fec977"/><rect x="71.08" y="383.70" width="16.48" height="1.06" fill="#c4e67e"/><rect x="87.50" y="383.70" width="16.48" height="1.06" fill="#c5e67e"/><rect x="103.92" y="383.70" width="16.48" height="1.06" fill="#d2ec86"/><rect x="120.35" y="383.70" width="16.48" height="1.06" fill="#e0f294"/><rect x="136.78" y="383.70" width="16.48" height="1.06" fill="#ddf191"/><rect x="153.20" y="383.70" width="16.48" height="1.06" fill="#ecf7a5"/><rect x="169.63" y="383.70" width="16.48" height="1.06" fill="#fedb87"/><rect x="186.05" y="383.70" width="16.48" height="1.06" fill="#fff0a6"/><rect x="202.48" y="383.70" width="19.48" height="1.06" fill="#fee99a"/><rect x="18.80" y="384.70" width="19.48" height="1.06" fill="#fee08c"/><rect x="38.23" y="384.70" width="16.48" height="1.06" fill="#fed683"/><rect x="54.65" y="384.70" width="16.48" height="1.06" fill="#feeb9d"/><rect x="71.08" y="384.70" width="16.48" height="1.06" fill="#fdfebc"/><rect x="87.50" y="384.70" width="16.48" height="1.06" fill="#f9fdb7"/><rect x="103.92" y="384.70" width="16.48" height="1.06" fill="#fffab7"/><rect x="120.35" y="384.70" width="16.48" height="1.06" fill="#e9f6a1"/><rect x="136.78" y="384.70" width="16.48" height="1.06" fill="#d6ee89"/><rect x="153.20" y="384.70" width="16.48" height="1.06" fill="#dcf08f"/><rect x="169.63" y="384.70" width="16.48" height="1.06" fill="#fdfebc"/><rect x="186.05" y="384.70" width="16.48" height="1.06" fill="#fff9b5"/><rect x="202.48" y="384.70" width="19.48" height="1.06" fill="#f8fcb5"/><rect x="18.80" y="385.70" width="19.48" height="1.36" fill="#a4d86a"/><rect x="38.23" y="385.70" width="16.48" height="1.36" fill="#cdea83"/><rect x="54.65" y="385.70" width="16.48" height="1.36" fill="#d3ec87"/><rect x="71.08" y="385.70" width="16.48" height="1.36" fill="#fcfeba"/><rect x="87.50" y="385.70" width="16.48" height="1.36" fill="#fffab7"/><rect x="103.92" y="385.70" width="16.48" height="1.36" fill="#ffffbf"/><rect x="120.35" y="385.70" width="16.48" height="1.36" fill="#c3e57c"/><rect x="136.78" y="385.70" width="16.48" height="1.36" fill="#d8ef8a"/><rect x="153.20" y="385.70" width="16.48" height="1.36" fill="#dff193"/><rect x="169.63" y="385.70" width="16.48" height="1.36" fill="#d8ef8a"/><rect x="186.05" y="385.70" width="16.48" height="1.36" fill="#c4e67d"/><rect x="202.48" y="385.70" width="19.48" height="1.36" fill="#d8ef8a"/><rect x="18.80" y="387.00" width="19.48" height="1.86" fill="#fca65d"/><rect x="38.23" y="387.00" width="16.48" height="1.86" fill="#f7804c"/><rect x="54.65" y="387.00" width="16.48" height="1.86" fill="#f67948"/><rect x="71.08" y="387.00" width="16.48" height="1.86" fill="#feea9c"/><rect x="87.50" y="387.00" width="16.48" height="1.86" fill="#feec9e"/><rect x="103.92" y="387.00" width="16.48" height="1.86" fill="#fedf8a"/><rect x="120.35" y="387.00" width="16.48" height="1.86" fill="#fffbb9"/><rect x="136.78" y="387.00" width="16.48" height="1.86" fill="#ffffbe"/><rect x="153.20" y="387.00" width="16.48" height="1.86" fill="#ffffbe"/><rect x="169.63" y="387.00" width="16.48" height="1.86" fill="#d6ee89"/><rect x="186.05" y="387.00" width="16.48" height="1.86" fill="#f2f9ad"/><rect x="202.48" y="387.00" width="19.48" height="1.86" fill="#f4faaf"/><rect x="18.80" y="388.80" width="19.48" height="1.06" fill="#d9ef8b"/><rect x="38.23" y="388.80" width="16.48" height="1.06" fill="#d0eb85"/><rect x="54.65" y="388.80" width="16.48" height="1.06" fill="#bce378"/><rect x="71.08" y="388.80" width="16.48" height="1.06" fill="#f5fbb1"/><rect x="87.50" y="388.80" width="16.48" height="1.06" fill="#ecf7a4"/><rect x="103.92" y="388.80" width="16.48" height="1.06" fill="#e3f399"/><rect x="120.35" y="388.80" width="16.48" height="1.06" fill="#fee08b"/><rect x="136.78" y="388.80" width="16.48" height="1.06" fill="#feea9c"/><rect x="153.20" y="388.80" width="16.48" height="1.06" fill="#fff2a9"/><rect x="169.63" y="388.80" width="16.48" height="1.06" fill="#fffbb9"/><rect x="186.05" y="388.80" width="16.48" height="1.06" fill="#fffbb8"/><rect x="202.48" y="388.80" width="19.48" height="1.06" fill="#fff4ad"/><rect x="18.80" y="389.80" width="19.48" height="0.86" fill="#f7854e"/><rect x="38.23" y="389.80" width="16.48" height="0.86" fill="#fdb063"/><rect x="54.65" y="389.80" width="16.48" height="0.86" fill="#f98e52"/><rect x="71.08" y="389.80" width="16.48" height="0.86" fill="#fffab7"/><rect x="87.50" y="389.80" width="16.48" height="0.86" fill="#e9f6a0"/><rect x="103.92" y="389.80" width="16.48" height="0.86" fill="#fffdbb"/><rect x="120.35" y="389.80" width="16.48" height="0.86" fill="#fdbf6f"/><rect x="136.78" y="389.80" width="16.48" height="0.86" fill="#fdbd6d"/><rect x="153.20" y="389.80" width="16.48" height="0.86" fill="#fca45c"/><rect x="169.63" y="389.80" width="16.48" height="0.86" fill="#fee898"/><rect x="186.05" y="389.80" width="16.48" height="0.86" fill="#fff7b2"/><rect x="202.48" y="389.80" width="19.48" height="0.86" fill="#fff5ae"/><rect x="18.80" y="390.60" width="19.48" height="1.56" fill="#fedb86"/><rect x="38.23" y="390.60" width="16.48" height="1.56" fill="#fede8a"/><rect x="54.65" y="390.60" width="16.48" height="1.56" fill="#fed07e"/><rect x="71.08" y="390.60" width="16.48" height="1.56" fill="#eef8a7"/><rect x="87.50" y="390.60" width="16.48" height="1.56" fill="#fff4ac"/><rect x="103.92" y="390.60" width="16.48" height="1.56" fill="#f3faae"/><rect x="120.35" y="390.60" width="16.48" height="1.56" fill="#b0dd70"/><rect x="136.78" y="390.60" width="16.48" height="1.56" fill="#9bd469"/><rect x="153.20" y="390.60" width="16.48" height="1.56" fill="#cdea83"/><rect x="169.63" y="390.60" width="16.48" height="1.56" fill="#ceea84"/><rect x="186.05" y="390.60" width="16.48" height="1.56" fill="#d4ed88"/><rect x="202.48" y="390.60" width="19.48" height="1.56" fill="#e9f6a1"/><rect x="18.80" y="392.10" width="19.48" height="1.86" fill="#fece7c"/><rect x="38.23" y="392.10" width="16.48" height="1.86" fill="#fee492"/><rect x="54.65" y="392.10" width="16.48" height="1.86" fill="#fff1a8"/><rect x="71.08" y="392.10" width="16.48" height="1.86" fill="#a7d96b"/><rect x="87.50" y="392.10" width="16.48" height="1.86" fill="#b6e074"/><rect x="103.92" y="392.10" width="16.48" height="1.86" fill="#b5df74"/><rect x="120.35" y="392.10" width="16.48" height="1.86" fill="#e5f49b"/><rect x="136.78" y="392.10" width="16.48" height="1.86" fill="#fffbb8"/><rect x="153.20" y="392.10" width="16.48" height="1.86" fill="#e5f49b"/><rect x="169.63" y="392.10" width="16.48" height="1.86" fill="#dbf08e"/><rect x="186.05" y="392.10" width="16.48" height="1.86" fill="#e0f294"/><rect x="202.48" y="392.10" width="19.48" height="1.86" fill="#d8ef8a"/><rect x="18.80" y="393.90" width="19.48" height="1.26" fill="#f16841"/><rect x="38.23" y="393.90" width="16.48" height="1.26" fill="#fca95f"/><rect x="54.65" y="393.90" width="16.48" height="1.26" fill="#fdae61"/><rect x="71.08" y="393.90" width="16.48" height="1.26" fill="#fba05a"/><rect x="87.50" y="393.90" width="16.48" height="1.26" fill="#fba05b"/><rect x="103.92" y="393.90" width="16.48" height="1.26" fill="#f99053"/><rect x="120.35" y="393.90" width="16.48" height="1.26" fill="#fdaf62"/><rect x="136.78" y="393.90" width="16.48" height="1.26" fill="#fdba6b"/><rect x="153.20" y="393.90" width="16.48" height="1.26" fill="#fdb264"/><rect x="169.63" y="393.90" width="16.48" height="1.26" fill="#fff1a7"/><rect x="186.05" y="393.90" width="16.48" height="1.26" fill="#fee798"/><rect x="202.48" y="393.90" width="19.48" height="1.26" fill="#fecb79"/><rect x="18.80" y="395.10" width="19.48" height="1.36" fill="#f99354"/><rect x="38.23" y="395.10" width="16.48" height="1.36" fill="#fdc070"/><rect x="54.65" y="395.10" width="16.48" height="1.36" fill="#fdb164"/><rect x="71.08" y="395.10" width="16.48" height="1.36" fill="#dcf08f"/><rect x="87.50" y="395.10" width="16.48" height="1.36" fill="#eff8aa"/><rect x="103.92" y="395.10" width="16.48" height="1.36" fill="#d6ee89"/><rect x="120.35" y="395.10" width="16.48" height="1.36" fill="#e0f294"/><rect x="136.78" y="395.10" width="16.48" height="1.36" fill="#cce983"/><rect x="153.20" y="395.10" width="16.48" height="1.36" fill="#ceea84"/><rect x="169.63" y="395.10" width="16.48" height="1.36" fill="#fcaa5f"/><rect x="186.05" y="395.10" width="16.48" height="1.36" fill="#f98e52"/><rect x="202.48" y="395.10" width="19.48" height="1.36" fill="#f88d52"/><rect x="18.80" y="396.40" width="19.48" height="1.26" fill="#f98e52"/><rect x="38.23" y="396.40" width="16.48" height="1.26" fill="#fec876"/><rect x="54.65" y="396.40" width="16.48" height="1.26" fill="#fdb264"/><rect x="71.08" y="396.40" width="16.48" height="1.26" fill="#ffffbe"/><rect x="87.50" y="396.40" width="16.48" height="1.26" fill="#fff0a6"/><rect x="103.92" y="396.40" width="16.48" height="1.26" fill="#fff6b0"/><rect x="120.35" y="396.40" width="16.48" height="1.26" fill="#fdb062"/><rect x="136.78" y="396.40" width="16.48" height="1.26" fill="#fa9957"/><rect x="153.20" y="396.40" width="16.48" height="1.26" fill="#fca85e"/><rect x="169.63" y="396.40" width="16.48" height="1.26" fill="#ffffbe"/><rect x="186.05" y="396.40" width="16.48" height="1.26" fill="#edf8a7"/><rect x="202.48" y="396.40" width="19.48" height="1.26" fill="#fff2aa"/><rect x="18.80" y="397.60" width="19.48" height="1.06" fill="#fed683"/><rect x="38.23" y="397.60" width="16.48" height="1.06" fill="#fca35c"/><rect x="54.65" y="397.60" width="16.48" height="1.06" fill="#fb9d59"/><rect x="71.08" y="397.60" width="16.48" height="1.06" fill="#f4fab0"/><rect x="87.50" y="397.60" width="16.48" height="1.06" fill="#ecf7a5"/><rect x="103.92" y="397.60" width="16.48" height="1.06" fill="#f8fcb5"/><rect x="120.35" y="397.60" width="16.48" height="1.06" fill="#b9e176"/><rect x="136.78" y="397.60" width="16.48" height="1.06" fill="#d4ed88"/><rect x="153.20" y="397.60" width="16.48" height="1.06" fill="#c6e77f"/><rect x="169.63" y="397.60" width="16.48" height="1.06" fill="#f2faae"/><rect x="186.05" y="397.60" width="16.48" height="1.06" fill="#dcf08f"/><rect x="202.48" y="397.60" width="19.48" height="1.06" fill="#e2f397"/><rect x="18.80" y="398.60" width="19.48" height="0.96" fill="#fdad60"/><rect x="38.23" y="398.60" width="16.48" height="0.96" fill="#f67948"/><rect x="54.65" y="398.60" width="16.48" height="0.96" fill="#fdb063"/><rect x="71.08" y="398.60" width="16.48" height="0.96" fill="#fbfdba"/><rect x="87.50" y="398.60" width="16.48" height="0.96" fill="#ffffbf"/><rect x="103.92" y="398.60" width="16.48" height="0.96" fill="#f2f9ad"/><rect x="120.35" y="398.60" width="16.48" height="0.96" fill="#def192"/><rect x="136.78" y="398.60" width="16.48" height="0.96" fill="#d5ed88"/><rect x="153.20" y="398.60" width="16.48" height="0.96" fill="#d2ec87"/><rect x="169.63" y="398.60" width="16.48" height="0.96" fill="#eaf6a3"/><rect x="186.05" y="398.60" width="16.48" height="0.96" fill="#feea9b"/><rect x="202.48" y="398.60" width="19.48" height="0.96" fill="#fafdb8"/><rect x="18.80" y="399.50" width="19.48" height="1.86" fill="#fee18c"/><rect x="38.23" y="399.50" width="16.48" height="1.86" fill="#feefa5"/><rect x="54.65" y="399.50" width="16.48" height="1.86" fill="#fed481"/><rect x="71.08" y="399.50" width="16.48" height="1.86" fill="#e4f49b"/><rect x="87.50" y="399.50" width="16.48" height="1.86" fill="#eef8a7"/><rect x="103.92" y="399.50" width="16.48" height="1.86" fill="#eff8a9"/><rect x="120.35" y="399.50" width="16.48" height="1.86" fill="#e5f49c"/><rect x="136.78" y="399.50" width="16.48" height="1.86" fill="#e9f6a1"/><rect x="153.20" y="399.50" width="16.48" height="1.86" fill="#f2faae"/><rect x="169.63" y="399.50" width="16.48" height="1.86" fill="#fee28e"/><rect x="186.05" y="399.50" width="16.48" height="1.86" fill="#fed27f"/><rect x="202.48" y="399.50" width="19.48" height="1.86" fill="#fff7b2"/><rect x="18.80" y="401.30" width="19.48" height="1.56" fill="#ebf7a4"/><rect x="38.23" y="401.30" width="16.48" height="1.56" fill="#e7f59e"/><rect x="54.65" y="401.30" width="16.48" height="1.56" fill="#e7f59e"/><rect x="71.08" y="401.30" width="16.48" height="1.56" fill="#fa9857"/><rect x="87.50" y="401.30" width="16.48" height="1.56" fill="#f98f53"/><rect x="103.92" y="401.30" width="16.48" height="1.56" fill="#f67949"/><rect x="120.35" y="401.30" width="16.48" height="1.56" fill="#cdea83"/><rect x="136.78" y="401.30" width="16.48" height="1.56" fill="#c5e67e"/><rect x="153.20" y="401.30" width="16.48" height="1.56" fill="#ecf7a5"/><rect x="169.63" y="401.30" width="16.48" height="1.56" fill="#cce982"/><rect x="186.05" y="401.30" width="16.48" height="1.56" fill="#f8fcb5"/><rect x="202.48" y="401.30" width="19.48" height="1.56" fill="#e0f294"/><rect x="18.80" y="402.80" width="19.48" height="1.26" fill="#bae277"/><rect x="38.23" y="402.80" width="16.48" height="1.26" fill="#addc6f"/><rect x="54.65" y="402.80" width="16.48" height="1.26" fill="#eff8a9"/><rect x="71.08" y="402.80" width="16.48" height="1.26" fill="#fed280"/><rect x="87.50" y="402.80" width="16.48" height="1.26" fill="#fedc88"/><rect x="103.92" y="402.80" width="16.48" height="1.26" fill="#fee28e"/><rect x="120.35" y="402.80" width="16.48" height="1.26" fill="#fff2aa"/><rect x="136.78" y="402.80" width="16.48" height="1.26" fill="#fff4ac"/><rect x="153.20" y="402.80" width="16.48" height="1.26" fill="#fff9b5"/><rect x="169.63" y="402.80" width="16.48" height="1.26" fill="#d6ed89"/><rect x="186.05" y="402.80" width="16.48" height="1.26" fill="#cdea83"/><rect x="202.48" y="402.80" width="19.48" height="1.26" fill="#d6ee89"/><rect x="18.80" y="404.00" width="19.48" height="0.86" fill="#f7824d"/><rect x="38.23" y="404.00" width="16.48" height="0.86" fill="#fa9756"/><rect x="54.65" y="404.00" width="16.48" height="0.86" fill="#f57547"/><rect x="71.08" y="404.00" width="16.48" height="0.86" fill="#ceea84"/><rect x="87.50" y="404.00" width="16.48" height="0.86" fill="#d4ed88"/><rect x="103.92" y="404.00" width="16.48" height="0.86" fill="#b5e074"/><rect x="120.35" y="404.00" width="16.48" height="0.86" fill="#f88950"/><rect x="136.78" y="404.00" width="16.48" height="0.86" fill="#f7834d"/><rect x="153.20" y="404.00" width="16.48" height="0.86" fill="#ea5739"/><rect x="169.63" y="404.00" width="16.48" height="0.86" fill="#e2f397"/><rect x="186.05" y="404.00" width="16.48" height="0.86" fill="#dbf08e"/><rect x="202.48" y="404.00" width="19.48" height="0.86" fill="#daef8c"/><rect x="18.80" y="404.80" width="19.48" height="1.36" fill="#fdc171"/><rect x="38.23" y="404.80" width="16.48" height="1.36" fill="#fed682"/><rect x="54.65" y="404.80" width="16.48" height="1.36" fill="#f98f53"/><rect x="71.08" y="404.80" width="16.48" height="1.36" fill="#fff0a5"/><rect x="87.50" y="404.80" width="16.48" height="1.36" fill="#fffcba"/><rect x="103.92" y="404.80" width="16.48" height="1.36" fill="#fffab6"/><rect x="120.35" y="404.80" width="16.48" height="1.36" fill="#a4d86a"/><rect x="136.78" y="404.80" width="16.48" height="1.36" fill="#acdb6e"/><rect x="153.20" y="404.80" width="16.48" height="1.36" fill="#87cb67"/><rect x="169.63" y="404.80" width="16.48" height="1.36" fill="#fffebd"/><rect x="186.05" y="404.80" width="16.48" height="1.36" fill="#fffdbc"/><rect x="202.48" y="404.80" width="19.48" height="1.36" fill="#f1f9ab"/><rect x="18.80" y="406.10" width="19.48" height="1.06" fill="#f26941"/><rect x="38.23" y="406.10" width="16.48" height="1.06" fill="#f36c42"/><rect x="54.65" y="406.10" width="16.48" height="1.06" fill="#ef633e"/><rect x="71.08" y="406.10" width="16.48" height="1.06" fill="#f5fbb1"/><rect x="87.50" y="406.10" width="16.48" height="1.06" fill="#f9fcb6"/><rect x="103.92" y="406.10" width="16.48" height="1.06" fill="#fffab7"/><rect x="120.35" y="406.10" width="16.48" height="1.06" fill="#e0f294"/><rect x="136.78" y="406.10" width="16.48" height="1.06" fill="#a6d96a"/><rect x="153.20" y="406.10" width="16.48" height="1.06" fill="#daef8c"/><rect x="169.63" y="406.10" width="16.48" height="1.06" fill="#e8f5a0"/><rect x="186.05" y="406.10" width="16.48" height="1.06" fill="#c6e77f"/><rect x="202.48" y="406.10" width="19.48" height="1.06" fill="#d8ef8a"/><rect x="18.80" y="407.10" width="19.48" height="1.26" fill="#fa9555"/><rect x="38.23" y="407.10" width="16.48" height="1.26" fill="#fdb063"/><rect x="54.65" y="407.10" width="16.48" height="1.26" fill="#fca85e"/><rect x="71.08" y="407.10" width="16.48" height="1.26" fill="#fffbb9"/><rect x="87.50" y="407.10" width="16.48" height="1.26" fill="#fffab7"/><rect x="103.92" y="407.10" width="16.48" height="1.26" fill="#feffbe"/><rect x="120.35" y="407.10" width="16.48" height="1.26" fill="#bbe277"/><rect x="136.78" y="407.10" width="16.48" height="1.26" fill="#bde379"/><rect x="153.20" y="407.10" width="16.48" height="1.26" fill="#c8e780"/><rect x="169.63" y="407.10" width="16.48" height="1.26" fill="#b8e176"/><rect x="186.05" y="407.10" width="16.48" height="1.26" fill="#b5df74"/><rect x="202.48" y="407.10" width="19.48" height="1.26" fill="#92d068"/><rect x="18.80" y="408.30" width="19.48" height="1.06" fill="#fdc574"/><rect x="38.23" y="408.30" width="16.48" height="1.06" fill="#fb9c59"/><rect x="54.65" y="408.30" width="16.48" height="1.06" fill="#f36b42"/><rect x="71.08" y="408.30" width="16.48" height="1.06" fill="#f1f9ab"/><rect x="87.50" y="408.30" width="16.48" height="1.06" fill="#e4f49a"/><rect x="103.92" y="408.30" width="16.48" height="1.06" fill="#e0f295"/><rect x="120.35" y="408.30" width="16.48" height="1.06" fill="#d6ee89"/><rect x="136.78" y="408.30" width="16.48" height="1.06" fill="#cdea83"/><rect x="153.20" y="408.30" width="16.48" height="1.06" fill="#cfeb85"/><rect x="169.63" y="408.30" width="16.48" height="1.06" fill="#addc6e"/><rect x="186.05" y="408.30" width="16.48" height="1.06" fill="#d4ed87"/><rect x="202.48" y="408.30" width="19.48" height="1.06" fill="#bfe47a"/><rect x="18.80" y="409.30" width="19.48" height="0.86" fill="#f67b49"/><rect x="38.23" y="409.30" width="16.48" height="0.86" fill="#f8884f"/><rect x="54.65" y="409.30" width="16.48" height="0.86" fill="#f8874f"/><rect x="71.08" y="409.30" width="16.48" height="0.86" fill="#fecd7b"/><rect x="87.50" y="409.30" width="16.48" height="0.86" fill="#fed07e"/><rect x="103.92" y="409.30" width="16.48" height="0.86" fill="#fff0a5"/><rect x="120.35" y="409.30" width="16.48" height="0.86" fill="#e3f399"/><rect x="136.78" y="409.30" width="16.48" height="0.86" fill="#eaf6a2"/><rect x="153.20" y="409.30" width="16.48" height="0.86" fill="#e3f398"/><rect x="169.63" y="409.30" width="16.48" height="0.86" fill="#d1ec86"/><rect x="186.05" y="409.30" width="16.48" height="0.86" fill="#e8f5a0"/><rect x="202.48" y="409.30" width="19.48" height="0.86" fill="#e9f6a1"/><rect x="18.80" y="410.10" width="19.48" height="0.96" fill="#fca55d"/><rect x="38.23" y="410.10" width="16.48" height="0.96" fill="#fca95f"/><rect x="54.65" y="410.10" width="16.48" height="0.96" fill="#fca75e"/><rect x="71.08" y="410.10" width="16.48" height="0.96" fill="#fffdbb"/><rect x="87.50" y="410.10" width="16.48" height="0.96" fill="#fffab6"/><rect x="103.92" y="410.10" width="16.48" height="0.96" fill="#fff8b4"/><rect x="120.35" y="410.10" width="16.48" height="0.96" fill="#c3e67d"/><rect x="136.78" y="410.10" width="16.48" height="0.96" fill="#d8ef8b"/><rect x="153.20" y="410.10" width="16.48" height="0.96" fill="#eef8a8"/><rect x="169.63" y="410.10" width="16.48" height="0.96" fill="#fffcbb"/><rect x="186.05" y="410.10" width="16.48" height="0.96" fill="#fdfebc"/><rect x="202.48" y="410.10" width="19.48" height="0.96" fill="#fdfebc"/><rect x="18.80" y="411.00" width="19.48" height="1.26" fill="#fba05a"/><rect x="38.23" y="411.00" width="16.48" height="1.26" fill="#feca78"/><rect x="54.65" y="411.00" width="16.48" height="1.26" fill="#fdab60"/><rect x="71.08" y="411.00" width="16.48" height="1.26" fill="#e1f396"/><rect x="87.50" y="411.00" width="16.48" height="1.26" fill="#b5df74"/><rect x="103.92" y="411.00" width="16.48" height="1.26" fill="#ebf7a4"/><rect x="120.35" y="411.00" width="16.48" height="1.26" fill="#d7ee8a"/><rect x="136.78" y="411.00" width="16.48" height="1.26" fill="#cae981"/><rect x="153.20" y="411.00" width="16.48" height="1.26" fill="#daf08d"/><rect x="169.63" y="411.00" width="16.48" height="1.26" fill="#fdbe6e"/><rect x="186.05" y="411.00" width="16.48" height="1.26" fill="#fdc776"/><rect x="202.48" y="411.00" width="19.48" height="1.26" fill="#fdae61"/><rect x="18.80" y="412.20" width="19.48" height="1.36" fill="#fdfebd"/><rect x="38.23" y="412.20" width="16.48" height="1.36" fill="#feeb9e"/><rect x="54.65" y="412.20" width="16.48" height="1.36" fill="#feda86"/><rect x="71.08" y="412.20" width="16.48" height="1.36" fill="#e0f295"/><rect x="87.50" y="412.20" width="16.48" height="1.36" fill="#e0f295"/><rect x="103.92" y="412.20" width="16.48" height="1.36" fill="#e4f49a"/><rect x="120.35" y="412.20" width="16.48" height="1.36" fill="#e3f398"/><rect x="136.78" y="412.20" width="16.48" height="1.36" fill="#e2f397"/><rect x="153.20" y="412.20" width="16.48" height="1.36" fill="#e9f6a2"/><rect x="169.63" y="412.20" width="16.48" height="1.36" fill="#d5ed88"/><rect x="186.05" y="412.20" width="16.48" height="1.36" fill="#c7e780"/><rect x="202.48" y="412.20" width="19.48" height="1.36" fill="#c2e57c"/><rect x="18.80" y="413.50" width="19.48" height="1.56" fill="#ccea83"/><rect x="38.23" y="413.50" width="16.48" height="1.56" fill="#a2d76a"/><rect x="54.65" y="413.50" width="16.48" height="1.56" fill="#cae881"/><rect x="71.08" y="413.50" width="16.48" height="1.56" fill="#f9fdb7"/><rect x="87.50" y="413.50" width="16.48" height="1.56" fill="#fff4ad"/><rect x="103.92" y="413.50" width="16.48" height="1.56" fill="#fff5af"/><rect x="120.35" y="413.50" width="16.48" height="1.56" fill="#dff193"/><rect x="136.78" y="413.50" width="16.48" height="1.56" fill="#f1f9ac"/><rect x="153.20" y="413.50" width="16.48" height="1.56" fill="#f2faad"/><rect x="169.63" y="413.50" width="16.48" height="1.56" fill="#cdea83"/><rect x="186.05" y="413.50" width="16.48" height="1.56" fill="#e2f397"/><rect x="202.48" y="413.50" width="19.48" height="1.56" fill="#d2ec86"/><rect x="18.80" y="415.00" width="19.48" height="1.26" fill="#f57547"/><rect x="38.23" y="415.00" width="16.48" height="1.26" fill="#fb9d59"/><rect x="54.65" y="415.00" width="16.48" height="1.26" fill="#f57547"/><rect x="71.08" y="415.00" width="16.48" height="1.26" fill="#f4fab0"/><rect x="87.50" y="415.00" width="16.48" height="1.26" fill="#fff2aa"/><rect x="103.92" y="415.00" width="16.48" height="1.26" fill="#fcfeba"/><rect x="120.35" y="415.00" width="16.48" height="1.26" fill="#f1f9ac"/><rect x="136.78" y="415.00" width="16.48" height="1.26" fill="#dcf08f"/><rect x="153.20" y="415.00" width="16.48" height="1.26" fill="#e1f296"/><rect x="169.63" y="415.00" width="16.48" height="1.26" fill="#fff2aa"/><rect x="186.05" y="415.00" width="16.48" height="1.26" fill="#e5f49c"/><rect x="202.48" y="415.00" width="19.48" height="1.26" fill="#ffffbf"/><rect x="18.80" y="416.20" width="19.48" height="1.06" fill="#feefa3"/><rect x="38.23" y="416.20" width="16.48" height="1.06" fill="#fff9b6"/><rect x="54.65" y="416.20" width="16.48" height="1.06" fill="#fff7b1"/><rect x="71.08" y="416.20" width="16.48" height="1.06" fill="#cae982"/><rect x="87.50" y="416.20" width="16.48" height="1.06" fill="#d2ec87"/><rect x="103.92" y="416.20" width="16.48" height="1.06" fill="#ddf190"/><rect x="120.35" y="416.20" width="16.48" height="1.06" fill="#d2ec87"/><rect x="136.78" y="416.20" width="16.48" height="1.06" fill="#d3ed87"/><rect x="153.20" y="416.20" width="16.48" height="1.06" fill="#c1e57c"/><rect x="169.63" y="416.20" width="16.48" height="1.06" fill="#f0f9aa"/><rect x="186.05" y="416.20" width="16.48" height="1.06" fill="#cdea83"/><rect x="202.48" y="416.20" width="19.48" height="1.06" fill="#dbf08e"/><rect x="18.80" y="417.20" width="19.48" height="1.06" fill="#f88a51"/><rect x="38.23" y="417.20" width="16.48" height="1.06" fill="#f8874f"/><rect x="54.65" y="417.20" width="16.48" height="1.06" fill="#f46f44"/><rect x="71.08" y="417.20" width="16.48" height="1.06" fill="#f1f9ac"/><rect x="87.50" y="417.20" width="16.48" height="1.06" fill="#e8f59f"/><rect x="103.92" y="417.20" width="16.48" height="1.06" fill="#fffbb8"/><rect x="120.35" y="417.20" width="16.48" height="1.06" fill="#e4f49a"/><rect x="136.78" y="417.20" width="16.48" height="1.06" fill="#c8e880"/><rect x="153.20" y="417.20" width="16.48" height="1.06" fill="#d7ee89"/><rect x="169.63" y="417.20" width="16.48" height="1.06" fill="#e8f59f"/><rect x="186.05" y="417.20" width="16.48" height="1.06" fill="#c6e77f"/><rect x="202.48" y="417.20" width="19.48" height="1.06" fill="#c9e880"/><rect x="18.80" y="418.20" width="19.48" height="0.96" fill="#fedc87"/><rect x="38.23" y="418.20" width="16.48" height="0.96" fill="#feeea2"/><rect x="54.65" y="418.20" width="16.48" height="0.96" fill="#fecc7a"/><rect x="71.08" y="418.20" width="16.48" height="0.96" fill="#fffdbc"/><rect x="87.50" y="418.20" width="16.48" height="0.96" fill="#feec9f"/><rect x="103.92" y="418.20" width="16.48" height="0.96" fill="#feeda1"/><rect x="120.35" y="418.20" width="16.48" height="0.96" fill="#74c364"/><rect x="136.78" y="418.20" width="16.48" height="0.96" fill="#a7da6b"/><rect x="153.20" y="418.20" width="16.48" height="0.96" fill="#94d168"/><rect x="169.63" y="418.20" width="16.48" height="0.96" fill="#fffbb9"/><rect x="186.05" y="418.20" width="16.48" height="0.96" fill="#ffffbe"/><rect x="202.48" y="418.20" width="19.48" height="0.96" fill="#fffdbc"/><rect x="18.80" y="419.10" width="19.48" height="1.86" fill="#fff0a7"/><rect x="38.23" y="419.10" width="16.48" height="1.86" fill="#fede89"/><rect x="54.65" y="419.10" width="16.48" height="1.86" fill="#fff5ae"/><rect x="71.08" y="419.10" width="16.48" height="1.86" fill="#c2e57c"/><rect x="87.50" y="419.10" width="16.48" height="1.86" fill="#c5e67e"/><rect x="103.92" y="419.10" width="16.48" height="1.86" fill="#8bcd67"/><rect x="120.35" y="419.10" width="16.48" height="1.86" fill="#b5e074"/><rect x="136.78" y="419.10" width="16.48" height="1.86" fill="#cbe982"/><rect x="153.20" y="419.10" width="16.48" height="1.86" fill="#c3e67d"/><rect x="169.63" y="419.10" width="16.48" height="1.86" fill="#e7f59f"/><rect x="186.05" y="419.10" width="16.48" height="1.86" fill="#cfeb84"/><rect x="202.48" y="419.10" width="19.48" height="1.86" fill="#fffdbc"/><rect x="18.80" y="420.90" width="19.48" height="1.06" fill="#58b660"/><rect x="38.23" y="420.90" width="16.48" height="1.06" fill="#abdb6e"/><rect x="54.65" y="420.90" width="16.48" height="1.06" fill="#a6d96a"/><rect x="71.08" y="420.90" width="16.48" height="1.06" fill="#d9ef8b"/><rect x="87.50" y="420.90" width="16.48" height="1.06" fill="#edf7a6"/><rect x="103.92" y="420.90" width="16.48" height="1.06" fill="#cae981"/><rect x="120.35" y="420.90" width="16.48" height="1.06" fill="#d9ef8b"/><rect x="136.78" y="420.90" width="16.48" height="1.06" fill="#e6f49c"/><rect x="153.20" y="420.90" width="16.48" height="1.06" fill="#e3f398"/><rect x="169.63" y="420.90" width="16.48" height="1.06" fill="#ccea83"/><rect x="186.05" y="420.90" width="16.48" height="1.06" fill="#c3e57d"/><rect x="202.48" y="420.90" width="19.48" height="1.06" fill="#f6fbb2"/><rect x="18.80" y="421.90" width="19.48" height="0.96" fill="#fec877"/><rect x="38.23" y="421.90" width="16.48" height="0.96" fill="#fca75e"/><rect x="54.65" y="421.90" width="16.48" height="0.96" fill="#feca78"/><rect x="71.08" y="421.90" width="16.48" height="0.96" fill="#fedd89"/><rect x="87.50" y="421.90" width="16.48" height="0.96" fill="#fee593"/><rect x="103.92" y="421.90" width="16.48" height="0.96" fill="#fed380"/><rect x="120.35" y="421.90" width="16.48" height="0.96" fill="#fffab7"/><rect x="136.78" y="421.90" width="16.48" height="0.96" fill="#feea9b"/><rect x="153.20" y="421.90" width="16.48" height="0.96" fill="#fff1a8"/><rect x="169.63" y="421.90" width="16.48" height="0.96" fill="#dff293"/><rect x="186.05" y="421.90" width="16.48" height="0.96" fill="#eef8a8"/><rect x="202.48" y="421.90" width="19.48" height="0.96" fill="#d8ef8b"/><rect x="18.80" y="422.80" width="19.48" height="0.96" fill="#fffab7"/><rect x="38.23" y="422.80" width="16.48" height="0.96" fill="#fdc373"/><rect x="54.65" y="422.80" width="16.48" height="0.96" fill="#f5fbb2"/><rect x="71.08" y="422.80" width="16.48" height="0.96" fill="#d7ee8a"/><rect x="87.50" y="422.80" width="16.48" height="0.96" fill="#ddf191"/><rect x="103.92" y="422.80" width="16.48" height="0.96" fill="#cfeb84"/><rect x="120.35" y="422.80" width="16.48" height="0.96" fill="#fed783"/><rect x="136.78" y="422.80" width="16.48" height="0.96" fill="#fee18d"/><rect x="153.20" y="422.80" width="16.48" height="0.96" fill="#feda86"/><rect x="169.63" y="422.80" width="16.48" height="0.96" fill="#bbe278"/><rect x="186.05" y="422.80" width="16.48" height="0.96" fill="#acdc6e"/><rect x="202.48" y="422.80" width="19.48" height="0.96" fill="#aadb6d"/><rect x="18.80" y="423.70" width="19.48" height="0.86" fill="#f67d4a"/><rect x="38.23" y="423.70" width="16.48" height="0.86" fill="#fa9555"/><rect x="54.65" y="423.70" width="16.48" height="0.86" fill="#f57546"/><rect x="71.08" y="423.70" width="16.48" height="0.86" fill="#bae177"/><rect x="87.50" y="423.70" width="16.48" height="0.86" fill="#b7e075"/><rect x="103.92" y="423.70" width="16.48" height="0.86" fill="#ceea84"/><rect x="120.35" y="423.70" width="16.48" height="0.86" fill="#a9da6c"/><rect x="136.78" y="423.70" width="16.48" height="0.86" fill="#d4ed88"/><rect x="153.20" y="423.70" width="16.48" height="0.86" fill="#d0eb85"/><rect x="169.63" y="423.70" width="16.48" height="0.86" fill="#c4e67d"/><rect x="186.05" y="423.70" width="16.48" height="0.86" fill="#ccea83"/><rect x="202.48" y="423.70" width="19.48" height="0.86" fill="#c3e67d"/><rect x="18.80" y="424.50" width="19.48" height="0.96" fill="#fca55d"/><rect x="38.23" y="424.50" width="16.48" height="0.96" fill="#f7834d"/><rect x="54.65" y="424.50" width="16.48" height="0.96" fill="#fca75e"/><rect x="71.08" y="424.50" width="16.48" height="0.96" fill="#e8f5a0"/><rect x="87.50" y="424.50" width="16.48" height="0.96" fill="#d7ee8a"/><rect x="103.92" y="424.50" width="16.48" height="0.96" fill="#dbf08d"/><rect x="120.35" y="424.50" width="16.48" height="0.96" fill="#e3f399"/><rect x="136.78" y="424.50" width="16.48" height="0.96" fill="#d5ed88"/><rect x="153.20" y="424.50" width="16.48" height="0.96" fill="#e5f49b"/><rect x="169.63" y="424.50" width="16.48" height="0.96" fill="#acdb6e"/><rect x="186.05" y="424.50" width="16.48" height="0.96" fill="#cbe982"/><rect x="202.48" y="424.50" width="19.48" height="0.96" fill="#cbe982"/><rect x="18.80" y="425.40" width="19.48" height="1.06" fill="#edf7a6"/><rect x="38.23" y="425.40" width="16.48" height="1.06" fill="#d6ee89"/><rect x="54.65" y="425.40" width="16.48" height="1.06" fill="#d9ef8b"/><rect x="71.08" y="425.40" width="16.48" height="1.06" fill="#fffbb8"/><rect x="87.50" y="425.40" width="16.48" height="1.06" fill="#feefa5"/><rect x="103.92" y="425.40" width="16.48" height="1.06" fill="#fffcbb"/><rect x="120.35" y="425.40" width="16.48" height="1.06" fill="#fee18c"/><rect x="136.78" y="425.40" width="16.48" height="1.06" fill="#fdc675"/><rect x="153.20" y="425.40" width="16.48" height="1.06" fill="#fec977"/><rect x="169.63" y="425.40" width="16.48" height="1.06" fill="#fdb768"/><rect x="186.05" y="425.40" width="16.48" height="1.06" fill="#fdc776"/><rect x="202.48" y="425.40" width="19.48" height="1.06" fill="#fa9b58"/><rect x="18.80" y="426.40" width="19.48" height="1.06" fill="#fcaa5f"/><rect x="38.23" y="426.40" width="16.48" height="1.06" fill="#fdae61"/><rect x="54.65" y="426.40" width="16.48" height="1.06" fill="#f99455"/><rect x="71.08" y="426.40" width="16.48" height="1.06" fill="#f7fcb5"/><rect x="87.50" y="426.40" width="16.48" height="1.06" fill="#feeb9e"/><rect x="103.92" y="426.40" width="16.48" height="1.06" fill="#fdfebc"/><rect x="120.35" y="426.40" width="16.48" height="1.06" fill="#c3e67d"/><rect x="136.78" y="426.40" width="16.48" height="1.06" fill="#eaf6a2"/><rect x="153.20" y="426.40" width="16.48" height="1.06" fill="#c8e880"/><rect x="169.63" y="426.40" width="16.48" height="1.06" fill="#f88b51"/><rect x="186.05" y="426.40" width="16.48" height="1.06" fill="#f98e52"/><rect x="202.48" y="426.40" width="19.48" height="1.06" fill="#fdb466"/><rect x="18.80" y="427.40" width="19.48" height="1.56" fill="#fdaf62"/><rect x="38.23" y="427.40" width="16.48" height="1.56" fill="#fca85e"/><rect x="54.65" y="427.40" width="16.48" height="1.56" fill="#fdb063"/><rect x="71.08" y="427.40" width="16.48" height="1.56" fill="#fafdb9"/><rect x="87.50" y="427.40" width="16.48" height="1.56" fill="#fff3ab"/><rect x="103.92" y="427.40" width="16.48" height="1.56" fill="#fff5af"/><rect x="120.35" y="427.40" width="16.48" height="1.56" fill="#69bf63"/><rect x="136.78" y="427.40" width="16.48" height="1.56" fill="#9ad469"/><rect x="153.20" y="427.40" width="16.48" height="1.56" fill="#91d068"/><rect x="169.63" y="427.40" width="16.48" height="1.56" fill="#d8ee8a"/><rect x="186.05" y="427.40" width="16.48" height="1.56" fill="#c1e57c"/><rect x="202.48" y="427.40" width="19.48" height="1.56" fill="#f7fcb4"/><rect x="18.80" y="428.90" width="19.48" height="1.06" fill="#f99455"/><rect x="38.23" y="428.90" width="16.48" height="1.06" fill="#f46d43"/><rect x="54.65" y="428.90" width="16.48" height="1.06" fill="#fdb466"/><rect x="71.08" y="428.90" width="16.48" height="1.06" fill="#fdc574"/><rect x="87.50" y="428.90" width="16.48" height="1.06" fill="#fed17f"/><rect x="103.92" y="428.90" width="16.48" height="1.06" fill="#f7824d"/><rect x="120.35" y="428.90" width="16.48" height="1.06" fill="#cdea83"/><rect x="136.78" y="428.90" width="16.48" height="1.06" fill="#d5ed88"/><rect x="153.20" y="428.90" width="16.48" height="1.06" fill="#d5ed89"/><rect x="169.63" y="428.90" width="16.48" height="1.06" fill="#cce982"/><rect x="186.05" y="428.90" width="16.48" height="1.06" fill="#e1f296"/><rect x="202.48" y="428.90" width="19.48" height="1.06" fill="#c8e880"/><rect x="18.80" y="429.90" width="19.48" height="0.86" fill="#fee797"/><rect x="38.23" y="429.90" width="16.48" height="0.86" fill="#fed07d"/><rect x="54.65" y="429.90" width="16.48" height="0.86" fill="#fecf7c"/><rect x="71.08" y="429.90" width="16.48" height="0.86" fill="#fee593"/><rect x="87.50" y="429.90" width="16.48" height="0.86" fill="#feeb9d"/><rect x="103.92" y="429.90" width="16.48" height="0.86" fill="#feeca0"/><rect x="120.35" y="429.90" width="16.48" height="0.86" fill="#c6e77f"/><rect x="136.78" y="429.90" width="16.48" height="0.86" fill="#d4ed88"/><rect x="153.20" y="429.90" width="16.48" height="0.86" fill="#def192"/><rect x="169.63" y="429.90" width="16.48" height="0.86" fill="#d1ec86"/><rect x="186.05" y="429.90" width="16.48" height="0.86" fill="#c8e880"/><rect x="202.48" y="429.90" width="19.48" height="0.86" fill="#bce379"/><rect x="18.80" y="430.70" width="19.48" height="1.56" fill="#c2e57c"/><rect x="38.23" y="430.70" width="16.48" height="1.56" fill="#c1e57b"/><rect x="54.65" y="430.70" width="16.48" height="1.56" fill="#f9fcb6"/><rect x="71.08" y="430.70" width="16.48" height="1.56" fill="#e4f399"/><rect x="87.50" y="430.70" width="16.48" height="1.56" fill="#fffdbc"/><rect x="103.92" y="430.70" width="16.48" height="1.56" fill="#e8f59f"/><rect x="120.35" y="430.70" width="16.48" height="1.56" fill="#fff2a9"/><rect x="136.78" y="430.70" width="16.48" height="1.56" fill="#fff9b5"/><rect x="153.20" y="430.70" width="16.48" height="1.56" fill="#fee594"/><rect x="169.63" y="430.70" width="16.48" height="1.56" fill="#feeda1"/><rect x="186.05" y="430.70" width="16.48" height="1.56" fill="#feefa5"/><rect x="202.48" y="430.70" width="19.48" height="1.56" fill="#fee593"/><rect x="18.80" y="432.20" width="19.48" height="1.06" fill="#fee796"/><rect x="38.23" y="432.20" width="16.48" height="1.06" fill="#feeda0"/><rect x="54.65" y="432.20" width="16.48" height="1.06" fill="#fee593"/><rect x="71.08" y="432.20" width="16.48" height="1.06" fill="#fdfebc"/><rect x="87.50" y="432.20" width="16.48" height="1.06" fill="#ebf6a3"/><rect x="103.92" y="432.20" width="16.48" height="1.06" fill="#fffbb9"/><rect x="120.35" y="432.20" width="16.48" height="1.06" fill="#cfeb85"/><rect x="136.78" y="432.20" width="16.48" height="1.06" fill="#dbf08d"/><rect x="153.20" y="432.20" width="16.48" height="1.06" fill="#e2f398"/><rect x="169.63" y="432.20" width="16.48" height="1.06" fill="#afdd70"/><rect x="186.05" y="432.20" width="16.48" height="1.06" fill="#bee379"/><rect x="202.48" y="432.20" width="19.48" height="1.06" fill="#9ad469"/><rect x="18.80" y="433.20" width="19.48" height="1.26" fill="#cae881"/><rect x="38.23" y="433.20" width="16.48" height="1.26" fill="#d6ee89"/><rect x="54.65" y="433.20" width="16.48" height="1.26" fill="#fffbb9"/><rect x="71.08" y="433.20" width="16.48" height="1.26" fill="#f7fbb3"/><rect x="87.50" y="433.20" width="16.48" height="1.26" fill="#fcfebb"/><rect x="103.92" y="433.20" width="16.48" height="1.26" fill="#eef8a7"/><rect x="120.35" y="433.20" width="16.48" height="1.26" fill="#fee797"/><rect x="136.78" y="433.20" width="16.48" height="1.26" fill="#f4fab0"/><rect x="153.20" y="433.20" width="16.48" height="1.26" fill="#feeb9d"/><rect x="169.63" y="433.20" width="16.48" height="1.26" fill="#cbe982"/><rect x="186.05" y="433.20" width="16.48" height="1.26" fill="#e2f398"/><rect x="202.48" y="433.20" width="19.48" height="1.26" fill="#cdea83"/><rect x="18.80" y="434.40" width="19.48" height="1.36" fill="#fece7c"/><rect x="38.23" y="434.40" width="16.48" height="1.36" fill="#feefa4"/><rect x="54.65" y="434.40" width="16.48" height="1.36" fill="#fedb87"/><rect x="71.08" y="434.40" width="16.48" height="1.36" fill="#d8ef8a"/><rect x="87.50" y="434.40" width="16.48" height="1.36" fill="#addc6f"/><rect x="103.92" y="434.40" width="16.48" height="1.36" fill="#d3ec87"/><rect x="120.35" y="434.40" width="16.48" height="1.36" fill="#f2faae"/><rect x="136.78" y="434.40" width="16.48" height="1.36" fill="#e5f49c"/><rect x="153.20" y="434.40" width="16.48" height="1.36" fill="#e4f39a"/><rect x="169.63" y="434.40" width="16.48" height="1.36" fill="#ddf190"/><rect x="186.05" y="434.40" width="16.48" height="1.36" fill="#dcf08e"/><rect x="202.48" y="434.40" width="19.48" height="1.36" fill="#daef8c"/><rect x="18.80" y="435.70" width="19.48" height="1.06" fill="#88cc67"/><rect x="38.23" y="435.70" width="16.48" height="1.06" fill="#9ad469"/><rect x="54.65" y="435.70" width="16.48" height="1.06" fill="#91d068"/><rect x="71.08" y="435.70" width="16.48" height="1.06" fill="#d1ec86"/><rect x="87.50" y="435.70" width="16.48" height="1.06" fill="#bde379"/><rect x="103.92" y="435.70" width="16.48" height="1.06" fill="#dbf08e"/><rect x="120.35" y="435.70" width="16.48" height="1.06" fill="#eaf6a2"/><rect x="136.78" y="435.70" width="16.48" height="1.06" fill="#ebf7a4"/><rect x="153.20" y="435.70" width="16.48" height="1.06" fill="#dcf090"/><rect x="169.63" y="435.70" width="16.48" height="1.06" fill="#fbfdb9"/><rect x="186.05" y="435.70" width="16.48" height="1.06" fill="#fffcba"/><rect x="202.48" y="435.70" width="19.48" height="1.06" fill="#feeea2"/><rect x="18.80" y="436.70" width="19.48" height="0.96" fill="#f67c4a"/><rect x="38.23" y="436.70" width="16.48" height="0.96" fill="#f46c43"/><rect x="54.65" y="436.70" width="16.48" height="0.96" fill="#fb9e5a"/><rect x="71.08" y="436.70" width="16.48" height="0.96" fill="#daef8c"/><rect x="87.50" y="436.70" width="16.48" height="0.96" fill="#ebf6a3"/><rect x="103.92" y="436.70" width="16.48" height="0.96" fill="#eaf6a2"/><rect x="120.35" y="436.70" width="16.48" height="0.96" fill="#daef8c"/><rect x="136.78" y="436.70" width="16.48" height="0.96" fill="#d3ec87"/><rect x="153.20" y="436.70" width="16.48" height="0.96" fill="#d6ee89"/><rect x="169.63" y="436.70" width="16.48" height="0.96" fill="#e2f397"/><rect x="186.05" y="436.70" width="16.48" height="0.96" fill="#c1e57c"/><rect x="202.48" y="436.70" width="19.48" height="0.96" fill="#dbf08e"/><rect x="18.80" y="437.60" width="19.48" height="1.36" fill="#f77f4b"/><rect x="38.23" y="437.60" width="16.48" height="1.36" fill="#fa9555"/><rect x="54.65" y="437.60" width="16.48" height="1.36" fill="#f57145"/><rect x="71.08" y="437.60" width="16.48" height="1.36" fill="#d0eb85"/><rect x="87.50" y="437.60" width="16.48" height="1.36" fill="#d2ec86"/><rect x="103.92" y="437.60" width="16.48" height="1.36" fill="#c5e67e"/><rect x="120.35" y="437.60" width="16.48" height="1.36" fill="#f7fcb4"/><rect x="136.78" y="437.60" width="16.48" height="1.36" fill="#fff3ab"/><rect x="153.20" y="437.60" width="16.48" height="1.36" fill="#fff8b4"/><rect x="169.63" y="437.60" width="16.48" height="1.36" fill="#def192"/><rect x="186.05" y="437.60" width="16.48" height="1.36" fill="#bbe278"/><rect x="202.48" y="437.60" width="19.48" height="1.36" fill="#bee379"/><rect x="18.80" y="438.90" width="19.48" height="1.26" fill="#feeea2"/><rect x="38.23" y="438.90" width="16.48" height="1.26" fill="#fff1a7"/><rect x="54.65" y="438.90" width="16.48" height="1.26" fill="#feeea2"/><rect x="71.08" y="438.90" width="16.48" height="1.26" fill="#fff1a7"/><rect x="87.50" y="438.90" width="16.48" height="1.26" fill="#f0f9ab"/><rect x="103.92" y="438.90" width="16.48" height="1.26" fill="#fff8b3"/><rect x="120.35" y="438.90" width="16.48" height="1.26" fill="#f2f9ad"/><rect x="136.78" y="438.90" width="16.48" height="1.26" fill="#eaf6a2"/><rect x="153.20" y="438.90" width="16.48" height="1.26" fill="#ebf7a4"/><rect x="169.63" y="438.90" width="16.48" height="1.26" fill="#8bcd67"/><rect x="186.05" y="438.90" width="16.48" height="1.26" fill="#9bd469"/><rect x="202.48" y="438.90" width="19.48" height="1.26" fill="#a6d96a"/><rect x="18.80" y="440.10" width="19.48" height="1.36" fill="#d9ef8c"/><rect x="38.23" y="440.10" width="16.48" height="1.36" fill="#d3ed87"/><rect x="54.65" y="440.10" width="16.48" height="1.36" fill="#e5f49c"/><rect x="71.08" y="440.10" width="16.48" height="1.36" fill="#fecf7d"/><rect x="87.50" y="440.10" width="16.48" height="1.36" fill="#fa9957"/><rect x="103.92" y="440.10" width="16.48" height="1.36" fill="#fba35c"/><rect x="120.35" y="440.10" width="16.48" height="1.36" fill="#f0f9aa"/><rect x="136.78" y="440.10" width="16.48" height="1.36" fill="#dff293"/><rect x="153.20" y="440.10" width="16.48" height="1.36" fill="#dbf08e"/><rect x="169.63" y="440.10" width="16.48" height="1.36" fill="#c4e67d"/><rect x="186.05" y="440.10" width="16.48" height="1.36" fill="#bfe47a"/><rect x="202.48" y="440.10" width="19.48" height="1.36" fill="#bde379"/><rect x="18.80" y="441.40" width="19.48" height="0.86" fill="#dcf08f"/><rect x="38.23" y="441.40" width="16.48" height="0.86" fill="#e8f5a0"/><rect x="54.65" y="441.40" width="16.48" height="0.86" fill="#f6fbb3"/><rect x="71.08" y="441.40" width="16.48" height="0.86" fill="#fee18c"/><rect x="87.50" y="441.40" width="16.48" height="0.86" fill="#fee18d"/><rect x="103.92" y="441.40" width="16.48" height="0.86" fill="#fee08c"/><rect x="120.35" y="441.40" width="16.48" height="0.86" fill="#e2f398"/><rect x="136.78" y="441.40" width="16.48" height="0.86" fill="#dcf090"/><rect x="153.20" y="441.40" width="16.48" height="0.86" fill="#fdfebc"/><rect x="169.63" y="441.40" width="16.48" height="0.86" fill="#e1f296"/><rect x="186.05" y="441.40" width="16.48" height="0.86" fill="#dff193"/><rect x="202.48" y="441.40" width="19.48" height="0.86" fill="#e0f295"/><rect x="18.80" y="442.20" width="19.48" height="1.36" fill="#fff4ad"/><rect x="38.23" y="442.20" width="16.48" height="1.36" fill="#fee99a"/><rect x="54.65" y="442.20" width="16.48" height="1.36" fill="#feeea2"/><rect x="71.08" y="442.20" width="16.48" height="1.36" fill="#d5ed89"/><rect x="87.50" y="442.20" width="16.48" height="1.36" fill="#b8e176"/><rect x="103.92" y="442.20" width="16.48" height="1.36" fill="#daef8c"/><rect x="120.35" y="442.20" width="16.48" height="1.36" fill="#e0f295"/><rect x="136.78" y="442.20" width="16.48" height="1.36" fill="#d7ee8a"/><rect x="153.20" y="442.20" width="16.48" height="1.36" fill="#d9ef8c"/><rect x="169.63" y="442.20" width="16.48" height="1.36" fill="#c1e47b"/><rect x="186.05" y="442.20" width="16.48" height="1.36" fill="#cfeb84"/><rect x="202.48" y="442.20" width="19.48" height="1.36" fill="#cce983"/><rect x="18.80" y="443.50" width="19.48" height="1.36" fill="#f88d52"/><rect x="38.23" y="443.50" width="16.48" height="1.36" fill="#fcaa5f"/><rect x="54.65" y="443.50" width="16.48" height="1.36" fill="#f99053"/><rect x="71.08" y="443.50" width="16.48" height="1.36" fill="#edf7a6"/><rect x="87.50" y="443.50" width="16.48" height="1.36" fill="#e3f399"/><rect x="103.92" y="443.50" width="16.48" height="1.36" fill="#f6fbb3"/><rect x="120.35" y="443.50" width="16.48" height="1.36" fill="#c3e67d"/><rect x="136.78" y="443.50" width="16.48" height="1.36" fill="#d4ed87"/><rect x="153.20" y="443.50" width="16.48" height="1.36" fill="#d5ed88"/><rect x="169.63" y="443.50" width="16.48" height="1.36" fill="#fffcba"/><rect x="186.05" y="443.50" width="16.48" height="1.36" fill="#e5f49b"/><rect x="202.48" y="443.50" width="19.48" height="1.36" fill="#f9fcb7"/><rect x="18.80" y="444.80" width="19.48" height="0.96" fill="#fa9c59"/><rect x="38.23" y="444.80" width="16.48" height="0.96" fill="#fdaa5f"/><rect x="54.65" y="444.80" width="16.48" height="0.96" fill="#fdad60"/><rect x="71.08" y="444.80" width="16.48" height="0.96" fill="#e4f49a"/><rect x="87.50" y="444.80" width="16.48" height="0.96" fill="#eef8a8"/><rect x="103.92" y="444.80" width="16.48" height="0.96" fill="#d6ee89"/><rect x="120.35" y="444.80" width="16.48" height="0.96" fill="#fedd88"/><rect x="136.78" y="444.80" width="16.48" height="0.96" fill="#fee593"/><rect x="153.20" y="444.80" width="16.48" height="0.96" fill="#feeb9e"/><rect x="169.63" y="444.80" width="16.48" height="0.96" fill="#fed682"/><rect x="186.05" y="444.80" width="16.48" height="0.96" fill="#feeda0"/><rect x="202.48" y="444.80" width="19.48" height="0.96" fill="#feeda1"/><rect x="18.80" y="445.70" width="19.48" height="0.96" fill="#fed380"/><rect x="38.23" y="445.70" width="16.48" height="0.96" fill="#fcaa5f"/><rect x="54.65" y="445.70" width="16.48" height="0.96" fill="#f67e4b"/><rect x="71.08" y="445.70" width="16.48" height="0.96" fill="#fff6b1"/><rect x="87.50" y="445.70" width="16.48" height="0.96" fill="#f1f9ac"/><rect x="103.92" y="445.70" width="16.48" height="0.96" fill="#f2faad"/><rect x="120.35" y="445.70" width="16.48" height="0.96" fill="#bce278"/><rect x="136.78" y="445.70" width="16.48" height="0.96" fill="#a0d769"/><rect x="153.20" y="445.70" width="16.48" height="0.96" fill="#c0e47b"/><rect x="169.63" y="445.70" width="16.48" height="0.96" fill="#e6f59d"/><rect x="186.05" y="445.70" width="16.48" height="0.96" fill="#fff9b5"/><rect x="202.48" y="445.70" width="19.48" height="0.96" fill="#f9fdb7"/><rect x="18.80" y="446.60" width="19.48" height="1.06" fill="#fecd7b"/><rect x="38.23" y="446.60" width="16.48" height="1.06" fill="#fee08b"/><rect x="54.65" y="446.60" width="16.48" height="1.06" fill="#fece7c"/><rect x="71.08" y="446.60" width="16.48" height="1.06" fill="#d0eb85"/><rect x="87.50" y="446.60" width="16.48" height="1.06" fill="#e1f296"/><rect x="103.92" y="446.60" width="16.48" height="1.06" fill="#d8ee8a"/><rect x="120.35" y="446.60" width="16.48" height="1.06" fill="#f2f9ad"/><rect x="136.78" y="446.60" width="16.48" height="1.06" fill="#daef8c"/><rect x="153.20" y="446.60" width="16.48" height="1.06" fill="#eff8aa"/><rect x="169.63" y="446.60" width="16.48" height="1.06" fill="#dff294"/><rect x="186.05" y="446.60" width="16.48" height="1.06" fill="#ddf090"/><rect x="202.48" y="446.60" width="19.48" height="1.06" fill="#d3ec87"/><rect x="18.80" y="447.60" width="19.48" height="1.06" fill="#fedb87"/><rect x="38.23" y="447.60" width="16.48" height="1.06" fill="#fca45c"/><rect x="54.65" y="447.60" width="16.48" height="1.06" fill="#fdb466"/><rect x="71.08" y="447.60" width="16.48" height="1.06" fill="#f1f9ab"/><rect x="87.50" y="447.60" width="16.48" height="1.06" fill="#f7fbb3"/><rect x="103.92" y="447.60" width="16.48" height="1.06" fill="#ecf7a5"/><rect x="120.35" y="447.60" width="16.48" height="1.06" fill="#cbe982"/><rect x="136.78" y="447.60" width="16.48" height="1.06" fill="#c3e57c"/><rect x="153.20" y="447.60" width="16.48" height="1.06" fill="#e2f397"/><rect x="169.63" y="447.60" width="16.48" height="1.06" fill="#f4fab0"/><rect x="186.05" y="447.60" width="16.48" height="1.06" fill="#eaf6a2"/><rect x="202.48" y="447.60" width="19.48" height="1.06" fill="#b8e175"/><rect x="18.80" y="448.60" width="19.48" height="0.86" fill="#fba25c"/><rect x="38.23" y="448.60" width="16.48" height="0.86" fill="#f67f4b"/><rect x="54.65" y="448.60" width="16.48" height="0.86" fill="#e04330"/><rect x="71.08" y="448.60" width="16.48" height="0.86" fill="#fff8b3"/><rect x="87.50" y="448.60" width="16.48" height="0.86" fill="#f7fcb5"/><rect x="103.92" y="448.60" width="16.48" height="0.86" fill="#f4fab0"/><rect x="120.35" y="448.60" width="16.48" height="0.86" fill="#b2de71"/><rect x="136.78" y="448.60" width="16.48" height="0.86" fill="#a7da6b"/><rect x="153.20" y="448.60" width="16.48" height="0.86" fill="#bde379"/><rect x="169.63" y="448.60" width="16.48" height="0.86" fill="#f6fbb3"/><rect x="186.05" y="448.60" width="16.48" height="0.86" fill="#c5e67e"/><rect x="202.48" y="448.60" width="19.48" height="0.86" fill="#d1ec86"/><rect x="18.80" y="449.40" width="19.48" height="1.06" fill="#fee899"/><rect x="38.23" y="449.40" width="16.48" height="1.06" fill="#fee390"/><rect x="54.65" y="449.40" width="16.48" height="1.06" fill="#fffab7"/><rect x="71.08" y="449.40" width="16.48" height="1.06" fill="#feffbe"/><rect x="87.50" y="449.40" width="16.48" height="1.06" fill="#fff4ad"/><rect x="103.92" y="449.40" width="16.48" height="1.06" fill="#fbfeba"/><rect x="120.35" y="449.40" width="16.48" height="1.06" fill="#96d268"/><rect x="136.78" y="449.40" width="16.48" height="1.06" fill="#d2ec87"/><rect x="153.20" y="449.40" width="16.48" height="1.06" fill="#cfeb85"/><rect x="169.63" y="449.40" width="16.48" height="1.06" fill="#99d369"/><rect x="186.05" y="449.40" width="16.48" height="1.06" fill="#91d068"/><rect x="202.48" y="449.40" width="19.48" height="1.06" fill="#addc6f"/><rect x="18.80" y="450.40" width="19.48" height="1.26" fill="#fdaa5f"/><rect x="38.23" y="450.40" width="16.48" height="1.26" fill="#fca55d"/><rect x="54.65" y="450.40" width="16.48" height="1.26" fill="#fca55d"/><rect x="71.08" y="450.40" width="16.48" height="1.26" fill="#f9fcb6"/><rect x="87.50" y="450.40" width="16.48" height="1.26" fill="#feea9b"/><rect x="103.92" y="450.40" width="16.48" height="1.26" fill="#fee28f"/><rect x="120.35" y="450.40" width="16.48" height="1.26" fill="#d1ec86"/><rect x="136.78" y="450.40" width="16.48" height="1.26" fill="#aedd6f"/><rect x="153.20" y="450.40" width="16.48" height="1.26" fill="#cce982"/><rect x="169.63" y="450.40" width="16.48" height="1.26" fill="#e4f49b"/><rect x="186.05" y="450.40" width="16.48" height="1.26" fill="#d9ef8b"/><rect x="202.48" y="450.40" width="19.48" height="1.26" fill="#c5e67e"/><rect x="18.80" y="451.60" width="19.48" height="1.36" fill="#fdae61"/><rect x="38.23" y="451.60" width="16.48" height="1.36" fill="#f67c4a"/><rect x="54.65" y="451.60" width="16.48" height="1.36" fill="#fa9556"/><rect x="71.08" y="451.60" width="16.48" height="1.36" fill="#fdfebc"/><rect x="87.50" y="451.60" width="16.48" height="1.36" fill="#fff7b1"/><rect x="103.92" y="451.60" width="16.48" height="1.36" fill="#f9fcb7"/><rect x="120.35" y="451.60" width="16.48" height="1.36" fill="#d1eb86"/><rect x="136.78" y="451.60" width="16.48" height="1.36" fill="#ddf190"/><rect x="153.20" y="451.60" width="16.48" height="1.36" fill="#d0eb85"/><rect x="169.63" y="451.60" width="16.48" height="1.36" fill="#fee492"/><rect x="186.05" y="451.60" width="16.48" height="1.36" fill="#fff2aa"/><rect x="202.48" y="451.60" width="19.48" height="1.36" fill="#fee08b"/><rect x="18.80" y="452.90" width="19.48" height="1.26" fill="#ecf7a5"/><rect x="38.23" y="452.90" width="16.48" height="1.26" fill="#f0f9ab"/><rect x="54.65" y="452.90" width="16.48" height="1.26" fill="#e2f398"/><rect x="71.08" y="452.90" width="16.48" height="1.26" fill="#f8fcb5"/><rect x="87.50" y="452.90" width="16.48" height="1.26" fill="#eef8a8"/><rect x="103.92" y="452.90" width="16.48" height="1.26" fill="#eaf6a2"/><rect x="120.35" y="452.90" width="16.48" height="1.26" fill="#fee593"/><rect x="136.78" y="452.90" width="16.48" height="1.26" fill="#fed582"/><rect x="153.20" y="452.90" width="16.48" height="1.26" fill="#fffbb8"/><rect x="169.63" y="452.90" width="16.48" height="1.26" fill="#b6e074"/><rect x="186.05" y="452.90" width="16.48" height="1.26" fill="#cbe982"/><rect x="202.48" y="452.90" width="19.48" height="1.26" fill="#9ad469"/><rect x="18.80" y="454.10" width="19.48" height="1.36" fill="#d0eb85"/><rect x="38.23" y="454.10" width="16.48" height="1.36" fill="#d5ed89"/><rect x="54.65" y="454.10" width="16.48" height="1.36" fill="#e0f295"/><rect x="71.08" y="454.10" width="16.48" height="1.36" fill="#daef8c"/><rect x="87.50" y="454.10" width="16.48" height="1.36" fill="#c5e67e"/><rect x="103.92" y="454.10" width="16.48" height="1.36" fill="#d5ed89"/><rect x="120.35" y="454.10" width="16.48" height="1.36" fill="#fffab7"/><rect x="136.78" y="454.10" width="16.48" height="1.36" fill="#fffcb9"/><rect x="153.20" y="454.10" width="16.48" height="1.36" fill="#fff9b5"/><rect x="169.63" y="454.10" width="16.48" height="1.36" fill="#4db15d"/><rect x="186.05" y="454.10" width="16.48" height="1.36" fill="#9bd469"/><rect x="202.48" y="454.10" width="19.48" height="1.36" fill="#5fb961"/><rect x="18.80" y="455.40" width="19.48" height="1.36" fill="#fff2a9"/><rect x="38.23" y="455.40" width="16.48" height="1.36" fill="#feda86"/><rect x="54.65" y="455.40" width="16.48" height="1.36" fill="#fedc88"/><rect x="71.08" y="455.40" width="16.48" height="1.36" fill="#fbfdba"/><rect x="87.50" y="455.40" width="16.48" height="1.36" fill="#fcfebb"/><rect x="103.92" y="455.40" width="16.48" height="1.36" fill="#f8fcb5"/><rect x="120.35" y="455.40" width="16.48" height="1.36" fill="#def192"/><rect x="136.78" y="455.40" width="16.48" height="1.36" fill="#d4ed88"/><rect x="153.20" y="455.40" width="16.48" height="1.36" fill="#eaf6a2"/><rect x="169.63" y="455.40" width="16.48" height="1.36" fill="#c5e67e"/><rect x="186.05" y="455.40" width="16.48" height="1.36" fill="#e3f398"/><rect x="202.48" y="455.40" width="19.48" height="1.36" fill="#a9da6c"/><rect x="18.80" y="456.70" width="19.48" height="1.56" fill="#f0643f"/><rect x="38.23" y="456.70" width="16.48" height="1.56" fill="#fb9f5a"/><rect x="54.65" y="456.70" width="16.48" height="1.56" fill="#fed985"/><rect x="71.08" y="456.70" width="16.48" height="1.56" fill="#f3faae"/><rect x="87.50" y="456.70" width="16.48" height="1.56" fill="#fffebd"/><rect x="103.92" y="456.70" width="16.48" height="1.56" fill="#f7fbb3"/><rect x="120.35" y="456.70" width="16.48" height="1.56" fill="#dcf08f"/><rect x="136.78" y="456.70" width="16.48" height="1.56" fill="#dff293"/><rect x="153.20" y="456.70" width="16.48" height="1.56" fill="#e2f397"/><rect x="169.63" y="456.70" width="16.48" height="1.56" fill="#e7f59e"/><rect x="186.05" y="456.70" width="16.48" height="1.56" fill="#c7e77f"/><rect x="202.48" y="456.70" width="19.48" height="1.56" fill="#ceea84"/><rect x="18.80" y="458.20" width="19.48" height="1.36" fill="#f98e52"/><rect x="38.23" y="458.20" width="16.48" height="1.36" fill="#fdb667"/><rect x="54.65" y="458.20" width="16.48" height="1.36" fill="#f16640"/><rect x="71.08" y="458.20" width="16.48" height="1.36" fill="#def192"/><rect x="87.50" y="458.20" width="16.48" height="1.36" fill="#d5ed88"/><rect x="103.92" y="458.20" width="16.48" height="1.36" fill="#c5e67e"/><rect x="120.35" y="458.20" width="16.48" height="1.36" fill="#d8ef8b"/><rect x="136.78" y="458.20" width="16.48" height="1.36" fill="#e3f398"/><rect x="153.20" y="458.20" width="16.48" height="1.36" fill="#d3ed87"/><rect x="169.63" y="458.20" width="16.48" height="1.36" fill="#fff6af"/><rect x="186.05" y="458.20" width="16.48" height="1.36" fill="#feeb9d"/><rect x="202.48" y="458.20" width="19.48" height="1.36" fill="#fee898"/><rect x="18.80" y="459.50" width="19.48" height="1.56" fill="#fee695"/><rect x="38.23" y="459.50" width="16.48" height="1.56" fill="#feec9f"/><rect x="54.65" y="459.50" width="16.48" height="1.56" fill="#fed481"/><rect x="71.08" y="459.50" width="16.48" height="1.56" fill="#d5ed88"/><rect x="87.50" y="459.50" width="16.48" height="1.56" fill="#dcf08f"/><rect x="103.92" y="459.50" width="16.48" height="1.56" fill="#c7e77f"/><rect x="120.35" y="459.50" width="16.48" height="1.56" fill="#cae881"/><rect x="136.78" y="459.50" width="16.48" height="1.56" fill="#a9da6c"/><rect x="153.20" y="459.50" width="16.48" height="1.56" fill="#cfeb84"/><rect x="169.63" y="459.50" width="16.48" height="1.56" fill="#fafdb9"/><rect x="186.05" y="459.50" width="16.48" height="1.56" fill="#fff8b4"/><rect x="202.48" y="459.50" width="19.48" height="1.56" fill="#f6fbb3"/><rect x="18.80" y="461.00" width="19.48" height="1.36" fill="#ddf190"/><rect x="38.23" y="461.00" width="16.48" height="1.36" fill="#f2faae"/><rect x="54.65" y="461.00" width="16.48" height="1.36" fill="#f5fbb1"/><rect x="71.08" y="461.00" width="16.48" height="1.36" fill="#fff5af"/><rect x="87.50" y="461.00" width="16.48" height="1.36" fill="#feea9c"/><rect x="103.92" y="461.00" width="16.48" height="1.36" fill="#fdfebd"/><rect x="120.35" y="461.00" width="16.48" height="1.36" fill="#b6e074"/><rect x="136.78" y="461.00" width="16.48" height="1.36" fill="#e3f399"/><rect x="153.20" y="461.00" width="16.48" height="1.36" fill="#bee37a"/><rect x="169.63" y="461.00" width="16.48" height="1.36" fill="#fee491"/><rect x="186.05" y="461.00" width="16.48" height="1.36" fill="#fedd88"/><rect x="202.48" y="461.00" width="19.48" height="1.36" fill="#feeda0"/><rect x="18.80" y="462.30" width="19.48" height="1.06" fill="#fdb264"/><rect x="38.23" y="462.30" width="16.48" height="1.06" fill="#fed380"/><rect x="54.65" y="462.30" width="16.48" height="1.06" fill="#fdbf6f"/><rect x="71.08" y="462.30" width="16.48" height="1.06" fill="#feda86"/><rect x="87.50" y="462.30" width="16.48" height="1.06" fill="#fff1a8"/><rect x="103.92" y="462.30" width="16.48" height="1.06" fill="#feeb9e"/><rect x="120.35" y="462.30" width="16.48" height="1.06" fill="#fee99a"/><rect x="136.78" y="462.30" width="16.48" height="1.06" fill="#fffbb9"/><rect x="153.20" y="462.30" width="16.48" height="1.06" fill="#feeb9e"/><rect x="169.63" y="462.30" width="16.48" height="1.06" fill="#f0f9aa"/><rect x="186.05" y="462.30" width="16.48" height="1.06" fill="#eff8a9"/><rect x="202.48" y="462.30" width="19.48" height="1.06" fill="#f5fbb2"/><rect x="18.80" y="463.30" width="19.48" height="1.86" fill="#fdb265"/><rect x="38.23" y="463.30" width="16.48" height="1.86" fill="#fee390"/><rect x="54.65" y="463.30" width="16.48" height="1.86" fill="#fdb265"/><rect x="71.08" y="463.30" width="16.48" height="1.86" fill="#d1ec86"/><rect x="87.50" y="463.30" width="16.48" height="1.86" fill="#ceea84"/><rect x="103.92" y="463.30" width="16.48" height="1.86" fill="#daef8d"/><rect x="120.35" y="463.30" width="16.48" height="1.86" fill="#fedc88"/><rect x="136.78" y="463.30" width="16.48" height="1.86" fill="#fee593"/><rect x="153.20" y="463.30" width="16.48" height="1.86" fill="#fed884"/><rect x="169.63" y="463.30" width="16.48" height="1.86" fill="#d4ed88"/><rect x="186.05" y="463.30" width="16.48" height="1.86" fill="#c7e780"/><rect x="202.48" y="463.30" width="19.48" height="1.86" fill="#ebf7a3"/><rect x="18.80" y="465.10" width="19.48" height="1.86" fill="#fffebd"/><rect x="38.23" y="465.10" width="16.48" height="1.86" fill="#fecc7a"/><rect x="54.65" y="465.10" width="16.48" height="1.86" fill="#feeda2"/><rect x="71.08" y="465.10" width="16.48" height="1.86" fill="#fedf8a"/><rect x="87.50" y="465.10" width="16.48" height="1.86" fill="#fdb96a"/><rect x="103.92" y="465.10" width="16.48" height="1.86" fill="#fa9857"/><rect x="120.35" y="465.10" width="16.48" height="1.86" fill="#e9f6a1"/><rect x="136.78" y="465.10" width="16.48" height="1.86" fill="#f2f9ad"/><rect x="153.20" y="465.10" width="16.48" height="1.86" fill="#edf7a6"/><rect x="169.63" y="465.10" width="16.48" height="1.86" fill="#eaf6a2"/><rect x="186.05" y="465.10" width="16.48" height="1.86" fill="#dcf08f"/><rect x="202.48" y="465.10" width="19.48" height="1.86" fill="#fffebe"/><rect x="18.80" y="466.90" width="19.48" height="0.96" fill="#b6e075"/><rect x="38.23" y="466.90" width="16.48" height="0.96" fill="#b8e175"/><rect x="54.65" y="466.90" width="16.48" height="0.96" fill="#c6e77f"/><rect x="71.08" y="466.90" width="16.48" height="0.96" fill="#ebf6a3"/><rect x="87.50" y="466.90" width="16.48" height="0.96" fill="#ebf6a3"/><rect x="103.92" y="466.90" width="16.48" height="0.96" fill="#daef8c"/><rect x="120.35" y="466.90" width="16.48" height="0.96" fill="#dcf08f"/><rect x="136.78" y="466.90" width="16.48" height="0.96" fill="#cbe982"/><rect x="153.20" y="466.90" width="16.48" height="0.96" fill="#d1ec86"/><rect x="169.63" y="466.90" width="16.48" height="0.96" fill="#a2d76a"/><rect x="186.05" y="466.90" width="16.48" height="0.96" fill="#c8e880"/><rect x="202.48" y="466.90" width="19.48" height="0.96" fill="#c6e77e"/><rect x="18.80" y="467.80" width="19.48" height="1.26" fill="#fed27f"/><rect x="38.23" y="467.80" width="16.48" height="1.26" fill="#fdbd6d"/><rect x="54.65" y="467.80" width="16.48" height="1.26" fill="#fdc675"/><rect x="71.08" y="467.80" width="16.48" height="1.26" fill="#fffebe"/><rect x="87.50" y="467.80" width="16.48" height="1.26" fill="#fbfdb9"/><rect x="103.92" y="467.80" width="16.48" height="1.26" fill="#f7fcb4"/><rect x="120.35" y="467.80" width="16.48" height="1.26" fill="#f6fbb3"/><rect x="136.78" y="467.80" width="16.48" height="1.26" fill="#dcf08f"/><rect x="153.20" y="467.80" width="16.48" height="1.26" fill="#dcf08f"/><rect x="169.63" y="467.80" width="16.48" height="1.26" fill="#c4e67e"/><rect x="186.05" y="467.80" width="16.48" height="1.26" fill="#e4f39a"/><rect x="202.48" y="467.80" width="19.48" height="1.26" fill="#d3ec87"/><rect x="18.80" y="469.00" width="19.48" height="1.56" fill="#f5fbb1"/><rect x="38.23" y="469.00" width="16.48" height="1.56" fill="#d2ec86"/><rect x="54.65" y="469.00" width="16.48" height="1.56" fill="#eaf6a2"/><rect x="71.08" y="469.00" width="16.48" height="1.56" fill="#f67a49"/><rect x="87.50" y="469.00" width="16.48" height="1.56" fill="#fb9e5a"/><rect x="103.92" y="469.00" width="16.48" height="1.56" fill="#fed07e"/><rect x="120.35" y="469.00" width="16.48" height="1.56" fill="#bde379"/><rect x="136.78" y="469.00" width="16.48" height="1.56" fill="#b6e074"/><rect x="153.20" y="469.00" width="16.48" height="1.56" fill="#c3e57d"/><rect x="169.63" y="469.00" width="16.48" height="1.56" fill="#dff293"/><rect x="186.05" y="469.00" width="16.48" height="1.56" fill="#d4ed87"/><rect x="202.48" y="469.00" width="19.48" height="1.56" fill="#cae881"/><rect x="18.80" y="470.50" width="19.48" height="1.36" fill="#fdc070"/><rect x="38.23" y="470.50" width="16.48" height="1.36" fill="#fa9656"/><rect x="54.65" y="470.50" width="16.48" height="1.36" fill="#fcaa5f"/><rect x="71.08" y="470.50" width="16.48" height="1.36" fill="#d7ee8a"/><rect x="87.50" y="470.50" width="16.48" height="1.36" fill="#e0f295"/><rect x="103.92" y="470.50" width="16.48" height="1.36" fill="#b8e176"/><rect x="120.35" y="470.50" width="16.48" height="1.36" fill="#fdc474"/><rect x="136.78" y="470.50" width="16.48" height="1.36" fill="#fedb87"/><rect x="153.20" y="470.50" width="16.48" height="1.36" fill="#fee99a"/><rect x="169.63" y="470.50" width="16.48" height="1.36" fill="#fedd88"/><rect x="186.05" y="470.50" width="16.48" height="1.36" fill="#fee99a"/><rect x="202.48" y="470.50" width="19.48" height="1.36" fill="#fffdbc"/><rect x="18.80" y="471.80" width="19.48" height="1.26" fill="#f67b4a"/><rect x="38.23" y="471.80" width="16.48" height="1.26" fill="#fba05b"/><rect x="54.65" y="471.80" width="16.48" height="1.26" fill="#fb9f5a"/><rect x="71.08" y="471.80" width="16.48" height="1.26" fill="#fdc676"/><rect x="87.50" y="471.80" width="16.48" height="1.26" fill="#fdba6b"/><rect x="103.92" y="471.80" width="16.48" height="1.26" fill="#fecb79"/><rect x="120.35" y="471.80" width="16.48" height="1.26" fill="#bce379"/><rect x="136.78" y="471.80" width="16.48" height="1.26" fill="#ddf190"/><rect x="153.20" y="471.80" width="16.48" height="1.26" fill="#daef8c"/><rect x="169.63" y="471.80" width="16.48" height="1.26" fill="#f6fbb2"/><rect x="186.05" y="471.80" width="16.48" height="1.26" fill="#f2f9ad"/><rect x="202.48" y="471.80" width="19.48" height="1.26" fill="#d6ee89"/><rect x="18.80" y="473.00" width="19.48" height="0.86" fill="#fa9756"/><rect x="38.23" y="473.00" width="16.48" height="0.86" fill="#fdbd6e"/><rect x="54.65" y="473.00" width="16.48" height="0.86" fill="#fdbf6f"/><rect x="71.08" y="473.00" width="16.48" height="0.86" fill="#fff9b5"/><rect x="87.50" y="473.00" width="16.48" height="0.86" fill="#f3faae"/><rect x="103.92" y="473.00" width="16.48" height="0.86" fill="#edf8a7"/><rect x="120.35" y="473.00" width="16.48" height="0.86" fill="#dcf08f"/><rect x="136.78" y="473.00" width="16.48" height="0.86" fill="#e7f59f"/><rect x="153.20" y="473.00" width="16.48" height="0.86" fill="#d8ef8a"/><rect x="169.63" y="473.00" width="16.48" height="0.86" fill="#b0dd70"/><rect x="186.05" y="473.00" width="16.48" height="0.86" fill="#b7e075"/><rect x="202.48" y="473.00" width="19.48" height="0.86" fill="#c0e47b"/><rect x="18.80" y="473.80" width="19.48" height="0.86" fill="#fff1a7"/><rect x="38.23" y="473.80" width="16.48" height="0.86" fill="#fee899"/><rect x="54.65" y="473.80" width="16.48" height="0.86" fill="#feea9b"/><rect x="71.08" y="473.80" width="16.48" height="0.86" fill="#fafdb8"/><rect x="87.50" y="473.80" width="16.48" height="0.86" fill="#f7fbb3"/><rect x="103.92" y="473.80" width="16.48" height="0.86" fill="#fffdbb"/><rect x="120.35" y="473.80" width="16.48" height="0.86" fill="#cae981"/><rect x="136.78" y="473.80" width="16.48" height="0.86" fill="#c0e47b"/><rect x="153.20" y="473.80" width="16.48" height="0.86" fill="#c7e780"/><rect x="169.63" y="473.80" width="16.48" height="0.86" fill="#fee695"/><rect x="186.05" y="473.80" width="16.48" height="0.86" fill="#fffbb9"/><rect x="202.48" y="473.80" width="19.48" height="0.86" fill="#fffebd"/><rect x="18.80" y="474.60" width="19.48" height="1.06" fill="#f99053"/><rect x="38.23" y="474.60" width="16.48" height="1.06" fill="#e95638"/><rect x="54.65" y="474.60" width="16.48" height="1.06" fill="#e75237"/><rect x="71.08" y="474.60" width="16.48" height="1.06" fill="#e8f59f"/><rect x="87.50" y="474.60" width="16.48" height="1.06" fill="#f3faae"/><rect x="103.92" y="474.60" width="16.48" height="1.06" fill="#cbe982"/><rect x="120.35" y="474.60" width="16.48" height="1.06" fill="#dcf08f"/><rect x="136.78" y="474.60" width="16.48" height="1.06" fill="#e5f49b"/><rect x="153.20" y="474.60" width="16.48" height="1.06" fill="#e0f294"/><rect x="169.63" y="474.60" width="16.48" height="1.06" fill="#b1de71"/><rect x="186.05" y="474.60" width="16.48" height="1.06" fill="#c6e77f"/><rect x="202.48" y="474.60" width="19.48" height="1.06" fill="#a5d96a"/><rect x="18.80" y="475.60" width="19.48" height="0.96" fill="#fecb7a"/><rect x="38.23" y="475.60" width="16.48" height="0.96" fill="#fedd88"/><rect x="54.65" y="475.60" width="16.48" height="0.96" fill="#feeea3"/><rect x="71.08" y="475.60" width="16.48" height="0.96" fill="#f0f9aa"/><rect x="87.50" y="475.60" width="16.48" height="0.96" fill="#e5f49b"/><rect x="103.92" y="475.60" width="16.48" height="0.96" fill="#e1f397"/><rect x="120.35" y="475.60" width="16.48" height="0.96" fill="#bae277"/><rect x="136.78" y="475.60" width="16.48" height="0.96" fill="#ddf191"/><rect x="153.20" y="475.60" width="16.48" height="0.96" fill="#c8e880"/><rect x="169.63" y="475.60" width="16.48" height="0.96" fill="#fede8a"/><rect x="186.05" y="475.60" width="16.48" height="0.96" fill="#fff2aa"/><rect x="202.48" y="475.60" width="19.48" height="0.96" fill="#fee593"/><rect x="18.80" y="476.50" width="19.48" height="0.86" fill="#fee18d"/><rect x="38.23" y="476.50" width="16.48" height="0.86" fill="#feda86"/><rect x="54.65" y="476.50" width="16.48" height="0.86" fill="#fee08b"/><rect x="71.08" y="476.50" width="16.48" height="0.86" fill="#cfeb84"/><rect x="87.50" y="476.50" width="16.48" height="0.86" fill="#e8f59f"/><rect x="103.92" y="476.50" width="16.48" height="0.86" fill="#e7f59e"/><rect x="120.35" y="476.50" width="16.48" height="0.86" fill="#e6f59d"/><rect x="136.78" y="476.50" width="16.48" height="0.86" fill="#e5f49c"/><rect x="153.20" y="476.50" width="16.48" height="0.86" fill="#e2f398"/><rect x="169.63" y="476.50" width="16.48" height="0.86" fill="#c9e881"/><rect x="186.05" y="476.50" width="16.48" height="0.86" fill="#daf08d"/><rect x="202.48" y="476.50" width="19.48" height="0.86" fill="#cce983"/><rect x="18.80" y="477.30" width="19.48" height="0.86" fill="#f88950"/><rect x="38.23" y="477.30" width="16.48" height="0.86" fill="#fb9f5a"/><rect x="54.65" y="477.30" width="16.48" height="0.86" fill="#f88d52"/><rect x="71.08" y="477.30" width="16.48" height="0.86" fill="#d5ed89"/><rect x="87.50" y="477.30" width="16.48" height="0.86" fill="#e2f397"/><rect x="103.92" y="477.30" width="16.48" height="0.86" fill="#f7fcb4"/><rect x="120.35" y="477.30" width="16.48" height="0.86" fill="#d4ed88"/><rect x="136.78" y="477.30" width="16.48" height="0.86" fill="#d9ef8c"/><rect x="153.20" y="477.30" width="16.48" height="0.86" fill="#c9e881"/><rect x="169.63" y="477.30" width="16.48" height="0.86" fill="#e3f399"/><rect x="186.05" y="477.30" width="16.48" height="0.86" fill="#e5f49c"/><rect x="202.48" y="477.30" width="19.48" height="0.86" fill="#c3e67d"/><rect x="18.80" y="478.10" width="19.48" height="1.26" fill="#f67848"/><rect x="38.23" y="478.10" width="16.48" height="1.26" fill="#fdbb6c"/><rect x="54.65" y="478.10" width="16.48" height="1.26" fill="#f67f4b"/><rect x="71.08" y="478.10" width="16.48" height="1.26" fill="#fff7b1"/><rect x="87.50" y="478.10" width="16.48" height="1.26" fill="#f6fbb2"/><rect x="103.92" y="478.10" width="16.48" height="1.26" fill="#fff6af"/><rect x="120.35" y="478.10" width="16.48" height="1.26" fill="#c9e881"/><rect x="136.78" y="478.10" width="16.48" height="1.26" fill="#ebf7a4"/><rect x="153.20" y="478.10" width="16.48" height="1.26" fill="#e4f399"/><rect x="169.63" y="478.10" width="16.48" height="1.26" fill="#b5df74"/><rect x="186.05" y="478.10" width="16.48" height="1.26" fill="#7ec866"/><rect x="202.48" y="478.10" width="19.48" height="1.26" fill="#a2d76a"/><rect x="18.80" y="479.30" width="19.48" height="1.56" fill="#c1e47b"/><rect x="38.23" y="479.30" width="16.48" height="1.56" fill="#b5df74"/><rect x="54.65" y="479.30" width="16.48" height="1.56" fill="#addc6f"/><rect x="71.08" y="479.30" width="16.48" height="1.56" fill="#fff1a8"/><rect x="87.50" y="479.30" width="16.48" height="1.56" fill="#fffcbb"/><rect x="103.92" y="479.30" width="16.48" height="1.56" fill="#fffbb8"/><rect x="120.35" y="479.30" width="16.48" height="1.56" fill="#f9fcb6"/><rect x="136.78" y="479.30" width="16.48" height="1.56" fill="#fefebd"/><rect x="153.20" y="479.30" width="16.48" height="1.56" fill="#fafdb9"/><rect x="169.63" y="479.30" width="16.48" height="1.56" fill="#def193"/><rect x="186.05" y="479.30" width="16.48" height="1.56" fill="#eaf6a2"/><rect x="202.48" y="479.30" width="19.48" height="1.56" fill="#d4ed88"/><rect x="18.80" y="480.80" width="19.48" height="0.86" fill="#e1f296"/><rect x="38.23" y="480.80" width="16.48" height="0.86" fill="#c2e57c"/><rect x="54.65" y="480.80" width="16.48" height="0.86" fill="#d5ed89"/><rect x="71.08" y="480.80" width="16.48" height="0.86" fill="#e5f49c"/><rect x="87.50" y="480.80" width="16.48" height="0.86" fill="#fbfdb9"/><rect x="103.92" y="480.80" width="16.48" height="0.86" fill="#f0f9ab"/><rect x="120.35" y="480.80" width="16.48" height="0.86" fill="#fee797"/><rect x="136.78" y="480.80" width="16.48" height="0.86" fill="#fee899"/><rect x="153.20" y="480.80" width="16.48" height="0.86" fill="#fee694"/><rect x="169.63" y="480.80" width="16.48" height="0.86" fill="#b4df73"/><rect x="186.05" y="480.80" width="16.48" height="0.86" fill="#dcf08f"/><rect x="202.48" y="480.80" width="19.48" height="0.86" fill="#fafdb9"/><rect x="18.80" y="481.60" width="19.48" height="1.56" fill="#fdbd6e"/><rect x="38.23" y="481.60" width="16.48" height="1.56" fill="#fdc171"/><rect x="54.65" y="481.60" width="16.48" height="1.56" fill="#fca65d"/><rect x="71.08" y="481.60" width="16.48" height="1.56" fill="#f8fcb5"/><rect x="87.50" y="481.60" width="16.48" height="1.56" fill="#f57547"/><rect x="103.92" y="481.60" width="16.48" height="1.56" fill="#fff0a7"/><rect x="120.35" y="481.60" width="16.48" height="1.56" fill="#daf08d"/><rect x="136.78" y="481.60" width="16.48" height="1.56" fill="#f9fdb7"/><rect x="153.20" y="481.60" width="16.48" height="1.56" fill="#f1f9ac"/><rect x="169.63" y="481.60" width="16.48" height="1.56" fill="#f8884f"/><rect x="186.05" y="481.60" width="16.48" height="1.56" fill="#f99355"/><rect x="202.48" y="481.60" width="19.48" height="1.56" fill="#fca45d"/><rect x="18.80" y="483.10" width="19.48" height="1.26" fill="#f7844e"/><rect x="38.23" y="483.10" width="16.48" height="1.26" fill="#f88d52"/><rect x="54.65" y="483.10" width="16.48" height="1.26" fill="#fa9756"/><rect x="71.08" y="483.10" width="16.48" height="1.26" fill="#b8e175"/><rect x="87.50" y="483.10" width="16.48" height="1.26" fill="#cfea84"/><rect x="103.92" y="483.10" width="16.48" height="1.26" fill="#c2e57c"/><rect x="120.35" y="483.10" width="16.48" height="1.26" fill="#fdc272"/><rect x="136.78" y="483.10" width="16.48" height="1.26" fill="#fedb87"/><rect x="153.20" y="483.10" width="16.48" height="1.26" fill="#fed784"/><rect x="169.63" y="483.10" width="16.48" height="1.26" fill="#fff5af"/><rect x="186.05" y="483.10" width="16.48" height="1.26" fill="#fffbb8"/><rect x="202.48" y="483.10" width="19.48" height="1.26" fill="#fcfebb"/><rect x="18.80" y="484.30" width="19.48" height="1.86" fill="#fece7c"/><rect x="38.23" y="484.30" width="16.48" height="1.86" fill="#fdc171"/><rect x="54.65" y="484.30" width="16.48" height="1.86" fill="#fa9957"/><rect x="71.08" y="484.30" width="16.48" height="1.86" fill="#eff8a9"/><rect x="87.50" y="484.30" width="16.48" height="1.86" fill="#eff8a9"/><rect x="103.92" y="484.30" width="16.48" height="1.86" fill="#d6ee89"/><rect x="120.35" y="484.30" width="16.48" height="1.86" fill="#dcf08f"/><rect x="136.78" y="484.30" width="16.48" height="1.86" fill="#dcf08f"/><rect x="153.20" y="484.30" width="16.48" height="1.86" fill="#def191"/><rect x="169.63" y="484.30" width="16.48" height="1.86" fill="#d6ee89"/><rect x="186.05" y="484.30" width="16.48" height="1.86" fill="#c0e47b"/><rect x="202.48" y="484.30" width="19.48" height="1.86" fill="#dcf08f"/><rect x="18.80" y="486.10" width="19.48" height="1.36" fill="#fee99a"/><rect x="38.23" y="486.10" width="16.48" height="1.36" fill="#fff6b1"/><rect x="54.65" y="486.10" width="16.48" height="1.36" fill="#fed07d"/><rect x="71.08" y="486.10" width="16.48" height="1.36" fill="#fff8b3"/><rect x="87.50" y="486.10" width="16.48" height="1.36" fill="#fffab7"/><rect x="103.92" y="486.10" width="16.48" height="1.36" fill="#eff8a9"/><rect x="120.35" y="486.10" width="16.48" height="1.36" fill="#c0e47b"/><rect x="136.78" y="486.10" width="16.48" height="1.36" fill="#c7e77f"/><rect x="153.20" y="486.10" width="16.48" height="1.36" fill="#c2e57c"/><rect x="169.63" y="486.10" width="16.48" height="1.36" fill="#90cf68"/><rect x="186.05" y="486.10" width="16.48" height="1.36" fill="#82c966"/><rect x="202.48" y="486.10" width="19.48" height="1.36" fill="#afdd70"/><rect x="18.80" y="487.40" width="19.48" height="1.06" fill="#fa9555"/><rect x="38.23" y="487.40" width="16.48" height="1.06" fill="#fa9656"/><rect x="54.65" y="487.40" width="16.48" height="1.06" fill="#fdac60"/><rect x="71.08" y="487.40" width="16.48" height="1.06" fill="#e4f49a"/><rect x="87.50" y="487.40" width="16.48" height="1.06" fill="#fffebe"/><rect x="103.92" y="487.40" width="16.48" height="1.06" fill="#feffbe"/><rect x="120.35" y="487.40" width="16.48" height="1.06" fill="#c3e57c"/><rect x="136.78" y="487.40" width="16.48" height="1.06" fill="#cdea83"/><rect x="153.20" y="487.40" width="16.48" height="1.06" fill="#d1eb86"/><rect x="169.63" y="487.40" width="16.48" height="1.06" fill="#e3f399"/><rect x="186.05" y="487.40" width="16.48" height="1.06" fill="#dcf090"/><rect x="202.48" y="487.40" width="19.48" height="1.06" fill="#cbe982"/><rect x="18.80" y="488.40" width="19.48" height="1.06" fill="#b1de71"/><rect x="38.23" y="488.40" width="16.48" height="1.06" fill="#97d268"/><rect x="54.65" y="488.40" width="16.48" height="1.06" fill="#bfe47a"/><rect x="71.08" y="488.40" width="16.48" height="1.06" fill="#f8fcb6"/><rect x="87.50" y="488.40" width="16.48" height="1.06" fill="#de3f2e"/><rect x="103.92" y="488.40" width="16.48" height="1.06" fill="#def192"/><rect x="120.35" y="488.40" width="16.48" height="1.06" fill="#e6f59d"/><rect x="136.78" y="488.40" width="16.48" height="1.06" fill="#e4f49a"/><rect x="153.20" y="488.40" width="16.48" height="1.06" fill="#f7fcb4"/><rect x="169.63" y="488.40" width="16.48" height="1.06" fill="#a8da6c"/><rect x="186.05" y="488.40" width="16.48" height="1.06" fill="#eaf6a2"/><rect x="202.48" y="488.40" width="19.48" height="1.06" fill="#e8f59f"/><rect x="18.80" y="489.40" width="19.48" height="0.96" fill="#fa9957"/><rect x="38.23" y="489.40" width="16.48" height="0.96" fill="#f57747"/><rect x="54.65" y="489.40" width="16.48" height="0.96" fill="#f8874f"/><rect x="71.08" y="489.40" width="16.48" height="0.96" fill="#e3f399"/><rect x="87.50" y="489.40" width="16.48" height="0.96" fill="#de3f2e"/><rect x="103.92" y="489.40" width="16.48" height="0.96" fill="#e2f397"/><rect x="120.35" y="489.40" width="16.48" height="0.96" fill="#d3ec87"/><rect x="136.78" y="489.40" width="16.48" height="0.96" fill="#c2e57c"/><rect x="153.20" y="489.40" width="16.48" height="0.96" fill="#ceea84"/><rect x="169.63" y="489.40" width="16.48" height="0.96" fill="#f9fdb7"/><rect x="186.05" y="489.40" width="16.48" height="0.96" fill="#fffbb7"/><rect x="202.48" y="489.40" width="19.48" height="0.96" fill="#e7f59e"/><rect x="18.80" y="490.30" width="19.48" height="1.56" fill="#cae981"/><rect x="38.23" y="490.30" width="16.48" height="1.56" fill="#bbe277"/><rect x="54.65" y="490.30" width="16.48" height="1.56" fill="#c3e67d"/><rect x="71.08" y="490.30" width="16.48" height="1.56" fill="#e0f295"/><rect x="87.50" y="490.30" width="16.48" height="1.56" fill="#e9f6a1"/><rect x="103.92" y="490.30" width="16.48" height="1.56" fill="#fefebd"/><rect x="120.35" y="490.30" width="16.48" height="1.56" fill="#fff9b6"/><rect x="136.78" y="490.30" width="16.48" height="1.56" fill="#fffab6"/><rect x="153.20" y="490.30" width="16.48" height="1.56" fill="#fff8b4"/><rect x="169.63" y="490.30" width="16.48" height="1.56" fill="#cfeb85"/><rect x="186.05" y="490.30" width="16.48" height="1.56" fill="#e5f49b"/><rect x="202.48" y="490.30" width="19.48" height="1.56" fill="#dcf08f"/><rect x="18.80" y="491.80" width="19.48" height="0.96" fill="#f67d4b"/><rect x="38.23" y="491.80" width="16.48" height="0.96" fill="#fdbe6e"/><rect x="54.65" y="491.80" width="16.48" height="0.96" fill="#f26841"/><rect x="71.08" y="491.80" width="16.48" height="0.96" fill="#fffdbc"/><rect x="87.50" y="491.80" width="16.48" height="0.96" fill="#fff7b2"/><rect x="103.92" y="491.80" width="16.48" height="0.96" fill="#f1f9ac"/><rect x="120.35" y="491.80" width="16.48" height="0.96" fill="#fffdbb"/><rect x="136.78" y="491.80" width="16.48" height="0.96" fill="#dcf08f"/><rect x="153.20" y="491.80" width="16.48" height="0.96" fill="#fffab7"/><rect x="169.63" y="491.80" width="16.48" height="0.96" fill="#fee797"/><rect x="186.05" y="491.80" width="16.48" height="0.96" fill="#fee796"/><rect x="202.48" y="491.80" width="19.48" height="0.96" fill="#fee390"/><rect x="18.80" y="492.70" width="19.48" height="1.26" fill="#feeca0"/><rect x="38.23" y="492.70" width="16.48" height="1.26" fill="#fff2a8"/><rect x="54.65" y="492.70" width="16.48" height="1.26" fill="#fdb768"/><rect x="71.08" y="492.70" width="16.48" height="1.26" fill="#fed07e"/><rect x="87.50" y="492.70" width="16.48" height="1.26" fill="#fed582"/><rect x="103.92" y="492.70" width="16.48" height="1.26" fill="#fee593"/><rect x="120.35" y="492.70" width="16.48" height="1.26" fill="#e6f49d"/><rect x="136.78" y="492.70" width="16.48" height="1.26" fill="#cdea83"/><rect x="153.20" y="492.70" width="16.48" height="1.26" fill="#f2f9ad"/><rect x="169.63" y="492.70" width="16.48" height="1.26" fill="#d0eb85"/><rect x="186.05" y="492.70" width="16.48" height="1.26" fill="#cbe982"/><rect x="202.48" y="492.70" width="19.48" height="1.26" fill="#e9f6a1"/><rect x="18.80" y="493.90" width="19.48" height="1.36" fill="#ebf7a4"/><rect x="38.23" y="493.90" width="16.48" height="1.36" fill="#e3f399"/><rect x="54.65" y="493.90" width="16.48" height="1.36" fill="#e5f49c"/><rect x="71.08" y="493.90" width="16.48" height="1.36" fill="#d8ef8a"/><rect x="87.50" y="493.90" width="16.48" height="1.36" fill="#e3f399"/><rect x="103.92" y="493.90" width="16.48" height="1.36" fill="#e1f396"/><rect x="120.35" y="493.90" width="16.48" height="1.36" fill="#dcf08f"/><rect x="136.78" y="493.90" width="16.48" height="1.36" fill="#d9ef8b"/><rect x="153.20" y="493.90" width="16.48" height="1.36" fill="#b4df73"/><rect x="169.63" y="493.90" width="16.48" height="1.36" fill="#ddf191"/><rect x="186.05" y="493.90" width="16.48" height="1.36" fill="#d6ee89"/><rect x="202.48" y="493.90" width="19.48" height="1.36" fill="#e0f295"/><rect x="18.80" y="495.20" width="19.48" height="1.86" fill="#fedf8a"/><rect x="38.23" y="495.20" width="16.48" height="1.86" fill="#fee390"/><rect x="54.65" y="495.20" width="16.48" height="1.86" fill="#fee797"/><rect x="71.08" y="495.20" width="16.48" height="1.86" fill="#d2ec87"/><rect x="87.50" y="495.20" width="16.48" height="1.86" fill="#f0f9ab"/><rect x="103.92" y="495.20" width="16.48" height="1.86" fill="#f0f9aa"/><rect x="120.35" y="495.20" width="16.48" height="1.86" fill="#e6f49d"/><rect x="136.78" y="495.20" width="16.48" height="1.86" fill="#ebf7a3"/><rect x="153.20" y="495.20" width="16.48" height="1.86" fill="#edf7a6"/><rect x="169.63" y="495.20" width="16.48" height="1.86" fill="#e1f296"/><rect x="186.05" y="495.20" width="16.48" height="1.86" fill="#cbe982"/><rect x="202.48" y="495.20" width="19.48" height="1.86" fill="#d0eb85"/><rect x="18.80" y="497.00" width="19.48" height="1.56" fill="#f88a50"/><rect x="38.23" y="497.00" width="16.48" height="1.56" fill="#fec978"/><rect x="54.65" y="497.00" width="16.48" height="1.56" fill="#fdc675"/><rect x="71.08" y="497.00" width="16.48" height="1.56" fill="#fdbf70"/><rect x="87.50" y="497.00" width="16.48" height="1.56" fill="#f67c4a"/><rect x="103.92" y="497.00" width="16.48" height="1.56" fill="#fca65d"/><rect x="120.35" y="497.00" width="16.48" height="1.56" fill="#bae277"/><rect x="136.78" y="497.00" width="16.48" height="1.56" fill="#c6e77f"/><rect x="153.20" y="497.00" width="16.48" height="1.56" fill="#cdea83"/><rect x="169.63" y="497.00" width="16.48" height="1.56" fill="#fdb365"/><rect x="186.05" y="497.00" width="16.48" height="1.56" fill="#f99254"/><rect x="202.48" y="497.00" width="19.48" height="1.56" fill="#fdb365"/><rect x="18.80" y="498.50" width="19.48" height="3.56" fill="#e1f296"/><rect x="38.23" y="498.50" width="16.48" height="3.56" fill="#dff193"/><rect x="54.65" y="498.50" width="16.48" height="3.56" fill="#dff193"/><rect x="71.08" y="498.50" width="16.48" height="3.56" fill="#fdb96a"/><rect x="87.50" y="498.50" width="16.48" height="3.56" fill="#fdb96a"/><rect x="103.92" y="498.50" width="16.48" height="3.56" fill="#fdc171"/><rect x="120.35" y="498.50" width="16.48" height="3.56" fill="#cae982"/><rect x="136.78" y="498.50" width="16.48" height="3.56" fill="#bbe277"/><rect x="153.20" y="498.50" width="16.48" height="3.56" fill="#cbe982"/><rect x="169.63" y="498.50" width="16.48" height="3.56" fill="#fdbb6c"/><rect x="186.05" y="498.50" width="16.48" height="3.56" fill="#fdad61"/><rect x="202.48" y="498.50" width="19.48" height="3.56" fill="#fed27f"/>
</g></g>
<text transform="translate(20.50 501) rotate(-90)" font-size="4" fill="#222" text-anchor="end">Class</text>
<text transform="translate(31.41 501) rotate(-90)" font-size="4" fill="#222" text-anchor="end">FB2-1</text>
<text transform="translate(47.84 501) rotate(-90)" font-size="4" fill="#222" text-anchor="end">FB2-2</text>
<text transform="translate(64.26 501) rotate(-90)" font-size="4" fill="#222" text-anchor="end">FB2-3</text>
<text transform="translate(80.69 501) rotate(-90)" font-size="4" fill="#222" text-anchor="end">RB2-1</text>
<text transform="translate(97.11 501) rotate(-90)" font-size="4" fill="#222" text-anchor="end">RB2-2</text>
<text transform="translate(113.54 501) rotate(-90)" font-size="4" fill="#222" text-anchor="end">RB2-3</text>
<text transform="translate(129.96 501) rotate(-90)" font-size="4" fill="#222" text-anchor="end">DB2-1</text>
<text transform="translate(146.39 501) rotate(-90)" font-size="4" fill="#222" text-anchor="end">DB2-2</text>
<text transform="translate(162.81 501) rotate(-90)" font-size="4" fill="#222" text-anchor="end">DB2-3</text>
<text transform="translate(179.24 501) rotate(-90)" font-size="4" fill="#222" text-anchor="end">MB2-1</text>
<text transform="translate(195.66 501) rotate(-90)" font-size="4" fill="#222" text-anchor="end">MB2-2</text>
<text transform="translate(212.09 501) rotate(-90)" font-size="4" fill="#222" text-anchor="end">MB2-3</text>
<defs><linearGradient id="zs" x1="0" y1="1" x2="0" y2="0">
<stop offset="0.00" stop-color="#006837"/>
<stop offset="0.10" stop-color="#1a9850"/>
<stop offset="0.20" stop-color="#66bd63"/>
<stop offset="0.30" stop-color="#a6d96a"/>
<stop offset="0.40" stop-color="#d9ef8b"/>
<stop offset="0.50" stop-color="#ffffbf"/>
<stop offset="0.60" stop-color="#fee08b"/>
<stop offset="0.70" stop-color="#fdae61"/>
<stop offset="0.80" stop-color="#f46d43"/>
<stop offset="0.90" stop-color="#d73027"/>
<stop offset="1.00" stop-color="#a50026"/>
</linearGradient></defs>
<text x="220.6" y="304.8" font-size="3.6" font-weight="bold" fill="#111">Z-Score</text>
<rect x="221.4" y="307" width="4.3" height="54" fill="url(#zs)"/>
<text x="226.8" y="308.7" font-size="3.4" fill="#000">4</text>
<text x="226.8" y="322.0" font-size="3.4" fill="#000">2</text>
<text x="226.8" y="335.3" font-size="3.4" fill="#000">0</text>
<text x="226.8" y="348.6" font-size="3.4" fill="#000">-2</text>
<text x="226.8" y="361.9" font-size="3.4" fill="#000">-4</text>
<text x="237.1" y="304.8" font-size="3.6" font-weight="bold" fill="#111">Group</text>
<rect x="237.1" y="307.40" width="3.9" height="3.9" fill="#1B9E77"/>
<text x="242.3" y="310.55" font-size="3.5" fill="#000">FB2</text>
<rect x="237.1" y="311.82" width="3.9" height="3.9" fill="#D95F02"/>
<text x="242.3" y="314.97" font-size="3.5" fill="#000">RB2</text>
<rect x="237.1" y="316.24" width="3.9" height="3.9" fill="#7570B3"/>
<text x="242.3" y="319.39" font-size="3.5" fill="#000">DB2</text>
<rect x="237.1" y="320.66" width="3.9" height="3.9" fill="#E7298A"/>
<text x="242.3" y="323.81" font-size="3.5" fill="#000">MB2</text>
<text x="237.1" y="330.9" font-size="3.6" font-weight="bold" fill="#111">Class</text>
<rect x="237.1" y="333.60" width="3.9" height="3.9" fill="#8DD3C7"/>
<text x="242.3" y="336.75" font-size="3.5" fill="#000">Flavonoids</text>
<rect x="237.1" y="338.00" width="3.9" height="3.9" fill="#FFFFB3"/>
<text x="242.3" y="341.15" font-size="3.5" fill="#000">Lipids</text>
<rect x="237.1" y="342.40" width="3.9" height="3.9" fill="#BEBADA"/>
<text x="242.3" y="345.55" font-size="3.5" fill="#000">Phenolic acids</text>
<rect x="237.1" y="346.80" width="3.9" height="3.9" fill="#FB8072"/>
<text x="242.3" y="349.95" font-size="3.5" fill="#000">Others</text>
<rect x="237.1" y="351.20" width="3.9" height="3.9" fill="#80B1D3"/>
<text x="242.3" y="354.35" font-size="3.5" fill="#000">Amino acids and derivatives</text>
<rect x="237.1" y="355.60" width="3.9" height="3.9" fill="#FDB462"/>
<text x="242.3" y="358.75" font-size="3.5" fill="#000">Alkaloids</text>
<rect x="237.1" y="360.00" width="3.9" height="3.9" fill="#B3DE69"/>
<text x="242.3" y="363.15" font-size="3.5" fill="#000">Organic acids</text>
<rect x="237.1" y="364.40" width="3.9" height="3.9" fill="#FCCDE5"/>
<text x="242.3" y="367.55" font-size="3.5" fill="#000">Nucleotides and derivatives</text>
<rect x="237.1" y="368.80" width="3.9" height="3.9" fill="#D9D9D9"/>
<text x="242.3" y="371.95" font-size="3.5" fill="#000">Terpenoids</text>
<rect x="237.1" y="373.20" width="3.9" height="3.9" fill="#BC80BD"/>
<text x="242.3" y="376.35" font-size="3.5" fill="#000">Lignans and Coumarins</text>
<rect x="237.1" y="377.60" width="3.9" height="3.9" fill="#CCEBC5"/>
<text x="242.3" y="380.75" font-size="3.5" fill="#000">Tannins</text>
<rect x="237.1" y="382.00" width="3.9" height="3.9" fill="#FFED6F"/>
<text x="242.3" y="385.15" font-size="3.5" fill="#000">Steroids</text>
</g>
<g id="panelD">
<rect x="316.8" y="305.2" width="199.7" height="210.7" fill="#fff"/>
<line x1="355.4" y1="305.2" x2="355.4" y2="515.9" stroke="#ececec" stroke-width="0.4"/>
<line x1="408.7" y1="305.2" x2="408.7" y2="515.9" stroke="#ececec" stroke-width="0.4"/>
<line x1="461.9" y1="305.2" x2="461.9" y2="515.9" stroke="#ececec" stroke-width="0.4"/>
<line x1="328.7" y1="305.2" x2="328.7" y2="515.9" stroke="#e4e4e4" stroke-width="0.6"/>
<line x1="382.0" y1="305.2" x2="382.0" y2="515.9" stroke="#e4e4e4" stroke-width="0.6"/>
<line x1="435.3" y1="305.2" x2="435.3" y2="515.9" stroke="#e4e4e4" stroke-width="0.6"/>
<line x1="488.6" y1="305.2" x2="488.6" y2="515.9" stroke="#e4e4e4" stroke-width="0.6"/>
<line x1="316.8" y1="326.5" x2="516.5" y2="326.5" stroke="#ececec" stroke-width="0.4"/>
<line x1="316.8" y1="369.1" x2="516.5" y2="369.1" stroke="#ececec" stroke-width="0.4"/>
<line x1="316.8" y1="411.7" x2="516.5" y2="411.7" stroke="#ececec" stroke-width="0.4"/>
<line x1="316.8" y1="454.3" x2="516.5" y2="454.3" stroke="#ececec" stroke-width="0.4"/>
<line x1="316.8" y1="496.9" x2="516.5" y2="496.9" stroke="#ececec" stroke-width="0.4"/>
<line x1="316.8" y1="347.8" x2="516.5" y2="347.8" stroke="#e4e4e4" stroke-width="0.6"/>
<line x1="316.8" y1="390.4" x2="516.5" y2="390.4" stroke="#e4e4e4" stroke-width="0.6"/>
<line x1="316.8" y1="433.0" x2="516.5" y2="433.0" stroke="#e4e4e4" stroke-width="0.6"/>
<line x1="316.8" y1="475.6" x2="516.5" y2="475.6" stroke="#e4e4e4" stroke-width="0.6"/>
<rect x="316.8" y="305.2" width="199.7" height="210.7" fill="none" stroke="#404040" stroke-width="0.75"/>
<text x="416.2" y="300.9" font-size="7.6" fill="#222" text-anchor="middle" textLength="32.5" lengthAdjust="spacingAndGlyphs">2D PCA Plot</text>
<line x1="315.5" y1="305.2" x2="316.8" y2="305.2" stroke="#555" stroke-width="0.4"/>
<text x="314.6" y="306.5" font-size="3.6" fill="#555" text-anchor="end">20</text>
<line x1="315.5" y1="347.8" x2="316.8" y2="347.8" stroke="#555" stroke-width="0.4"/>
<text x="314.6" y="349.1" font-size="3.6" fill="#555" text-anchor="end">10</text>
<line x1="315.5" y1="390.4" x2="316.8" y2="390.4" stroke="#555" stroke-width="0.4"/>
<text x="314.6" y="391.7" font-size="3.6" fill="#555" text-anchor="end">0</text>
<line x1="315.5" y1="433.0" x2="316.8" y2="433.0" stroke="#555" stroke-width="0.4"/>
<text x="314.6" y="434.3" font-size="3.6" fill="#555" text-anchor="end">-10</text>
<line x1="315.5" y1="475.6" x2="316.8" y2="475.6" stroke="#555" stroke-width="0.4"/>
<text x="314.6" y="476.9" font-size="3.6" fill="#555" text-anchor="end">-20</text>
<line x1="328.7" y1="515.9" x2="328.7" y2="517.2" stroke="#555" stroke-width="0.4"/>
<text x="328.7" y="520.9" font-size="3.6" fill="#555" text-anchor="middle">-40</text>
<line x1="382.0" y1="515.9" x2="382.0" y2="517.2" stroke="#555" stroke-width="0.4"/>
<text x="382.0" y="520.9" font-size="3.6" fill="#555" text-anchor="middle">-20</text>
<line x1="435.3" y1="515.9" x2="435.3" y2="517.2" stroke="#555" stroke-width="0.4"/>
<text x="435.3" y="520.9" font-size="3.6" fill="#555" text-anchor="middle">0</text>
<line x1="488.6" y1="515.9" x2="488.6" y2="517.2" stroke="#555" stroke-width="0.4"/>
<text x="488.6" y="520.9" font-size="3.6" fill="#555" text-anchor="middle">20</text>
<text x="415.7" y="529.6" font-size="5.2" fill="#333" text-anchor="middle" textLength="28" lengthAdjust="spacingAndGlyphs">PC1 (55.5%)</text>
<text transform="translate(306.6 410.6) rotate(-90)" font-size="4.9" fill="#333" text-anchor="middle" textLength="39.8" lengthAdjust="spacingAndGlyphs">PC2 (19.84%)</text>
<path d="M348.5,353.6 L353.3,344.4" fill="none" stroke="#444" stroke-width="0.5"/>
<path d="M347.1,358.6 Q349.5,362 352.7,368.3" fill="none" stroke="#444" stroke-width="0.5"/>
<path d="M344.5,360.8 L339.7,370.3" fill="none" stroke="#444" stroke-width="0.5"/>
<path d="M479.4,325.6 L485.3,335.6" fill="none" stroke="#444" stroke-width="0.5"/>
<path d="M492.6,324.6 L487.5,335.4" fill="none" stroke="#444" stroke-width="0.5"/>
<path d="M486.6,338.3 L489.6,345.5" fill="none" stroke="#444" stroke-width="0.5"/>
<path d="M499.1,366.2 L477.9,392.2" fill="none" stroke="#444" stroke-width="0.5"/>
<path d="M483.0,383.6 L477.7,392.5" fill="none" stroke="#444" stroke-width="0.5"/>
<path d="M470.6,406.2 Q472.5,400 476.1,395.6" fill="none" stroke="#444" stroke-width="0.5"/>
<path d="M424.5,453.2 L429.1,463.4" fill="none" stroke="#444" stroke-width="0.5"/>
<path d="M440.8,482.3 L435.7,473.1" fill="none" stroke="#444" stroke-width="0.5"/>
<path d="M424.5,496.3 L429.1,485.7" fill="none" stroke="#444" stroke-width="0.5"/>
<circle cx="348.3" cy="354.1" r="1.4" fill="#1B9E77"/>
<circle cx="346.9" cy="358.1" r="1.4" fill="#1B9E77"/>
<circle cx="344.7" cy="360.3" r="1.4" fill="#1B9E77"/>
<circle cx="429.3" cy="463.9" r="1.4" fill="#D95F02"/>
<circle cx="435.4" cy="472.6" r="1.4" fill="#D95F02"/>
<circle cx="429.3" cy="485.2" r="1.4" fill="#D95F02"/>
<circle cx="477.6" cy="392.7" r="1.4" fill="#7570B3"/>
<circle cx="476.9" cy="394" r="1.4" fill="#7570B3"/>
<circle cx="476.3" cy="395.3" r="1.4" fill="#7570B3"/>
<circle cx="485.6" cy="336.1" r="1.4" fill="#E7298A"/>
<circle cx="487.3" cy="335.9" r="1.4" fill="#E7298A"/>
<circle cx="486.4" cy="337.8" r="1.4" fill="#E7298A"/>
<rect x="353.1" y="338.1" width="13.3" height="6.8" rx="1.1" fill="#fff" stroke="#2a2a2a" stroke-width="0.6"/>
<text x="359.75" y="343.15" font-size="4.7" fill="#000" stroke="#000" stroke-width="0.1" text-anchor="middle" textLength="10" lengthAdjust="spacingAndGlyphs">FB2-1</text>
<rect x="352.5" y="367.7" width="13.3" height="6.9" rx="1.1" fill="#fff" stroke="#2a2a2a" stroke-width="0.6"/>
<text x="359.15" y="372.80" font-size="4.7" fill="#000" stroke="#000" stroke-width="0.1" text-anchor="middle" textLength="10" lengthAdjust="spacingAndGlyphs">FB2-2</text>
<rect x="326.6" y="369.7" width="13.3" height="6.8" rx="1.1" fill="#fff" stroke="#2a2a2a" stroke-width="0.6"/>
<text x="333.25" y="374.75" font-size="4.7" fill="#000" stroke="#000" stroke-width="0.1" text-anchor="middle" textLength="10" lengthAdjust="spacingAndGlyphs">FB2-3</text>
<rect x="466" y="320.3" width="13.6" height="6.7" rx="1.1" fill="#fff" stroke="#2a2a2a" stroke-width="0.6"/>
<text x="472.80" y="325.30" font-size="4.7" fill="#000" stroke="#000" stroke-width="0.1" text-anchor="middle" textLength="10" lengthAdjust="spacingAndGlyphs">MB2-3</text>
<rect x="492.4" y="319.3" width="13.9" height="6.7" rx="1.1" fill="#fff" stroke="#2a2a2a" stroke-width="0.6"/>
<text x="499.35" y="324.30" font-size="4.7" fill="#000" stroke="#000" stroke-width="0.1" text-anchor="middle" textLength="10" lengthAdjust="spacingAndGlyphs">MB2-2</text>
<rect x="484" y="345.4" width="13.4" height="6.8" rx="1.1" fill="#fff" stroke="#2a2a2a" stroke-width="0.6"/>
<text x="490.70" y="350.45" font-size="4.7" fill="#000" stroke="#000" stroke-width="0.1" text-anchor="middle" textLength="10" lengthAdjust="spacingAndGlyphs">MB2-1</text>
<rect x="498.9" y="361" width="13.3" height="7.0" rx="1.1" fill="#fff" stroke="#2a2a2a" stroke-width="0.6"/>
<text x="505.55" y="366.15" font-size="4.7" fill="#000" stroke="#000" stroke-width="0.1" text-anchor="middle" textLength="10" lengthAdjust="spacingAndGlyphs">DB2-3</text>
<rect x="482.6" y="377.5" width="13.2" height="6.9" rx="1.1" fill="#fff" stroke="#2a2a2a" stroke-width="0.6"/>
<text x="489.20" y="382.60" font-size="4.7" fill="#000" stroke="#000" stroke-width="0.1" text-anchor="middle" textLength="10" lengthAdjust="spacingAndGlyphs">DB2-1</text>
<rect x="457.3" y="405.5" width="13.6" height="7.0" rx="1.1" fill="#fff" stroke="#2a2a2a" stroke-width="0.6"/>
<text x="464.10" y="410.65" font-size="4.7" fill="#000" stroke="#000" stroke-width="0.1" text-anchor="middle" textLength="10" lengthAdjust="spacingAndGlyphs">DB2-2</text>
<rect x="410.9" y="448.6" width="13.8" height="6.9" rx="1.1" fill="#fff" stroke="#2a2a2a" stroke-width="0.6"/>
<text x="417.80" y="453.70" font-size="4.7" fill="#000" stroke="#000" stroke-width="0.1" text-anchor="middle" textLength="10" lengthAdjust="spacingAndGlyphs">RB2-1</text>
<rect x="440.3" y="481.8" width="13.8" height="7.1" rx="1.1" fill="#fff" stroke="#2a2a2a" stroke-width="0.6"/>
<text x="447.20" y="487.00" font-size="4.7" fill="#000" stroke="#000" stroke-width="0.1" text-anchor="middle" textLength="10" lengthAdjust="spacingAndGlyphs">RB2-3</text>
<rect x="410.9" y="495" width="13.8" height="7.0" rx="1.1" fill="#fff" stroke="#2a2a2a" stroke-width="0.6"/>
<text x="417.80" y="500.15" font-size="4.7" fill="#000" stroke="#000" stroke-width="0.1" text-anchor="middle" textLength="10" lengthAdjust="spacingAndGlyphs">RB2-2</text>
<text x="522.8" y="392" font-size="6.2" font-weight="bold" fill="#222" textLength="14.6" lengthAdjust="spacingAndGlyphs">Group</text>
<circle cx="526.7" cy="400.4" r="1.45" fill="#1B9E77"/>
<text x="532.3" y="402.1" font-size="4.9" fill="#222" textLength="7.8" lengthAdjust="spacingAndGlyphs">FB2</text>
<circle cx="526.7" cy="410.0" r="1.45" fill="#D95F02"/>
<text x="532.3" y="411.7" font-size="4.9" fill="#222" textLength="7.8" lengthAdjust="spacingAndGlyphs">RB2</text>
<circle cx="526.7" cy="419.6" r="1.45" fill="#7570B3"/>
<text x="532.3" y="421.3" font-size="4.9" fill="#222" textLength="7.8" lengthAdjust="spacingAndGlyphs">DB2</text>
<circle cx="526.7" cy="429.2" r="1.45" fill="#E7298A"/>
<text x="532.3" y="430.9" font-size="4.9" fill="#222" textLength="7.8" lengthAdjust="spacingAndGlyphs">MB2</text>
</g>
</svg></body></html>
